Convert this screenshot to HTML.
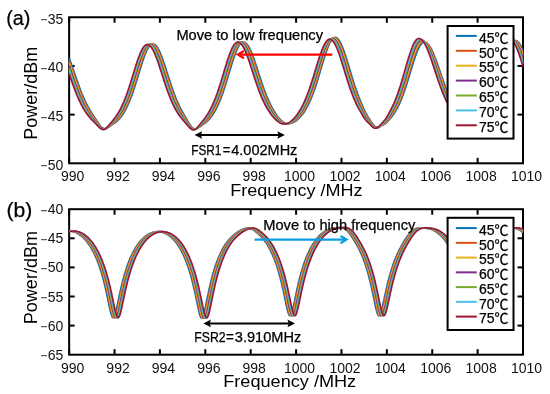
<!DOCTYPE html>
<html><head><meta charset="utf-8"><style>
html,body{margin:0;padding:0;background:#fff;}
svg{display:block;}
text{font-family:"Liberation Sans","Noto Sans CJK SC",sans-serif;fill:#000;stroke:#000;stroke-width:0.25px;}
.tk{font-size:14px;} .tk text{stroke:none;fill:#111;}
.lg{font-size:14px;}
</style></head><body>
<svg width="550" height="394" viewBox="0 0 550 394">
<rect width="550" height="394" fill="#fff"/>
<!-- plot a -->
<g stroke="#000" stroke-width="2" fill="none">
<rect x="69.15" y="17.25" width="453.85" height="146.05"/>
<line x1="69.15" y1="163.30" x2="69.15" y2="157.80"/>
<line x1="69.15" y1="17.25" x2="69.15" y2="22.75"/>
<line x1="114.54" y1="163.30" x2="114.54" y2="157.80"/>
<line x1="114.54" y1="17.25" x2="114.54" y2="22.75"/>
<line x1="159.92" y1="163.30" x2="159.92" y2="157.80"/>
<line x1="159.92" y1="17.25" x2="159.92" y2="22.75"/>
<line x1="205.31" y1="163.30" x2="205.31" y2="157.80"/>
<line x1="205.31" y1="17.25" x2="205.31" y2="22.75"/>
<line x1="250.69" y1="163.30" x2="250.69" y2="157.80"/>
<line x1="250.69" y1="17.25" x2="250.69" y2="22.75"/>
<line x1="296.08" y1="163.30" x2="296.08" y2="157.80"/>
<line x1="296.08" y1="17.25" x2="296.08" y2="22.75"/>
<line x1="341.46" y1="163.30" x2="341.46" y2="157.80"/>
<line x1="341.46" y1="17.25" x2="341.46" y2="22.75"/>
<line x1="386.85" y1="163.30" x2="386.85" y2="157.80"/>
<line x1="386.85" y1="17.25" x2="386.85" y2="22.75"/>
<line x1="432.23" y1="163.30" x2="432.23" y2="157.80"/>
<line x1="432.23" y1="17.25" x2="432.23" y2="22.75"/>
<line x1="477.62" y1="163.30" x2="477.62" y2="157.80"/>
<line x1="477.62" y1="17.25" x2="477.62" y2="22.75"/>
<line x1="523.00" y1="163.30" x2="523.00" y2="157.80"/>
<line x1="523.00" y1="17.25" x2="523.00" y2="22.75"/>
<line x1="69.15" y1="65.93" x2="74.65" y2="65.93"/>
<line x1="523.00" y1="65.93" x2="517.50" y2="65.93"/>
<line x1="69.15" y1="114.62" x2="74.65" y2="114.62"/>
<line x1="523.00" y1="114.62" x2="517.50" y2="114.62"/>
</g>
<g fill="none" stroke-width="1.7" stroke-linejoin="round">
<path d="M69.2 58.1 69.8 59.7 70.4 61.5 71.1 63.2 71.7 65.1 72.4 66.9 73.0 68.8 73.7 70.7 74.3 72.6 75.0 74.5 75.6 76.3 76.3 78.2 76.9 80.1 77.6 82.0 78.2 83.8 78.9 85.6 79.5 87.4 80.2 89.1 80.8 90.8 81.5 92.5 82.1 94.1 82.8 95.6 83.4 97.2 84.1 98.7 84.7 100.1 85.4 101.5 86.0 102.9 86.7 104.2 87.3 105.4 88.0 106.6 88.6 107.8 89.3 109.0 89.9 110.1 90.6 111.1 91.2 112.2 91.9 113.2 92.5 114.2 93.2 115.2 93.8 116.2 94.5 117.2 95.1 118.1 95.8 119.1 96.4 120.1 97.1 121.1 97.7 122.1 98.4 123.1 99.0 124.1 99.7 125.0 100.3 125.8 101.0 126.6 101.6 127.2 102.3 127.7 102.9 128.2 103.6 128.4 104.2 128.6 104.9 128.6 105.5 128.5 106.2 128.3 106.8 128.0 107.5 127.7 108.1 127.3 108.8 126.9 109.4 126.5 110.1 126.1 110.7 125.7 111.4 125.3 112.0 124.9 112.7 124.4 113.3 124.0 114.0 123.6 114.6 123.1 115.2 122.7 115.9 122.2 116.5 121.6 117.2 121.1 117.8 120.5 118.5 119.8 119.1 119.1 119.8 118.4 120.4 117.6 121.1 116.8 121.7 115.9 122.4 115.0 123.0 114.0 123.7 113.0 124.3 111.9 125.0 110.8 125.6 109.6 126.3 108.3 126.9 107.0 127.6 105.6 128.2 104.2 128.9 102.7 129.5 101.2 130.2 99.6 130.8 98.0 131.5 96.2 132.1 94.5 132.8 92.6 133.4 90.8 134.1 88.8 134.7 86.9 135.4 84.8 136.0 82.8 136.7 80.7 137.3 78.6 138.0 76.4 138.6 74.3 139.3 72.1 139.9 70.0 140.6 67.9 141.2 65.8 141.9 63.7 142.5 61.7 143.2 59.8 143.8 57.9 144.5 56.1 145.1 54.4 145.8 52.7 146.4 51.2 147.1 49.9 147.7 48.6 148.4 47.5 149.0 46.5 149.7 45.7 150.3 45.0 151.0 44.5 151.6 44.1 152.3 43.9 152.9 43.8 153.6 43.9 154.2 44.2 154.9 44.5 155.5 45.1 156.2 45.7 156.8 46.5 157.5 47.5 158.1 48.6 158.8 49.7 159.4 51.0 160.0 52.4 160.7 54.0 161.3 55.6 162.0 57.3 162.6 59.0 163.3 60.9 163.9 62.7 164.6 64.7 165.2 66.7 165.9 68.7 166.5 70.7 167.2 72.7 167.8 74.8 168.5 76.8 169.1 78.9 169.8 80.9 170.4 82.9 171.1 84.8 171.7 86.8 172.4 88.6 173.0 90.5 173.7 92.3 174.3 94.1 175.0 95.8 175.6 97.4 176.3 99.0 176.9 100.6 177.6 102.1 178.2 103.5 178.9 104.9 179.5 106.3 180.2 107.6 180.8 108.9 181.5 110.1 182.1 111.3 182.8 112.5 183.4 113.6 184.1 114.7 184.7 115.9 185.4 117.0 186.0 118.1 186.7 119.2 187.3 120.3 188.0 121.4 188.6 122.5 189.3 123.6 189.9 124.6 190.6 125.5 191.2 126.3 191.9 127.1 192.5 127.7 193.2 128.2 193.8 128.5 194.5 128.7 195.1 128.8 195.8 128.7 196.4 128.6 197.1 128.3 197.7 128.0 198.4 127.7 199.0 127.3 199.7 126.8 200.3 126.4 201.0 126.0 201.6 125.5 202.3 125.1 202.9 124.6 203.6 124.2 204.2 123.7 204.9 123.3 205.5 122.8 206.1 122.3 206.8 121.7 207.4 121.1 208.1 120.5 208.7 119.8 209.4 119.1 210.0 118.4 210.7 117.6 211.3 116.7 212.0 115.8 212.6 114.9 213.3 113.9 213.9 112.9 214.6 111.8 215.2 110.6 215.9 109.4 216.5 108.1 217.2 106.8 217.8 105.4 218.5 104.0 219.1 102.5 219.8 101.0 220.4 99.4 221.1 97.7 221.7 96.0 222.4 94.2 223.0 92.4 223.7 90.5 224.3 88.5 225.0 86.5 225.6 84.5 226.3 82.4 226.9 80.3 227.6 78.2 228.2 76.0 228.9 73.9 229.5 71.7 230.2 69.5 230.8 67.4 231.5 65.3 232.1 63.2 232.8 61.1 233.4 59.1 234.1 57.2 234.7 55.4 235.4 53.6 236.0 51.9 236.7 50.4 237.3 48.9 238.0 47.6 238.6 46.4 239.3 45.3 239.9 44.4 240.6 43.7 241.2 43.1 241.9 42.6 242.5 42.3 243.2 42.2 243.8 42.2 244.5 42.3 245.1 42.6 245.8 43.1 246.4 43.6 247.1 44.4 247.7 45.2 248.4 46.2 249.0 47.3 249.7 48.5 250.3 49.8 250.9 51.2 251.6 52.7 252.2 54.4 252.9 56.0 253.5 57.8 254.2 59.6 254.8 61.5 255.5 63.4 256.1 65.4 256.8 67.4 257.4 69.4 258.1 71.4 258.7 73.4 259.4 75.4 260.0 77.4 260.7 79.4 261.3 81.3 262.0 83.3 262.6 85.1 263.3 87.0 263.9 88.8 264.6 90.6 265.2 92.3 265.9 94.0 266.5 95.6 267.2 97.2 267.8 98.7 268.5 100.2 269.1 101.6 269.8 103.0 270.4 104.3 271.1 105.6 271.7 106.9 272.4 108.1 273.0 109.3 273.7 110.4 274.3 111.5 275.0 112.5 275.6 113.6 276.3 114.5 276.9 115.5 277.6 116.3 278.2 117.2 278.9 118.0 279.5 118.7 280.2 119.4 280.8 120.1 281.5 120.7 282.1 121.2 282.8 121.7 283.4 122.1 284.1 122.5 284.7 122.8 285.4 123.1 286.0 123.3 286.7 123.5 287.3 123.5 288.0 123.6 288.6 123.6 289.3 123.5 289.9 123.4 290.6 123.3 291.2 123.2 291.9 123.0 292.5 122.7 293.2 122.4 293.8 122.1 294.5 121.8 295.1 121.4 295.8 121.0 296.4 120.5 297.0 120.0 297.7 119.5 298.3 118.9 299.0 118.3 299.6 117.7 300.3 117.0 300.9 116.3 301.6 115.5 302.2 114.7 302.9 113.9 303.5 113.0 304.2 112.0 304.8 111.0 305.5 110.0 306.1 108.9 306.8 107.7 307.4 106.5 308.1 105.3 308.7 103.9 309.4 102.6 310.0 101.1 310.7 99.6 311.3 98.1 312.0 96.5 312.6 94.8 313.3 93.1 313.9 91.3 314.6 89.4 315.2 87.5 315.9 85.6 316.5 83.6 317.2 81.6 317.8 79.5 318.5 77.3 319.1 75.2 319.8 73.0 320.4 70.8 321.1 68.6 321.7 66.4 322.4 64.2 323.0 62.1 323.7 59.9 324.3 57.8 325.0 55.8 325.6 53.8 326.3 51.9 326.9 50.1 327.6 48.3 328.2 46.7 328.9 45.1 329.5 43.7 330.2 42.4 330.8 41.3 331.5 40.3 332.1 39.4 332.8 38.7 333.4 38.1 334.1 37.7 334.7 37.5 335.4 37.4 336.0 37.6 336.7 37.9 337.3 38.3 338.0 38.9 338.6 39.7 339.3 40.6 339.9 41.6 340.6 42.8 341.2 44.1 341.8 45.6 342.5 47.1 343.1 48.7 343.8 50.5 344.4 52.3 345.1 54.2 345.7 56.2 346.4 58.2 347.0 60.3 347.7 62.4 348.3 64.6 349.0 66.8 349.6 68.9 350.3 71.1 350.9 73.3 351.6 75.4 352.2 77.6 352.9 79.7 353.5 81.7 354.2 83.8 354.8 85.8 355.5 87.7 356.1 89.6 356.8 91.4 357.4 93.2 358.1 94.9 358.7 96.6 359.4 98.3 360.0 99.9 360.7 101.5 361.3 103.0 362.0 104.6 362.6 106.2 363.3 107.7 363.9 109.2 364.6 110.7 365.2 112.0 365.9 113.2 366.5 114.3 367.2 115.4 367.8 116.4 368.5 117.4 369.1 118.4 369.8 119.5 370.4 120.5 371.1 121.6 371.7 122.6 372.4 123.6 373.0 124.4 373.7 125.2 374.3 125.8 375.0 126.4 375.6 126.8 376.3 127.0 376.9 127.2 377.6 127.2 378.2 127.1 378.9 126.9 379.5 126.7 380.2 126.4 380.8 126.0 381.5 125.7 382.1 125.3 382.8 125.0 383.4 124.7 384.1 124.4 384.7 124.0 385.4 123.6 386.0 123.1 386.7 122.5 387.3 121.9 387.9 121.2 388.6 120.4 389.2 119.7 389.9 118.9 390.5 118.2 391.2 117.4 391.8 116.6 392.5 115.8 393.1 114.9 393.8 114.0 394.4 113.0 395.1 112.0 395.7 111.0 396.4 109.9 397.0 108.7 397.7 107.5 398.3 106.2 399.0 104.8 399.6 103.4 400.3 102.0 400.9 100.4 401.6 98.9 402.2 97.2 402.9 95.5 403.5 93.8 404.2 91.9 404.8 90.1 405.5 88.1 406.1 86.2 406.8 84.1 407.4 82.1 408.1 80.0 408.7 77.9 409.4 75.7 410.0 73.5 410.7 71.4 411.3 69.2 412.0 67.0 412.6 64.9 413.3 62.8 413.9 60.8 414.6 58.8 415.2 56.8 415.9 55.0 416.5 53.2 417.2 51.5 417.8 50.0 418.5 48.6 419.1 47.2 419.8 46.1 420.4 45.1 421.1 44.2 421.7 43.4 422.4 42.9 423.0 42.5 423.7 42.2 424.3 42.2 425.0 42.2 425.6 42.4 426.3 42.7 426.9 43.1 427.6 43.6 428.2 44.3 428.9 45.0 429.5 45.9 430.2 46.9 430.8 48.0 431.5 49.2 432.1 50.5 432.7 51.9 433.4 53.3 434.0 54.9 434.7 56.5 435.3 58.2 436.0 59.9 436.6 61.6 437.3 63.4 437.9 65.3 438.6 67.1 439.2 69.0 439.9 70.9 440.5 72.8 441.2 74.7 441.8 76.6 442.5 78.4 443.1 80.3 443.8 82.1 444.4 83.9 445.1 85.6 445.7 87.4 446.4 89.1 447.0 90.7 447.7 92.3 448.3 93.9 449.0 95.4 449.6 96.9 450.3 98.3 450.9 99.7 451.6 101.0 452.2 102.3 452.9 103.6 453.5 104.8 454.2 105.9 454.8 107.1 455.5 108.1 456.1 109.1 456.8 110.1 457.4 111.1 458.1 112.0 458.7 112.8 459.4 113.7 460.0 114.4 460.7 115.2 461.3 115.9 462.0 116.5 462.6 117.2 463.3 117.8 463.9 118.3 464.6 118.8 465.2 119.3 465.9 119.7 466.5 120.2 467.2 120.5 467.8 120.9 468.5 121.2 469.1 121.4 469.8 121.7 470.4 121.9 471.1 122.1 471.7 122.2 472.4 122.3 473.0 122.4 473.7 122.4 474.3 122.4 475.0 122.4 475.6 122.3 476.3 122.1 476.9 122.0 477.6 121.7 478.2 121.4 478.8 121.1 479.5 120.7 480.1 120.3 480.8 119.8 481.4 119.3 482.1 118.7 482.7 118.1 483.4 117.4 484.0 116.6 484.7 115.8 485.3 115.0 486.0 114.0 486.6 113.1 487.3 112.0 487.9 111.0 488.6 109.8 489.2 108.6 489.9 107.3 490.5 106.0 491.2 104.6 491.8 103.1 492.5 101.6 493.1 100.0 493.8 98.3 494.4 96.6 495.1 94.7 495.7 92.9 496.4 90.9 497.0 88.9 497.7 86.9 498.3 84.8 499.0 82.6 499.6 80.4 500.3 78.1 500.9 75.9 501.6 73.6 502.2 71.2 502.9 68.9 503.5 66.6 504.2 64.3 504.8 62.1 505.5 59.9 506.1 57.7 506.8 55.7 507.4 53.7 508.1 51.8 508.7 50.0 509.4 48.4 510.0 46.9 510.7 45.5 511.3 44.3 512.0 43.3 512.6 42.4 513.3 41.7 513.9 41.1 514.6 40.8 515.2 40.6 515.9 40.7 516.5 40.8 517.2 41.2 517.8 41.7 518.5 42.3 519.1 43.1 519.8 44.0 520.4 45.1 521.1 46.3 521.7 47.7 522.4 49.1 523.0 50.7" stroke="#0072BD"/>
<path d="M69.2 60.5 69.8 62.2 70.4 64.0 71.1 65.9 71.7 67.7 72.4 69.6 73.0 71.5 73.7 73.4 74.3 75.3 75.0 77.2 75.6 79.0 76.3 80.9 76.9 82.8 77.6 84.6 78.2 86.4 78.9 88.1 79.5 89.8 80.2 91.5 80.8 93.2 81.5 94.8 82.1 96.3 82.8 97.8 83.4 99.3 84.1 100.7 84.7 102.1 85.4 103.4 86.0 104.7 86.7 106.0 87.3 107.2 88.0 108.3 88.6 109.4 89.3 110.5 89.9 111.5 90.6 112.6 91.2 113.5 91.9 114.5 92.5 115.4 93.2 116.4 93.8 117.3 94.5 118.2 95.1 119.2 95.8 120.1 96.4 121.0 97.1 122.0 97.7 122.9 98.4 123.8 99.0 124.7 99.7 125.6 100.3 126.4 101.0 127.1 101.6 127.7 102.3 128.2 102.9 128.5 103.6 128.8 104.2 128.9 104.9 128.8 105.5 128.7 106.2 128.5 106.8 128.1 107.5 127.8 108.1 127.3 108.8 126.9 109.4 126.4 110.1 126.0 110.7 125.5 111.4 125.0 112.0 124.5 112.7 124.0 113.3 123.6 114.0 123.1 114.6 122.5 115.2 122.0 115.9 121.5 116.5 120.9 117.2 120.2 117.8 119.6 118.5 118.9 119.1 118.1 119.8 117.3 120.4 116.4 121.1 115.5 121.7 114.6 122.4 113.6 123.0 112.5 123.7 111.4 124.3 110.3 125.0 109.1 125.6 107.8 126.3 106.5 126.9 105.1 127.6 103.6 128.2 102.1 128.9 100.6 129.5 98.9 130.2 97.3 130.8 95.5 131.5 93.7 132.1 91.9 132.8 90.0 133.4 88.0 134.1 86.0 134.7 84.0 135.4 81.9 136.0 79.8 136.7 77.7 137.3 75.6 138.0 73.4 138.6 71.3 139.3 69.2 139.9 67.1 140.6 65.0 141.2 62.9 141.9 61.0 142.5 59.0 143.2 57.2 143.8 55.4 144.5 53.8 145.1 52.2 145.8 50.7 146.4 49.4 147.1 48.2 147.7 47.2 148.4 46.2 149.0 45.5 149.7 44.9 150.3 44.4 151.0 44.1 151.6 44.0 152.3 44.0 152.9 44.1 153.6 44.4 154.2 44.9 154.9 45.5 155.5 46.2 156.2 47.1 156.8 48.0 157.5 49.2 158.1 50.4 158.8 51.7 159.4 53.2 160.0 54.7 160.7 56.4 161.3 58.1 162.0 59.9 162.6 61.7 163.3 63.7 163.9 65.6 164.6 67.6 165.2 69.6 165.9 71.6 166.5 73.7 167.2 75.7 167.8 77.8 168.5 79.8 169.1 81.8 169.8 83.8 170.4 85.7 171.1 87.6 171.7 89.5 172.4 91.3 173.0 93.1 173.7 94.8 174.3 96.5 175.0 98.1 175.6 99.7 176.3 101.2 176.9 102.7 177.6 104.1 178.2 105.5 178.9 106.8 179.5 108.1 180.2 109.4 180.8 110.6 181.5 111.7 182.1 112.8 182.8 113.9 183.4 115.0 184.1 116.1 184.7 117.1 185.4 118.2 186.0 119.3 186.7 120.3 187.3 121.4 188.0 122.4 188.6 123.4 189.3 124.4 189.9 125.3 190.6 126.2 191.2 127.0 191.9 127.7 192.5 128.2 193.2 128.6 193.8 128.9 194.5 129.1 195.1 129.1 195.8 129.0 196.4 128.8 197.1 128.5 197.7 128.1 198.4 127.7 199.0 127.2 199.7 126.7 200.3 126.2 201.0 125.7 201.6 125.2 202.3 124.7 202.9 124.2 203.6 123.7 204.2 123.2 204.9 122.6 205.5 122.1 206.1 121.5 206.8 120.9 207.4 120.2 208.1 119.6 208.7 118.8 209.4 118.1 210.0 117.2 210.7 116.4 211.3 115.5 212.0 114.5 212.6 113.5 213.3 112.4 213.9 111.3 214.6 110.1 215.2 108.9 215.9 107.6 216.5 106.2 217.2 104.8 217.8 103.4 218.5 101.9 219.1 100.3 219.8 98.7 220.4 97.0 221.1 95.2 221.7 93.4 222.4 91.6 223.0 89.7 223.7 87.7 224.3 85.7 225.0 83.6 225.6 81.6 226.3 79.4 226.9 77.3 227.6 75.1 228.2 73.0 228.9 70.8 229.5 68.6 230.2 66.5 230.8 64.4 231.5 62.3 232.1 60.3 232.8 58.3 233.4 56.4 234.1 54.6 234.7 52.9 235.4 51.3 236.0 49.7 236.7 48.3 237.3 47.1 238.0 45.9 238.6 44.9 239.3 44.1 239.9 43.4 240.6 42.9 241.2 42.5 241.9 42.2 242.5 42.2 243.2 42.2 243.8 42.5 244.5 42.8 245.1 43.3 245.8 43.9 246.4 44.7 247.1 45.6 247.7 46.6 248.4 47.8 249.0 49.0 249.7 50.4 250.3 51.9 250.9 53.4 251.6 55.1 252.2 56.8 252.9 58.6 253.5 60.5 254.2 62.4 254.8 64.3 255.5 66.3 256.1 68.3 256.8 70.3 257.4 72.3 258.1 74.3 258.7 76.3 259.4 78.3 260.0 80.2 260.7 82.2 261.3 84.1 262.0 86.0 262.6 87.8 263.3 89.6 263.9 91.3 264.6 93.0 265.2 94.7 265.9 96.3 266.5 97.8 267.2 99.3 267.8 100.8 268.5 102.2 269.1 103.5 269.8 104.9 270.4 106.1 271.1 107.4 271.7 108.5 272.4 109.7 273.0 110.8 273.7 111.8 274.3 112.9 275.0 113.8 275.6 114.8 276.3 115.7 276.9 116.5 277.6 117.4 278.2 118.1 278.9 118.9 279.5 119.6 280.2 120.2 280.8 120.8 281.5 121.3 282.1 121.8 282.8 122.3 283.4 122.6 284.1 123.0 284.7 123.2 285.4 123.4 286.0 123.6 286.7 123.7 287.3 123.7 288.0 123.7 288.6 123.6 289.3 123.5 289.9 123.4 290.6 123.2 291.2 123.0 291.9 122.8 292.5 122.5 293.2 122.1 293.8 121.8 294.5 121.4 295.1 120.9 295.8 120.4 296.4 119.9 297.0 119.4 297.7 118.8 298.3 118.2 299.0 117.5 299.6 116.8 300.3 116.0 300.9 115.3 301.6 114.4 302.2 113.5 302.9 112.6 303.5 111.7 304.2 110.6 304.8 109.6 305.5 108.4 306.1 107.3 306.8 106.0 307.4 104.8 308.1 103.4 308.7 102.0 309.4 100.6 310.0 99.0 310.7 97.5 311.3 95.8 312.0 94.1 312.6 92.4 313.3 90.6 313.9 88.7 314.6 86.8 315.2 84.9 315.9 82.8 316.5 80.8 317.2 78.7 317.8 76.6 318.5 74.4 319.1 72.2 319.8 70.1 320.4 67.9 321.1 65.7 321.7 63.5 322.4 61.4 323.0 59.2 323.7 57.2 324.3 55.2 325.0 53.2 325.6 51.3 326.3 49.5 326.9 47.9 327.6 46.3 328.2 44.8 328.9 43.4 329.5 42.2 330.2 41.1 330.8 40.2 331.5 39.4 332.1 38.7 332.8 38.2 333.4 37.9 334.1 37.7 334.7 37.8 335.4 38.0 336.0 38.3 336.7 38.8 337.3 39.5 338.0 40.3 338.6 41.3 339.3 42.4 339.9 43.6 340.6 44.9 341.2 46.4 341.8 48.0 342.5 49.7 343.1 51.4 343.8 53.3 344.4 55.2 345.1 57.2 345.7 59.3 346.4 61.4 347.0 63.5 347.7 65.6 348.3 67.8 349.0 70.0 349.6 72.1 350.3 74.3 350.9 76.4 351.6 78.5 352.2 80.6 352.9 82.7 353.5 84.7 354.2 86.6 354.8 88.5 355.5 90.4 356.1 92.2 356.8 94.0 357.4 95.7 358.1 97.3 358.7 98.9 359.4 100.5 360.0 102.0 360.7 103.5 361.3 105.0 362.0 106.5 362.6 108.0 363.3 109.5 363.9 110.9 364.6 112.2 365.2 113.5 365.9 114.6 366.5 115.7 367.2 116.6 367.8 117.6 368.5 118.5 369.1 119.5 369.8 120.5 370.4 121.5 371.1 122.5 371.7 123.4 372.4 124.3 373.0 125.1 373.7 125.8 374.3 126.4 375.0 126.9 375.6 127.2 376.3 127.4 376.9 127.5 377.6 127.5 378.2 127.3 378.9 127.1 379.5 126.8 380.2 126.4 380.8 126.0 381.5 125.6 382.1 125.2 382.8 124.8 383.4 124.4 384.1 124.0 384.7 123.6 385.4 123.1 386.0 122.6 386.7 121.9 387.3 121.2 387.9 120.4 388.6 119.6 389.2 118.8 389.9 117.9 390.5 117.1 391.2 116.3 391.8 115.4 392.5 114.5 393.1 113.6 393.8 112.6 394.4 111.5 395.1 110.5 395.7 109.3 396.4 108.1 397.0 106.8 397.7 105.5 398.3 104.2 399.0 102.7 399.6 101.2 400.3 99.7 400.9 98.0 401.6 96.4 402.2 94.6 402.9 92.8 403.5 91.0 404.2 89.1 404.8 87.1 405.5 85.1 406.1 83.1 406.8 81.0 407.4 78.8 408.1 76.7 408.7 74.5 409.4 72.3 410.0 70.1 410.7 68.0 411.3 65.8 412.0 63.6 412.6 61.5 413.3 59.5 413.9 57.5 414.6 55.6 415.2 53.8 415.9 52.0 416.5 50.4 417.2 48.9 417.8 47.5 418.5 46.2 419.1 45.1 419.8 44.1 420.4 43.3 421.1 42.6 421.7 42.1 422.4 41.8 423.0 41.6 423.7 41.6 424.3 41.7 425.0 41.9 425.6 42.2 426.3 42.7 426.9 43.3 427.6 44.0 428.2 44.8 428.9 45.8 429.5 46.8 430.2 48.0 430.8 49.2 431.5 50.6 432.1 52.0 432.7 53.5 433.4 55.1 434.0 56.7 434.7 58.4 435.3 60.2 436.0 62.0 436.6 63.8 437.3 65.7 437.9 67.6 438.6 69.5 439.2 71.4 439.9 73.3 440.5 75.2 441.2 77.1 441.8 78.9 442.5 80.8 443.1 82.6 443.8 84.4 444.4 86.2 445.1 87.9 445.7 89.6 446.4 91.2 447.0 92.8 447.7 94.4 448.3 95.9 449.0 97.3 449.6 98.8 450.3 100.1 450.9 101.5 451.6 102.7 452.2 104.0 452.9 105.2 453.5 106.3 454.2 107.4 454.8 108.5 455.5 109.5 456.1 110.5 456.8 111.4 457.4 112.3 458.1 113.1 458.7 113.9 459.4 114.7 460.0 115.4 460.7 116.1 461.3 116.8 462.0 117.4 462.6 118.0 463.3 118.5 463.9 119.0 464.6 119.5 465.2 119.9 465.9 120.3 466.5 120.7 467.2 121.0 467.8 121.3 468.5 121.5 469.1 121.8 469.8 122.0 470.4 122.1 471.1 122.2 471.7 122.3 472.4 122.4 473.0 122.4 473.7 122.4 474.3 122.3 475.0 122.2 475.6 122.1 476.3 121.9 476.9 121.6 477.6 121.3 478.2 120.9 478.8 120.5 479.5 120.1 480.1 119.6 480.8 119.0 481.4 118.4 482.1 117.7 482.7 117.0 483.4 116.3 484.0 115.4 484.7 114.5 485.3 113.6 486.0 112.6 486.6 111.6 487.3 110.4 487.9 109.3 488.6 108.0 489.2 106.7 489.9 105.3 490.5 103.9 491.2 102.4 491.8 100.8 492.5 99.2 493.1 97.5 493.8 95.7 494.4 93.9 495.1 92.0 495.7 90.0 496.4 88.0 497.0 85.9 497.7 83.7 498.3 81.5 499.0 79.3 499.6 77.0 500.3 74.7 500.9 72.4 501.6 70.1 502.2 67.8 502.9 65.5 503.5 63.2 504.2 61.0 504.8 58.8 505.5 56.7 506.1 54.6 506.8 52.7 507.4 50.9 508.1 49.1 508.7 47.6 509.4 46.1 510.0 44.8 510.7 43.7 511.3 42.7 512.0 41.9 512.6 41.2 513.3 40.8 513.9 40.5 514.6 40.5 515.2 40.6 515.9 40.8 516.5 41.2 517.2 41.8 517.8 42.5 518.5 43.3 519.1 44.3 519.8 45.5 520.4 46.7 521.1 48.1 521.7 49.6 522.4 51.2 523.0 52.9" stroke="#D95319"/>
<path d="M69.2 63.0 69.8 64.8 70.4 66.7 71.1 68.5 71.7 70.4 72.4 72.3 73.0 74.2 73.7 76.1 74.3 78.0 75.0 79.9 75.6 81.7 76.3 83.5 76.9 85.4 77.6 87.1 78.2 88.9 78.9 90.6 79.5 92.2 80.2 93.9 80.8 95.4 81.5 97.0 82.1 98.5 82.8 99.9 83.4 101.3 84.1 102.7 84.7 104.0 85.4 105.3 86.0 106.5 86.7 107.7 87.3 108.8 88.0 109.9 88.6 110.9 89.3 112.0 89.9 112.9 90.6 113.9 91.2 114.8 91.9 115.7 92.5 116.6 93.2 117.5 93.8 118.3 94.5 119.2 95.1 120.1 95.8 121.0 96.4 121.9 97.1 122.8 97.7 123.6 98.4 124.5 99.0 125.4 99.7 126.2 100.3 126.9 101.0 127.6 101.6 128.1 102.3 128.6 102.9 128.9 103.6 129.1 104.2 129.1 104.9 129.0 105.5 128.8 106.2 128.6 106.8 128.2 107.5 127.8 108.1 127.3 108.8 126.8 109.4 126.2 110.1 125.7 110.7 125.2 111.4 124.6 112.0 124.1 112.7 123.5 113.3 123.0 114.0 122.4 114.6 121.9 115.2 121.3 115.9 120.6 116.5 120.0 117.2 119.3 117.8 118.6 118.5 117.8 119.1 117.0 119.8 116.1 120.4 115.2 121.1 114.2 121.7 113.2 122.4 112.1 123.0 111.0 123.7 109.8 124.3 108.5 125.0 107.2 125.6 105.9 126.3 104.5 126.9 103.0 127.6 101.5 128.2 99.9 128.9 98.3 129.5 96.6 130.2 94.8 130.8 93.0 131.5 91.1 132.1 89.2 132.8 87.2 133.4 85.2 134.1 83.2 134.7 81.1 135.4 79.0 136.0 76.9 136.7 74.7 137.3 72.6 138.0 70.5 138.6 68.3 139.3 66.2 139.9 64.2 140.6 62.2 141.2 60.2 141.9 58.3 142.5 56.5 143.2 54.8 143.8 53.2 144.5 51.7 145.1 50.3 145.8 49.0 146.4 47.9 147.1 46.9 147.7 46.0 148.4 45.3 149.0 44.8 149.7 44.4 150.3 44.2 151.0 44.1 151.6 44.2 152.3 44.4 152.9 44.7 153.6 45.2 154.2 45.9 154.9 46.7 155.5 47.6 156.2 48.6 156.8 49.8 157.5 51.1 158.1 52.5 158.8 53.9 159.4 55.5 160.0 57.2 160.7 58.9 161.3 60.8 162.0 62.6 162.6 64.6 163.3 66.5 163.9 68.5 164.6 70.6 165.2 72.6 165.9 74.6 166.5 76.7 167.2 78.7 167.8 80.7 168.5 82.7 169.1 84.6 169.8 86.6 170.4 88.5 171.1 90.3 171.7 92.1 172.4 93.9 173.0 95.6 173.7 97.2 174.3 98.8 175.0 100.4 175.6 101.9 176.3 103.4 176.9 104.8 177.6 106.1 178.2 107.4 178.9 108.6 179.5 109.9 180.2 111.0 180.8 112.1 181.5 113.2 182.1 114.3 182.8 115.3 183.4 116.3 184.1 117.3 184.7 118.3 185.4 119.3 186.0 120.3 186.7 121.3 187.3 122.3 188.0 123.3 188.6 124.2 189.3 125.1 189.9 126.0 190.6 126.8 191.2 127.5 191.9 128.2 192.5 128.7 193.2 129.0 193.8 129.3 194.5 129.3 195.1 129.3 195.8 129.1 196.4 128.9 197.1 128.5 197.7 128.1 198.4 127.6 199.0 127.1 199.7 126.5 200.3 125.9 201.0 125.4 201.6 124.8 202.3 124.2 202.9 123.7 203.6 123.1 204.2 122.5 204.9 121.9 205.5 121.3 206.1 120.7 206.8 120.0 207.4 119.3 208.1 118.5 208.7 117.7 209.4 116.9 210.0 116.0 210.7 115.1 211.3 114.1 212.0 113.0 212.6 111.9 213.3 110.8 213.9 109.6 214.6 108.3 215.2 107.0 215.9 105.7 216.5 104.2 217.2 102.8 217.8 101.2 218.5 99.6 219.1 98.0 219.8 96.2 220.4 94.5 221.1 92.6 221.7 90.8 222.4 88.8 223.0 86.9 223.7 84.8 224.3 82.8 225.0 80.7 225.6 78.5 226.3 76.4 226.9 74.2 227.6 72.1 228.2 69.9 228.9 67.7 229.5 65.6 230.2 63.5 230.8 61.4 231.5 59.4 232.1 57.5 232.8 55.6 233.4 53.9 234.1 52.2 234.7 50.6 235.4 49.1 236.0 47.8 236.7 46.6 237.3 45.5 238.0 44.6 238.6 43.8 239.3 43.1 239.9 42.7 240.6 42.4 241.2 42.2 241.9 42.2 242.5 42.3 243.2 42.6 243.8 43.0 244.5 43.6 245.1 44.3 245.8 45.1 246.4 46.1 247.1 47.1 247.7 48.3 248.4 49.6 249.0 51.1 249.7 52.6 250.3 54.2 250.9 55.8 251.6 57.6 252.2 59.4 252.9 61.3 253.5 63.2 254.2 65.2 254.8 67.1 255.5 69.1 256.1 71.2 256.8 73.2 257.4 75.2 258.1 77.2 258.7 79.2 259.4 81.1 260.0 83.0 260.7 84.9 261.3 86.8 262.0 88.6 262.6 90.3 263.3 92.1 263.9 93.7 264.6 95.4 265.2 96.9 265.9 98.5 266.5 99.9 267.2 101.4 267.8 102.8 268.5 104.1 269.1 105.4 269.8 106.6 270.4 107.8 271.1 109.0 271.7 110.1 272.4 111.1 273.0 112.2 273.7 113.2 274.3 114.1 275.0 115.0 275.6 115.9 276.3 116.8 276.9 117.6 277.6 118.3 278.2 119.0 278.9 119.7 279.5 120.3 280.2 120.9 280.8 121.4 281.5 121.9 282.1 122.4 282.8 122.7 283.4 123.0 284.1 123.3 284.7 123.5 285.4 123.7 286.0 123.8 286.7 123.8 287.3 123.8 288.0 123.7 288.6 123.6 289.3 123.5 289.9 123.3 290.6 123.1 291.2 122.8 291.9 122.5 292.5 122.1 293.2 121.7 293.8 121.3 294.5 120.8 295.1 120.3 295.8 119.8 296.4 119.2 297.0 118.6 297.7 118.0 298.3 117.3 299.0 116.5 299.6 115.8 300.3 115.0 300.9 114.1 301.6 113.2 302.2 112.3 302.9 111.3 303.5 110.2 304.2 109.1 304.8 108.0 305.5 106.8 306.1 105.5 306.8 104.2 307.4 102.9 308.1 101.5 308.7 100.0 309.4 98.4 310.0 96.8 310.7 95.2 311.3 93.5 312.0 91.7 312.6 89.9 313.3 88.0 313.9 86.1 314.6 84.1 315.2 82.1 315.9 80.0 316.5 77.9 317.2 75.8 317.8 73.6 318.5 71.5 319.1 69.3 319.8 67.1 320.4 64.9 321.1 62.8 321.7 60.6 322.4 58.6 323.0 56.5 323.7 54.5 324.3 52.6 325.0 50.8 325.6 49.1 326.3 47.4 326.9 45.9 327.6 44.5 328.2 43.2 328.9 42.0 329.5 41.0 330.2 40.1 330.8 39.4 331.5 38.8 332.1 38.4 332.8 38.1 333.4 38.0 334.1 38.1 334.7 38.4 335.4 38.8 336.0 39.4 336.7 40.1 337.3 41.0 338.0 42.0 338.6 43.1 339.3 44.4 339.9 45.8 340.6 47.3 341.2 48.9 341.8 50.6 342.5 52.4 343.1 54.3 343.8 56.2 344.4 58.2 345.1 60.3 345.7 62.4 346.4 64.5 347.0 66.7 347.7 68.8 348.3 71.0 349.0 73.1 349.6 75.3 350.3 77.4 350.9 79.5 351.6 81.6 352.2 83.6 352.9 85.6 353.5 87.5 354.2 89.4 354.8 91.2 355.5 93.0 356.1 94.7 356.8 96.4 357.4 98.0 358.1 99.6 358.7 101.1 359.4 102.6 360.0 104.0 360.7 105.4 361.3 106.9 362.0 108.3 362.6 109.7 363.3 111.1 363.9 112.4 364.6 113.7 365.2 114.9 365.9 115.9 366.5 116.9 367.2 117.8 367.8 118.7 368.5 119.6 369.1 120.5 369.8 121.4 370.4 122.3 371.1 123.3 371.7 124.2 372.4 125.0 373.0 125.7 373.7 126.4 374.3 126.9 375.0 127.3 375.6 127.6 376.3 127.7 376.9 127.8 377.6 127.7 378.2 127.5 378.9 127.2 379.5 126.8 380.2 126.4 380.8 125.9 381.5 125.4 382.1 124.9 382.8 124.5 383.4 124.0 384.1 123.6 384.7 123.1 385.4 122.6 386.0 121.9 386.7 121.2 387.3 120.4 387.9 119.6 388.6 118.7 389.2 117.8 389.9 116.9 390.5 116.0 391.2 115.1 391.8 114.1 392.5 113.1 393.1 112.1 393.8 111.0 394.4 109.9 395.1 108.8 395.7 107.5 396.4 106.2 397.0 104.9 397.7 103.5 398.3 102.0 399.0 100.5 399.6 98.9 400.3 97.2 400.9 95.5 401.6 93.7 402.2 91.9 402.9 90.0 403.5 88.1 404.2 86.1 404.8 84.0 405.5 82.0 406.1 79.8 406.8 77.7 407.4 75.5 408.1 73.3 408.7 71.1 409.4 68.9 410.0 66.7 410.7 64.5 411.3 62.4 412.0 60.3 412.6 58.2 413.3 56.3 413.9 54.4 414.6 52.5 415.2 50.8 415.9 49.2 416.5 47.7 417.2 46.4 417.8 45.2 418.5 44.1 419.1 43.2 419.8 42.4 420.4 41.8 421.1 41.3 421.7 41.1 422.4 40.9 423.0 41.0 423.7 41.1 424.3 41.4 425.0 41.8 425.6 42.3 426.3 43.0 426.9 43.8 427.6 44.7 428.2 45.7 428.9 46.8 429.5 48.0 430.2 49.3 430.8 50.7 431.5 52.1 432.1 53.7 432.7 55.3 433.4 57.0 434.0 58.7 434.7 60.5 435.3 62.4 436.0 64.2 436.6 66.1 437.3 68.0 437.9 69.9 438.6 71.8 439.2 73.8 439.9 75.7 440.5 77.6 441.2 79.4 441.8 81.3 442.5 83.1 443.1 84.9 443.8 86.7 444.4 88.4 445.1 90.1 445.7 91.7 446.4 93.3 447.0 94.8 447.7 96.3 448.3 97.8 449.0 99.2 449.6 100.6 450.3 101.9 450.9 103.2 451.6 104.4 452.2 105.6 452.9 106.7 453.5 107.8 454.2 108.8 454.8 109.8 455.5 110.8 456.1 111.7 456.8 112.6 457.4 113.4 458.1 114.2 458.7 115.0 459.4 115.7 460.0 116.4 460.7 117.0 461.3 117.6 462.0 118.2 462.6 118.7 463.3 119.2 463.9 119.7 464.6 120.1 465.2 120.5 465.9 120.8 466.5 121.1 467.2 121.4 467.8 121.6 468.5 121.9 469.1 122.0 469.8 122.2 470.4 122.3 471.1 122.4 471.7 122.4 472.4 122.4 473.0 122.4 473.7 122.3 474.3 122.2 475.0 122.0 475.6 121.8 476.3 121.5 476.9 121.1 477.6 120.8 478.2 120.3 478.8 119.9 479.5 119.3 480.1 118.8 480.8 118.1 481.4 117.4 482.1 116.7 482.7 115.9 483.4 115.0 484.0 114.1 484.7 113.2 485.3 112.1 486.0 111.0 486.6 109.9 487.3 108.7 487.9 107.4 488.6 106.1 489.2 104.7 489.9 103.2 490.5 101.7 491.2 100.0 491.8 98.4 492.5 96.6 493.1 94.8 493.8 93.0 494.4 91.0 495.1 89.0 495.7 87.0 496.4 84.8 497.0 82.7 497.7 80.5 498.3 78.2 499.0 75.9 499.6 73.6 500.3 71.3 500.9 69.0 501.6 66.6 502.2 64.3 502.9 62.1 503.5 59.9 504.2 57.7 504.8 55.6 505.5 53.6 506.1 51.7 506.8 49.9 507.4 48.3 508.1 46.7 508.7 45.4 509.4 44.1 510.0 43.0 510.7 42.1 511.3 41.4 512.0 40.9 512.6 40.5 513.3 40.3 513.9 40.3 514.6 40.5 515.2 40.8 515.9 41.3 516.5 41.9 517.2 42.7 517.8 43.6 518.5 44.7 519.1 45.9 519.8 47.2 520.4 48.6 521.1 50.2 521.7 51.8 522.4 53.6 523.0 55.4" stroke="#EDB120"/>
<path d="M69.2 65.6 69.8 67.5 70.4 69.3 71.1 71.2 71.7 73.1 72.4 75.0 73.0 76.9 73.7 78.8 74.3 80.7 75.0 82.5 75.6 84.3 76.3 86.1 76.9 87.9 77.6 89.6 78.2 91.3 78.9 92.9 79.5 94.6 80.2 96.1 80.8 97.6 81.5 99.1 82.1 100.5 82.8 101.9 83.4 103.3 84.1 104.5 84.7 105.8 85.4 107.0 86.0 108.1 86.7 109.3 87.3 110.3 88.0 111.4 88.6 112.4 89.3 113.3 89.9 114.2 90.6 115.1 91.2 116.0 91.9 116.8 92.5 117.7 93.2 118.5 93.8 119.3 94.5 120.1 95.1 120.9 95.8 121.8 96.4 122.6 97.1 123.5 97.7 124.3 98.4 125.1 99.0 125.9 99.7 126.7 100.3 127.4 101.0 128.0 101.6 128.5 102.3 128.9 102.9 129.1 103.6 129.3 104.2 129.3 104.9 129.1 105.5 128.9 106.2 128.6 106.8 128.2 107.5 127.7 108.1 127.1 108.8 126.6 109.4 126.0 110.1 125.4 110.7 124.8 111.4 124.2 112.0 123.6 112.7 123.0 113.3 122.4 114.0 121.7 114.6 121.1 115.2 120.4 115.9 119.7 116.5 119.0 117.2 118.3 117.8 117.4 118.5 116.6 119.1 115.7 119.8 114.8 120.4 113.8 121.1 112.7 121.7 111.6 122.4 110.5 123.0 109.3 123.7 108.0 124.3 106.7 125.0 105.3 125.6 103.9 126.3 102.4 126.9 100.8 127.6 99.2 128.2 97.6 128.9 95.8 129.5 94.1 130.2 92.2 130.8 90.4 131.5 88.4 132.1 86.4 132.8 84.4 133.4 82.4 134.1 80.3 134.7 78.2 135.4 76.0 136.0 73.9 136.7 71.8 137.3 69.6 138.0 67.5 138.6 65.4 139.3 63.4 139.9 61.4 140.6 59.5 141.2 57.6 141.9 55.9 142.5 54.2 143.2 52.6 143.8 51.2 144.5 49.8 145.1 48.6 145.8 47.5 146.4 46.6 147.1 45.8 147.7 45.2 148.4 44.7 149.0 44.4 149.7 44.2 150.3 44.2 151.0 44.4 151.6 44.6 152.3 45.1 152.9 45.6 153.6 46.3 154.2 47.2 154.9 48.1 155.5 49.2 156.2 50.4 156.8 51.8 157.5 53.2 158.1 54.7 158.8 56.3 159.4 58.0 160.0 59.8 160.7 61.7 161.3 63.5 162.0 65.5 162.6 67.5 163.3 69.5 163.9 71.5 164.6 73.5 165.2 75.6 165.9 77.6 166.5 79.6 167.2 81.6 167.8 83.6 168.5 85.5 169.1 87.4 169.8 89.3 170.4 91.1 171.1 92.9 171.7 94.6 172.4 96.3 173.0 98.0 173.7 99.5 174.3 101.1 175.0 102.6 175.6 104.0 176.3 105.4 176.9 106.7 177.6 107.9 178.2 109.2 178.9 110.3 179.5 111.5 180.2 112.6 180.8 113.6 181.5 114.6 182.1 115.6 182.8 116.6 183.4 117.5 184.1 118.5 184.7 119.4 185.4 120.3 186.0 121.2 186.7 122.2 187.3 123.1 188.0 124.0 188.6 124.9 189.3 125.8 189.9 126.6 190.6 127.4 191.2 128.0 191.9 128.6 192.5 129.0 193.2 129.3 193.8 129.5 194.5 129.5 195.1 129.4 195.8 129.2 196.4 128.9 197.1 128.5 197.7 128.0 198.4 127.4 199.0 126.8 199.7 126.2 200.3 125.6 201.0 124.9 201.6 124.3 202.3 123.7 202.9 123.1 203.6 122.4 204.2 121.8 204.9 121.1 205.5 120.5 206.1 119.7 206.8 119.0 207.4 118.2 208.1 117.4 208.7 116.5 209.4 115.6 210.0 114.7 210.7 113.6 211.3 112.6 212.0 111.5 212.6 110.3 213.3 109.1 213.9 107.8 214.6 106.5 215.2 105.1 215.9 103.6 216.5 102.1 217.2 100.5 217.8 98.9 218.5 97.2 219.1 95.5 219.8 93.7 220.4 91.9 221.1 90.0 221.7 88.0 222.4 86.0 223.0 84.0 223.7 81.9 224.3 79.8 225.0 77.6 225.6 75.5 226.3 73.3 226.9 71.1 227.6 69.0 228.2 66.8 228.9 64.7 229.5 62.6 230.2 60.6 230.8 58.6 231.5 56.7 232.1 54.9 232.8 53.1 233.4 51.5 234.1 50.0 234.7 48.6 235.4 47.3 236.0 46.1 236.7 45.1 237.3 44.2 238.0 43.5 238.6 42.9 239.3 42.5 239.9 42.3 240.6 42.2 241.2 42.2 241.9 42.4 242.5 42.8 243.2 43.2 243.8 43.9 244.5 44.6 245.1 45.5 245.8 46.5 246.4 47.6 247.1 48.9 247.7 50.3 248.4 51.7 249.0 53.3 249.7 54.9 250.3 56.6 250.9 58.4 251.6 60.2 252.2 62.1 252.9 64.1 253.5 66.0 254.2 68.0 254.8 70.0 255.5 72.0 256.1 74.1 256.8 76.1 257.4 78.1 258.1 80.0 258.7 82.0 259.4 83.9 260.0 85.7 260.7 87.6 261.3 89.4 262.0 91.1 262.6 92.8 263.3 94.5 263.9 96.1 264.6 97.6 265.2 99.1 265.9 100.6 266.5 102.0 267.2 103.3 267.8 104.6 268.5 105.9 269.1 107.1 269.8 108.3 270.4 109.4 271.1 110.5 271.7 111.5 272.4 112.5 273.0 113.5 273.7 114.4 274.3 115.3 275.0 116.1 275.6 117.0 276.3 117.7 276.9 118.5 277.6 119.2 278.2 119.8 278.9 120.4 279.5 121.0 280.2 121.5 280.8 122.0 281.5 122.4 282.1 122.8 282.8 123.1 283.4 123.4 284.1 123.6 284.7 123.7 285.4 123.8 286.0 123.9 286.7 123.9 287.3 123.8 288.0 123.7 288.6 123.6 289.3 123.4 289.9 123.1 290.6 122.8 291.2 122.5 291.9 122.1 292.5 121.7 293.2 121.3 293.8 120.8 294.5 120.2 295.1 119.7 295.8 119.1 296.4 118.4 297.0 117.8 297.7 117.0 298.3 116.3 299.0 115.5 299.6 114.7 300.3 113.8 300.9 112.9 301.6 111.9 302.2 110.9 302.9 109.8 303.5 108.7 304.2 107.5 304.8 106.3 305.5 105.0 306.1 103.7 306.8 102.3 307.4 100.9 308.1 99.4 308.7 97.8 309.4 96.2 310.0 94.6 310.7 92.8 311.3 91.0 312.0 89.2 312.6 87.3 313.3 85.4 313.9 83.4 314.6 81.3 315.2 79.3 315.9 77.2 316.5 75.0 317.2 72.9 317.8 70.7 318.5 68.5 319.1 66.3 319.8 64.2 320.4 62.1 321.1 60.0 321.7 57.9 322.4 55.9 323.0 53.9 323.7 52.1 324.3 50.3 325.0 48.6 325.6 47.0 326.3 45.5 326.9 44.2 327.6 42.9 328.2 41.8 328.9 40.9 329.5 40.1 330.2 39.4 330.8 38.9 331.5 38.6 332.1 38.4 332.8 38.4 333.4 38.5 334.1 38.8 334.7 39.3 335.4 40.0 336.0 40.7 336.7 41.6 337.3 42.7 338.0 43.9 338.6 45.2 339.3 46.6 339.9 48.2 340.6 49.8 341.2 51.6 341.8 53.4 342.5 55.3 343.1 57.2 343.8 59.3 344.4 61.3 345.1 63.4 345.7 65.6 346.4 67.7 347.0 69.9 347.7 72.0 348.3 74.1 349.0 76.3 349.6 78.4 350.3 80.4 350.9 82.5 351.6 84.5 352.2 86.4 352.9 88.4 353.5 90.2 354.2 92.0 354.8 93.8 355.5 95.5 356.1 97.1 356.8 98.7 357.4 100.2 358.1 101.7 358.7 103.2 359.4 104.6 360.0 105.9 360.7 107.3 361.3 108.6 362.0 109.9 362.6 111.3 363.3 112.6 363.9 113.9 364.6 115.1 365.2 116.2 365.9 117.2 366.5 118.1 367.2 118.9 367.8 119.7 368.5 120.5 369.1 121.4 369.8 122.2 370.4 123.1 371.1 124.0 371.7 124.8 372.4 125.6 373.0 126.2 373.7 126.8 374.3 127.3 375.0 127.7 375.6 127.9 376.3 128.0 376.9 127.9 377.6 127.8 378.2 127.5 378.9 127.2 379.5 126.7 380.2 126.2 380.8 125.7 381.5 125.1 382.1 124.6 382.8 124.1 383.4 123.6 384.1 123.0 384.7 122.5 385.4 121.9 386.0 121.2 386.7 120.4 387.3 119.5 387.9 118.6 388.6 117.6 389.2 116.7 389.9 115.7 390.5 114.7 391.2 113.7 391.8 112.7 392.5 111.6 393.1 110.5 393.8 109.4 394.4 108.2 395.1 106.9 395.7 105.6 396.4 104.2 397.0 102.8 397.7 101.3 398.3 99.7 399.0 98.1 399.6 96.4 400.3 94.6 400.9 92.8 401.6 91.0 402.2 89.0 402.9 87.1 403.5 85.0 404.2 82.9 404.8 80.8 405.5 78.7 406.1 76.5 406.8 74.3 407.4 72.1 408.1 69.9 408.7 67.6 409.4 65.4 410.0 63.2 410.7 61.1 411.3 59.0 412.0 57.0 412.6 55.0 413.3 53.1 413.9 51.3 414.6 49.7 415.2 48.1 415.9 46.6 416.5 45.3 417.2 44.1 417.8 43.1 418.5 42.2 419.1 41.5 419.8 41.0 420.4 40.6 421.1 40.4 421.7 40.3 422.4 40.4 423.0 40.6 423.7 41.0 424.3 41.4 425.0 42.0 425.6 42.7 426.3 43.6 426.9 44.5 427.6 45.6 428.2 46.7 428.9 48.0 429.5 49.3 430.2 50.8 430.8 52.3 431.5 53.9 432.1 55.6 432.7 57.3 433.4 59.1 434.0 60.9 434.7 62.7 435.3 64.6 436.0 66.5 436.6 68.5 437.3 70.4 437.9 72.3 438.6 74.3 439.2 76.2 439.9 78.1 440.5 80.0 441.2 81.8 441.8 83.6 442.5 85.4 443.1 87.2 443.8 88.9 444.4 90.6 445.1 92.2 445.7 93.8 446.4 95.3 447.0 96.8 447.7 98.3 448.3 99.7 449.0 101.0 449.6 102.3 450.3 103.6 450.9 104.8 451.6 106.0 452.2 107.1 452.9 108.2 453.5 109.2 454.2 110.2 454.8 111.1 455.5 112.0 456.1 112.9 456.8 113.7 457.4 114.5 458.1 115.3 458.7 116.0 459.4 116.6 460.0 117.3 460.7 117.8 461.3 118.4 462.0 118.9 462.6 119.4 463.3 119.8 463.9 120.2 464.6 120.6 465.2 120.9 465.9 121.2 466.5 121.5 467.2 121.7 467.8 121.9 468.5 122.1 469.1 122.2 469.8 122.3 470.4 122.4 471.1 122.4 471.7 122.4 472.4 122.3 473.0 122.2 473.7 122.1 474.3 121.9 475.0 121.6 475.6 121.3 476.3 121.0 476.9 120.6 477.6 120.1 478.2 119.6 478.8 119.1 479.5 118.5 480.1 117.8 480.8 117.1 481.4 116.3 482.1 115.5 482.7 114.6 483.4 113.7 484.0 112.7 484.7 111.6 485.3 110.5 486.0 109.3 486.6 108.1 487.3 106.8 487.9 105.4 488.6 104.0 489.2 102.5 489.9 100.9 490.5 99.3 491.2 97.6 491.8 95.8 492.5 93.9 493.1 92.0 493.8 90.1 494.4 88.0 495.1 85.9 495.7 83.8 496.4 81.6 497.0 79.4 497.7 77.1 498.3 74.8 499.0 72.5 499.6 70.1 500.3 67.8 500.9 65.5 501.6 63.2 502.2 61.0 502.9 58.8 503.5 56.6 504.2 54.6 504.8 52.6 505.5 50.8 506.1 49.0 506.8 47.4 507.4 46.0 508.1 44.6 508.7 43.5 509.4 42.5 510.0 41.6 510.7 41.0 511.3 40.5 512.0 40.2 512.6 40.1 513.3 40.2 513.9 40.4 514.6 40.8 515.2 41.4 515.9 42.1 516.5 42.9 517.2 43.9 517.8 45.0 518.5 46.3 519.1 47.6 519.8 49.1 520.4 50.7 521.1 52.4 521.7 54.2 522.4 56.1 523.0 58.0" stroke="#7E2F8E"/>
<path d="M69.2 68.3 69.8 70.2 70.4 72.1 71.1 73.9 71.7 75.8 72.4 77.7 73.0 79.6 73.7 81.5 74.3 83.3 75.0 85.1 75.6 86.9 76.3 88.6 76.9 90.4 77.6 92.0 78.2 93.7 78.9 95.2 79.5 96.8 80.2 98.3 80.8 99.7 81.5 101.1 82.1 102.5 82.8 103.8 83.4 105.1 84.1 106.3 84.7 107.5 85.4 108.6 86.0 109.7 86.7 110.8 87.3 111.8 88.0 112.8 88.6 113.7 89.3 114.6 89.9 115.5 90.6 116.3 91.2 117.1 91.9 117.9 92.5 118.7 93.2 119.4 93.8 120.2 94.5 121.0 95.1 121.7 95.8 122.5 96.4 123.3 97.1 124.1 97.7 124.9 98.4 125.6 99.0 126.4 99.7 127.1 100.3 127.7 101.0 128.3 101.6 128.8 102.3 129.1 102.9 129.3 103.6 129.4 104.2 129.4 104.9 129.2 105.5 128.9 106.2 128.5 106.8 128.0 107.5 127.5 108.1 126.9 108.8 126.3 109.4 125.6 110.1 124.9 110.7 124.3 111.4 123.6 112.0 123.0 112.7 122.3 113.3 121.6 114.0 120.9 114.6 120.2 115.2 119.5 115.9 118.7 116.5 118.0 117.2 117.1 117.8 116.2 118.5 115.3 119.1 114.4 119.8 113.3 120.4 112.3 121.1 111.2 121.7 110.0 122.4 108.8 123.0 107.5 123.7 106.1 124.3 104.7 125.0 103.3 125.6 101.8 126.3 100.2 126.9 98.6 127.6 96.9 128.2 95.1 128.9 93.3 129.5 91.5 130.2 89.6 130.8 87.6 131.5 85.6 132.1 83.6 132.8 81.5 133.4 79.4 134.1 77.3 134.7 75.2 135.4 73.0 136.0 70.9 136.7 68.8 137.3 66.7 138.0 64.7 138.6 62.6 139.3 60.7 139.9 58.8 140.6 57.0 141.2 55.3 141.9 53.6 142.5 52.1 143.2 50.7 143.8 49.4 144.5 48.3 145.1 47.2 145.8 46.4 146.4 45.7 147.1 45.1 147.7 44.7 148.4 44.4 149.0 44.4 149.7 44.4 150.3 44.6 151.0 44.9 151.6 45.4 152.3 46.0 152.9 46.8 153.6 47.7 154.2 48.7 154.9 49.8 155.5 51.1 156.2 52.5 156.8 53.9 157.5 55.5 158.1 57.1 158.8 58.9 159.4 60.7 160.0 62.5 160.7 64.5 161.3 66.4 162.0 68.4 162.6 70.4 163.3 72.4 163.9 74.5 164.6 76.5 165.2 78.5 165.9 80.5 166.5 82.5 167.2 84.5 167.8 86.4 168.5 88.3 169.1 90.1 169.8 91.9 170.4 93.7 171.1 95.4 171.7 97.1 172.4 98.7 173.0 100.2 173.7 101.7 174.3 103.2 175.0 104.6 175.6 105.9 176.3 107.2 176.9 108.5 177.6 109.7 178.2 110.8 178.9 111.9 179.5 113.0 180.2 114.0 180.8 115.0 181.5 115.9 182.1 116.9 182.8 117.8 183.4 118.6 184.1 119.5 184.7 120.4 185.4 121.2 186.0 122.1 186.7 123.0 187.3 123.8 188.0 124.7 188.6 125.5 189.3 126.4 189.9 127.1 190.6 127.8 191.2 128.4 191.9 128.9 192.5 129.3 193.2 129.6 193.8 129.7 194.5 129.7 195.1 129.5 195.8 129.2 196.4 128.8 197.1 128.3 197.7 127.8 198.4 127.1 199.0 126.5 199.7 125.8 200.3 125.1 201.0 124.4 201.6 123.8 202.3 123.1 202.9 122.4 203.6 121.7 204.2 121.0 204.9 120.2 205.5 119.5 206.1 118.7 206.8 117.9 207.4 117.1 208.1 116.2 208.7 115.2 209.4 114.2 210.0 113.2 210.7 112.1 211.3 111.0 212.0 109.8 212.6 108.5 213.3 107.2 213.9 105.9 214.6 104.5 215.2 103.0 215.9 101.5 216.5 99.9 217.2 98.2 217.8 96.5 218.5 94.8 219.1 92.9 219.8 91.1 220.4 89.1 221.1 87.2 221.7 85.1 222.4 83.1 223.0 81.0 223.7 78.9 224.3 76.7 225.0 74.6 225.6 72.4 226.3 70.2 226.9 68.1 227.6 65.9 228.2 63.8 228.9 61.8 229.5 59.8 230.2 57.8 230.8 55.9 231.5 54.1 232.1 52.4 232.8 50.8 233.4 49.4 234.1 48.0 234.7 46.8 235.4 45.7 236.0 44.7 236.7 43.9 237.3 43.2 238.0 42.7 238.6 42.4 239.3 42.2 239.9 42.2 240.6 42.3 241.2 42.6 241.9 43.0 242.5 43.5 243.2 44.2 243.8 45.0 244.5 45.9 245.1 47.0 245.8 48.2 246.4 49.5 247.1 50.9 247.7 52.4 248.4 54.0 249.0 55.7 249.7 57.4 250.3 59.2 250.9 61.1 251.6 63.0 252.2 64.9 252.9 66.9 253.5 68.9 254.2 70.9 254.8 72.9 255.5 74.9 256.1 76.9 256.8 78.9 257.4 80.9 258.1 82.8 258.7 84.7 259.4 86.6 260.0 88.4 260.7 90.1 261.3 91.9 262.0 93.5 262.6 95.2 263.3 96.7 263.9 98.3 264.6 99.8 265.2 101.2 265.9 102.6 266.5 103.9 267.2 105.2 267.8 106.4 268.5 107.6 269.1 108.7 269.8 109.8 270.4 110.9 271.1 111.9 271.7 112.9 272.4 113.8 273.0 114.7 273.7 115.5 274.3 116.4 275.0 117.2 275.6 117.9 276.3 118.6 276.9 119.3 277.6 119.9 278.2 120.5 278.9 121.1 279.5 121.6 280.2 122.1 280.8 122.5 281.5 122.9 282.1 123.2 282.8 123.4 283.4 123.6 284.1 123.8 284.7 123.9 285.4 123.9 286.0 123.9 286.7 123.9 287.3 123.8 288.0 123.6 288.6 123.4 289.3 123.2 289.9 122.9 290.6 122.5 291.2 122.1 291.9 121.7 292.5 121.2 293.2 120.7 293.8 120.1 294.5 119.6 295.1 118.9 295.8 118.3 296.4 117.6 297.0 116.8 297.7 116.0 298.3 115.2 299.0 114.4 299.6 113.5 300.3 112.5 300.9 111.5 301.6 110.5 302.2 109.4 302.9 108.3 303.5 107.1 304.2 105.8 304.8 104.5 305.5 103.2 306.1 101.8 306.8 100.3 307.4 98.8 308.1 97.2 308.7 95.6 309.4 93.9 310.0 92.2 310.7 90.3 311.3 88.5 312.0 86.6 312.6 84.6 313.3 82.6 313.9 80.6 314.6 78.5 315.2 76.4 315.9 74.2 316.5 72.1 317.2 69.9 317.8 67.8 318.5 65.6 319.1 63.5 319.8 61.3 320.4 59.3 321.1 57.2 321.7 55.3 322.4 53.4 323.0 51.5 323.7 49.8 324.3 48.1 325.0 46.6 325.6 45.2 326.3 43.9 326.9 42.7 327.6 41.7 328.2 40.8 328.9 40.1 329.5 39.5 330.2 39.0 330.8 38.8 331.5 38.6 332.1 38.7 332.8 38.9 333.4 39.3 334.1 39.9 334.7 40.5 335.4 41.4 336.0 42.3 336.7 43.4 337.3 44.7 338.0 46.0 338.6 47.5 339.3 49.1 339.9 50.7 340.6 52.5 341.2 54.4 341.8 56.3 342.5 58.3 343.1 60.3 343.8 62.4 344.4 64.5 345.1 66.6 345.7 68.7 346.4 70.9 347.0 73.0 347.7 75.1 348.3 77.2 349.0 79.3 349.6 81.4 350.3 83.4 350.9 85.4 351.6 87.3 352.2 89.2 352.9 91.0 353.5 92.8 354.2 94.5 354.8 96.2 355.5 97.8 356.1 99.4 356.8 100.9 357.4 102.3 358.1 103.7 358.7 105.1 359.4 106.4 360.0 107.7 360.7 109.0 361.3 110.2 362.0 111.5 362.6 112.7 363.3 114.0 363.9 115.2 364.6 116.3 365.2 117.4 365.9 118.3 366.5 119.1 367.2 119.9 367.8 120.6 368.5 121.4 369.1 122.2 369.8 123.0 370.4 123.8 371.1 124.6 371.7 125.3 372.4 126.1 373.0 126.7 373.7 127.2 374.3 127.6 375.0 127.9 375.6 128.1 376.3 128.1 376.9 128.0 377.6 127.8 378.2 127.5 378.9 127.0 379.5 126.5 380.2 126.0 380.8 125.4 381.5 124.8 382.1 124.2 382.8 123.6 383.4 123.0 384.1 122.4 384.7 121.8 385.4 121.1 386.0 120.3 386.7 119.5 387.3 118.5 387.9 117.5 388.6 116.5 389.2 115.5 389.9 114.4 390.5 113.3 391.2 112.3 391.8 111.2 392.5 110.0 393.1 108.8 393.8 107.6 394.4 106.3 395.1 104.9 395.7 103.5 396.4 102.0 397.0 100.5 397.7 98.9 398.3 97.2 399.0 95.5 399.6 93.7 400.3 91.9 400.9 90.0 401.6 88.0 402.2 86.0 402.9 83.9 403.5 81.8 404.2 79.7 404.8 77.5 405.5 75.3 406.1 73.1 406.8 70.8 407.4 68.6 408.1 66.4 408.7 64.2 409.4 62.0 410.0 59.8 410.7 57.7 411.3 55.7 412.0 53.8 412.6 51.9 413.3 50.1 413.9 48.5 414.6 47.0 415.2 45.5 415.9 44.3 416.5 43.1 417.2 42.2 417.8 41.3 418.5 40.7 419.1 40.2 419.8 39.9 420.4 39.7 421.1 39.7 421.7 39.9 422.4 40.1 423.0 40.5 423.7 41.1 424.3 41.7 425.0 42.5 425.6 43.4 426.3 44.4 426.9 45.5 427.6 46.7 428.2 48.0 428.9 49.4 429.5 50.9 430.2 52.5 430.8 54.1 431.5 55.8 432.1 57.6 432.7 59.4 433.4 61.3 434.0 63.2 434.7 65.1 435.3 67.0 436.0 68.9 436.6 70.9 437.3 72.8 437.9 74.8 438.6 76.7 439.2 78.6 439.9 80.5 440.5 82.3 441.2 84.2 441.8 86.0 442.5 87.7 443.1 89.4 443.8 91.1 444.4 92.7 445.1 94.3 445.7 95.8 446.4 97.3 447.0 98.7 447.7 100.1 448.3 101.5 449.0 102.8 449.6 104.0 450.3 105.2 450.9 106.4 451.6 107.5 452.2 108.5 452.9 109.6 453.5 110.5 454.2 111.5 454.8 112.4 455.5 113.2 456.1 114.0 456.8 114.8 457.4 115.5 458.1 116.2 458.7 116.9 459.4 117.5 460.0 118.1 460.7 118.6 461.3 119.1 462.0 119.6 462.6 120.0 463.3 120.4 463.9 120.7 464.6 121.1 465.2 121.3 465.9 121.6 466.5 121.8 467.2 122.0 467.8 122.2 468.5 122.3 469.1 122.3 469.8 122.4 470.4 122.4 471.1 122.4 471.7 122.3 472.4 122.2 473.0 122.0 473.7 121.8 474.3 121.5 475.0 121.2 475.6 120.8 476.3 120.4 476.9 119.9 477.6 119.4 478.2 118.8 478.8 118.2 479.5 117.5 480.1 116.7 480.8 116.0 481.4 115.1 482.1 114.2 482.7 113.2 483.4 112.2 484.0 111.1 484.7 110.0 485.3 108.8 486.0 107.5 486.6 106.1 487.3 104.7 487.9 103.3 488.6 101.7 489.2 100.1 489.9 98.5 490.5 96.7 491.2 94.9 491.8 93.0 492.5 91.1 493.1 89.1 493.8 87.0 494.4 84.9 495.1 82.7 495.7 80.5 496.4 78.3 497.0 76.0 497.7 73.7 498.3 71.3 499.0 69.0 499.6 66.7 500.3 64.4 500.9 62.1 501.6 59.9 502.2 57.7 502.9 55.6 503.5 53.6 504.2 51.6 504.8 49.8 505.5 48.2 506.1 46.6 506.8 45.2 507.4 43.9 508.1 42.8 508.7 41.9 509.4 41.2 510.0 40.6 510.7 40.2 511.3 40.0 512.0 40.0 512.6 40.1 513.3 40.4 513.9 40.9 514.6 41.5 515.2 42.3 515.9 43.2 516.5 44.2 517.2 45.4 517.8 46.7 518.5 48.1 519.1 49.7 519.8 51.3 520.4 53.1 521.1 54.9 521.7 56.8 522.4 58.8 523.0 60.8" stroke="#77AC30"/>
<path d="M69.2 71.0 69.8 72.9 70.4 74.8 71.1 76.7 71.7 78.6 72.4 80.4 73.0 82.3 73.7 84.1 74.3 85.9 75.0 87.7 75.6 89.4 76.3 91.1 76.9 92.7 77.6 94.3 78.2 95.9 78.9 97.4 79.5 98.9 80.2 100.4 80.8 101.7 81.5 103.1 82.1 104.4 82.8 105.6 83.4 106.8 84.1 108.0 84.7 109.1 85.4 110.2 86.0 111.2 86.7 112.2 87.3 113.2 88.0 114.1 88.6 114.9 89.3 115.8 89.9 116.6 90.6 117.4 91.2 118.1 91.9 118.9 92.5 119.6 93.2 120.3 93.8 121.0 94.5 121.7 95.1 122.4 95.8 123.2 96.4 123.9 97.1 124.6 97.7 125.4 98.4 126.1 99.0 126.8 99.7 127.5 100.3 128.1 101.0 128.6 101.6 129.0 102.3 129.3 102.9 129.4 103.6 129.5 104.2 129.4 104.9 129.2 105.5 128.8 106.2 128.4 106.8 127.8 107.5 127.2 108.1 126.6 108.8 125.9 109.4 125.2 110.1 124.4 110.7 123.7 111.4 123.0 112.0 122.3 112.7 121.5 113.3 120.8 114.0 120.0 114.6 119.3 115.2 118.5 115.9 117.7 116.5 116.8 117.2 115.9 117.8 114.9 118.5 114.0 119.1 112.9 119.8 111.8 120.4 110.7 121.1 109.5 121.7 108.2 122.4 106.9 123.0 105.6 123.7 104.1 124.3 102.7 125.0 101.1 125.6 99.5 126.3 97.9 126.9 96.2 127.6 94.4 128.2 92.6 128.9 90.7 129.5 88.8 130.2 86.8 130.8 84.8 131.5 82.8 132.1 80.7 132.8 78.6 133.4 76.5 134.1 74.3 134.7 72.2 135.4 70.1 136.0 68.0 136.7 65.9 137.3 63.9 138.0 61.9 138.6 60.0 139.3 58.1 139.9 56.3 140.6 54.6 141.2 53.1 141.9 51.6 142.5 50.2 143.2 49.0 143.8 47.9 144.5 47.0 145.1 46.2 145.8 45.5 146.4 45.0 147.1 44.7 147.7 44.5 148.4 44.5 149.0 44.6 149.7 44.8 150.3 45.2 151.0 45.8 151.6 46.5 152.3 47.3 152.9 48.2 153.6 49.3 154.2 50.5 154.9 51.8 155.5 53.2 156.2 54.7 156.8 56.3 157.5 58.0 158.1 59.7 158.8 61.6 159.4 63.4 160.0 65.4 160.7 67.3 161.3 69.3 162.0 71.3 162.6 73.4 163.3 75.4 163.9 77.4 164.6 79.4 165.2 81.4 165.9 83.4 166.5 85.3 167.2 87.3 167.8 89.1 168.5 91.0 169.1 92.7 169.8 94.5 170.4 96.2 171.1 97.8 171.7 99.4 172.4 100.9 173.0 102.4 173.7 103.8 174.3 105.2 175.0 106.5 175.6 107.8 176.3 109.0 176.9 110.2 177.6 111.3 178.2 112.4 178.9 113.4 179.5 114.4 180.2 115.4 180.8 116.3 181.5 117.2 182.1 118.0 182.8 118.9 183.4 119.7 184.1 120.5 184.7 121.3 185.4 122.1 186.0 122.9 186.7 123.7 187.3 124.5 188.0 125.3 188.6 126.1 189.3 126.8 189.9 127.5 190.6 128.2 191.2 128.7 191.9 129.2 192.5 129.5 193.2 129.7 193.8 129.8 194.5 129.7 195.1 129.5 195.8 129.1 196.4 128.6 197.1 128.1 197.7 127.5 198.4 126.8 199.0 126.1 199.7 125.3 200.3 124.6 201.0 123.8 201.6 123.1 202.3 122.3 202.9 121.6 203.6 120.8 204.2 120.0 204.9 119.3 205.5 118.4 206.1 117.6 206.8 116.7 207.4 115.8 208.1 114.8 208.7 113.8 209.4 112.8 210.0 111.6 210.7 110.5 211.3 109.3 212.0 108.0 212.6 106.7 213.3 105.3 213.9 103.9 214.6 102.4 215.2 100.8 215.9 99.2 216.5 97.5 217.2 95.8 217.8 94.0 218.5 92.2 219.1 90.3 219.8 88.3 220.4 86.3 221.1 84.3 221.7 82.2 222.4 80.1 223.0 78.0 223.7 75.8 224.3 73.7 225.0 71.5 225.6 69.3 226.3 67.2 226.9 65.0 227.6 63.0 228.2 60.9 228.9 58.9 229.5 57.0 230.2 55.2 230.8 53.4 231.5 51.8 232.1 50.2 232.8 48.8 233.4 47.5 234.1 46.3 234.7 45.2 235.4 44.3 236.0 43.6 236.7 43.0 237.3 42.6 238.0 42.3 238.6 42.2 239.3 42.2 239.9 42.4 240.6 42.7 241.2 43.2 241.9 43.8 242.5 44.5 243.2 45.4 243.8 46.4 244.5 47.5 245.1 48.7 245.8 50.1 246.4 51.5 247.1 53.1 247.7 54.7 248.4 56.4 249.0 58.2 249.7 60.0 250.3 61.9 250.9 63.8 251.6 65.8 252.2 67.8 252.9 69.8 253.5 71.8 254.2 73.8 254.8 75.8 255.5 77.8 256.1 79.8 256.8 81.7 257.4 83.7 258.1 85.5 258.7 87.4 259.4 89.2 260.0 90.9 260.7 92.6 261.3 94.3 262.0 95.9 262.6 97.4 263.3 98.9 263.9 100.4 264.6 101.8 265.2 103.1 265.9 104.4 266.5 105.7 267.2 106.9 267.8 108.0 268.5 109.2 269.1 110.2 269.8 111.3 270.4 112.2 271.1 113.2 271.7 114.1 272.4 115.0 273.0 115.8 273.7 116.6 274.3 117.4 275.0 118.1 275.6 118.8 276.3 119.4 276.9 120.0 277.6 120.6 278.2 121.2 278.9 121.7 279.5 122.1 280.2 122.5 280.8 122.9 281.5 123.2 282.1 123.5 282.8 123.7 283.4 123.8 284.1 123.9 284.7 124.0 285.4 124.0 286.0 123.9 286.7 123.8 287.3 123.7 288.0 123.4 288.6 123.2 289.3 122.9 289.9 122.5 290.6 122.1 291.2 121.7 291.9 121.2 292.5 120.6 293.2 120.0 293.8 119.4 294.5 118.8 295.1 118.1 295.8 117.4 296.4 116.6 297.0 115.8 297.7 114.9 298.3 114.1 299.0 113.1 299.6 112.2 300.3 111.1 300.9 110.1 301.6 109.0 302.2 107.8 302.9 106.6 303.5 105.3 304.2 104.0 304.8 102.7 305.5 101.2 306.1 99.7 306.8 98.2 307.4 96.6 308.1 95.0 308.7 93.2 309.4 91.5 310.0 89.7 310.7 87.8 311.3 85.9 312.0 83.9 312.6 81.9 313.3 79.8 313.9 77.7 314.6 75.6 315.2 73.5 315.9 71.3 316.5 69.2 317.2 67.0 317.8 64.9 318.5 62.7 319.1 60.7 319.8 58.6 320.4 56.6 321.1 54.7 321.7 52.8 322.4 51.0 323.0 49.3 323.7 47.7 324.3 46.3 325.0 44.9 325.6 43.7 326.3 42.5 326.9 41.6 327.6 40.8 328.2 40.1 328.9 39.6 329.5 39.2 330.2 39.0 330.8 39.0 331.5 39.1 332.1 39.4 332.8 39.8 333.4 40.4 334.1 41.1 334.7 42.0 335.4 43.0 336.0 44.2 336.7 45.5 337.3 46.8 338.0 48.4 338.6 50.0 339.3 51.7 339.9 53.5 340.6 55.3 341.2 57.3 341.8 59.3 342.5 61.3 343.1 63.4 343.8 65.5 344.4 67.6 345.1 69.7 345.7 71.9 346.4 74.0 347.0 76.1 347.7 78.2 348.3 80.3 349.0 82.3 349.6 84.3 350.3 86.3 350.9 88.2 351.6 90.0 352.2 91.8 352.9 93.6 353.5 95.3 354.2 96.9 354.8 98.5 355.5 100.0 356.1 101.5 356.8 102.9 357.4 104.3 358.1 105.6 358.7 106.9 359.4 108.1 360.0 109.3 360.7 110.5 361.3 111.7 362.0 112.9 362.6 114.1 363.3 115.3 363.9 116.4 364.6 117.5 365.2 118.4 365.9 119.3 366.5 120.1 367.2 120.8 367.8 121.5 368.5 122.2 369.1 122.9 369.8 123.6 370.4 124.4 371.1 125.1 371.7 125.8 372.4 126.5 373.0 127.0 373.7 127.5 374.3 127.9 375.0 128.1 375.6 128.2 376.3 128.2 376.9 128.0 377.6 127.7 378.2 127.3 378.9 126.8 379.5 126.3 380.2 125.6 380.8 125.0 381.5 124.3 382.1 123.6 382.8 123.0 383.4 122.3 384.1 121.7 384.7 121.0 385.4 120.2 386.0 119.4 386.7 118.4 387.3 117.4 387.9 116.4 388.6 115.2 389.2 114.1 389.9 113.0 390.5 111.8 391.2 110.7 391.8 109.5 392.5 108.3 393.1 107.0 393.8 105.7 394.4 104.3 395.1 102.8 395.7 101.3 396.4 99.7 397.0 98.1 397.7 96.4 398.3 94.6 399.0 92.8 399.6 90.9 400.3 89.0 400.9 87.0 401.6 84.9 402.2 82.8 402.9 80.7 403.5 78.5 404.2 76.3 404.8 74.1 405.5 71.8 406.1 69.6 406.8 67.3 407.4 65.1 408.1 62.9 408.7 60.7 409.4 58.5 410.0 56.5 410.7 54.4 411.3 52.5 412.0 50.7 412.6 48.9 413.3 47.3 413.9 45.8 414.6 44.5 415.2 43.2 415.9 42.2 416.5 41.2 417.2 40.5 417.8 39.9 418.5 39.4 419.1 39.2 419.8 39.1 420.4 39.2 421.1 39.4 421.7 39.7 422.4 40.2 423.0 40.7 423.7 41.5 424.3 42.3 425.0 43.2 425.6 44.3 426.3 45.5 426.9 46.7 427.6 48.1 428.2 49.5 428.9 51.1 429.5 52.7 430.2 54.4 430.8 56.1 431.5 57.9 432.1 59.8 432.7 61.7 433.4 63.6 434.0 65.5 434.7 67.5 435.3 69.4 436.0 71.4 436.6 73.3 437.3 75.3 437.9 77.2 438.6 79.1 439.2 81.0 439.9 82.9 440.5 84.7 441.2 86.5 441.8 88.2 442.5 89.9 443.1 91.6 443.8 93.2 444.4 94.8 445.1 96.3 445.7 97.8 446.4 99.2 447.0 100.6 447.7 101.9 448.3 103.2 449.0 104.4 449.6 105.6 450.3 106.7 450.9 107.8 451.6 108.9 452.2 109.9 452.9 110.9 453.5 111.8 454.2 112.7 454.8 113.5 455.5 114.3 456.1 115.1 456.8 115.8 457.4 116.5 458.1 117.1 458.7 117.7 459.4 118.3 460.0 118.8 460.7 119.3 461.3 119.7 462.0 120.1 462.6 120.5 463.3 120.9 463.9 121.2 464.6 121.5 465.2 121.7 465.9 121.9 466.5 122.1 467.2 122.2 467.8 122.3 468.5 122.4 469.1 122.4 469.8 122.4 470.4 122.4 471.1 122.3 471.7 122.1 472.4 121.9 473.0 121.7 473.7 121.4 474.3 121.0 475.0 120.6 475.6 120.2 476.3 119.7 476.9 119.1 477.6 118.5 478.2 117.9 478.8 117.2 479.5 116.4 480.1 115.6 480.8 114.7 481.4 113.8 482.1 112.8 482.7 111.7 483.4 110.6 484.0 109.4 484.7 108.2 485.3 106.9 486.0 105.5 486.6 104.1 487.3 102.6 487.9 101.0 488.6 99.3 489.2 97.6 489.9 95.9 490.5 94.0 491.2 92.1 491.8 90.1 492.5 88.1 493.1 86.0 493.8 83.9 494.4 81.7 495.1 79.4 495.7 77.2 496.4 74.8 497.0 72.5 497.7 70.2 498.3 67.8 499.0 65.5 499.6 63.2 500.3 61.0 500.9 58.8 501.6 56.6 502.2 54.5 502.9 52.6 503.5 50.7 504.2 48.9 504.8 47.3 505.5 45.8 506.1 44.5 506.8 43.3 507.4 42.2 508.1 41.4 508.7 40.7 509.4 40.2 510.0 39.9 510.7 39.8 511.3 39.9 512.0 40.1 512.6 40.4 513.3 41.0 513.9 41.6 514.6 42.5 515.2 43.4 515.9 44.6 516.5 45.8 517.2 47.2 517.8 48.6 518.5 50.2 519.1 51.9 519.8 53.7 520.4 55.6 521.1 57.5 521.7 59.5 522.4 61.6 523.0 63.7" stroke="#4DBEEE"/>
<path d="M69.2 73.7 69.8 75.6 70.4 77.5 71.1 79.4 71.7 81.2 72.4 83.1 73.0 84.9 73.7 86.7 74.3 88.4 75.0 90.1 75.6 91.8 76.3 93.4 76.9 95.0 77.6 96.6 78.2 98.1 78.9 99.5 79.5 101.0 80.2 102.3 80.8 103.6 81.5 104.9 82.1 106.2 82.8 107.3 83.4 108.5 84.1 109.6 84.7 110.6 85.4 111.7 86.0 112.6 86.7 113.6 87.3 114.4 88.0 115.3 88.6 116.1 89.3 116.9 89.9 117.6 90.6 118.4 91.2 119.1 91.9 119.8 92.5 120.4 93.2 121.1 93.8 121.7 94.5 122.4 95.1 123.1 95.8 123.7 96.4 124.4 97.1 125.1 97.7 125.8 98.4 126.5 99.0 127.1 99.7 127.8 100.3 128.3 101.0 128.8 101.6 129.1 102.3 129.4 102.9 129.5 103.6 129.5 104.2 129.3 104.9 129.1 105.5 128.7 106.2 128.1 106.8 127.5 107.5 126.9 108.1 126.2 108.8 125.4 109.4 124.6 110.1 123.8 110.7 123.1 111.4 122.3 112.0 121.5 112.7 120.7 113.3 119.9 114.0 119.1 114.6 118.2 115.2 117.4 115.9 116.5 116.5 115.5 117.2 114.6 117.8 113.5 118.5 112.5 119.1 111.4 119.8 110.2 120.4 109.0 121.1 107.7 121.7 106.4 122.4 105.0 123.0 103.6 123.7 102.0 124.3 100.5 125.0 98.9 125.6 97.2 126.3 95.5 126.9 93.7 127.6 91.8 128.2 89.9 128.9 88.0 129.5 86.0 130.2 84.0 130.8 81.9 131.5 79.9 132.1 77.7 132.8 75.6 133.4 73.5 134.1 71.4 134.7 69.3 135.4 67.2 136.0 65.1 136.7 63.1 137.3 61.1 138.0 59.3 138.6 57.4 139.3 55.7 139.9 54.1 140.6 52.5 141.2 51.1 141.9 49.8 142.5 48.7 143.2 47.6 143.8 46.7 144.5 46.0 145.1 45.4 145.8 45.0 146.4 44.7 147.1 44.6 147.7 44.6 148.4 44.8 149.0 45.1 149.7 45.6 150.3 46.2 151.0 46.9 151.6 47.8 152.3 48.8 152.9 49.9 153.6 51.1 154.2 52.5 154.9 53.9 155.5 55.5 156.2 57.1 156.8 58.8 157.5 60.6 158.1 62.4 158.8 64.3 159.4 66.3 160.0 68.3 160.7 70.3 161.3 72.3 162.0 74.3 162.6 76.3 163.3 78.3 163.9 80.4 164.6 82.3 165.2 84.3 165.9 86.2 166.5 88.1 167.2 90.0 167.8 91.8 168.5 93.5 169.1 95.2 169.8 96.9 170.4 98.5 171.1 100.1 171.7 101.6 172.4 103.0 173.0 104.4 173.7 105.8 174.3 107.1 175.0 108.3 175.6 109.5 176.3 110.7 176.9 111.8 177.6 112.8 178.2 113.8 178.9 114.8 179.5 115.7 180.2 116.6 180.8 117.5 181.5 118.3 182.1 119.1 182.8 119.8 183.4 120.6 184.1 121.3 184.7 122.1 185.4 122.8 186.0 123.6 186.7 124.3 187.3 125.1 188.0 125.8 188.6 126.6 189.3 127.2 189.9 127.9 190.6 128.5 191.2 129.0 191.9 129.4 192.5 129.6 193.2 129.8 193.8 129.8 194.5 129.6 195.1 129.3 195.8 128.9 196.4 128.4 197.1 127.8 197.7 127.1 198.4 126.3 199.0 125.6 199.7 124.8 200.3 124.0 201.0 123.1 201.6 122.3 202.3 121.5 202.9 120.7 203.6 119.9 204.2 119.0 204.9 118.2 205.5 117.3 206.1 116.4 206.8 115.4 207.4 114.4 208.1 113.4 208.7 112.3 209.4 111.2 210.0 110.0 210.7 108.7 211.3 107.5 212.0 106.1 212.6 104.7 213.3 103.2 213.9 101.7 214.6 100.1 215.2 98.5 215.9 96.8 216.5 95.0 217.2 93.2 217.8 91.4 218.5 89.4 219.1 87.5 219.8 85.5 220.4 83.4 221.1 81.3 221.7 79.2 222.4 77.1 223.0 74.9 223.7 72.7 224.3 70.6 225.0 68.4 225.6 66.3 226.3 64.2 226.9 62.1 227.6 60.1 228.2 58.1 228.9 56.2 229.5 54.4 230.2 52.7 230.8 51.1 231.5 49.6 232.1 48.2 232.8 46.9 233.4 45.8 234.1 44.8 234.7 44.0 235.4 43.3 236.0 42.8 236.7 42.4 237.3 42.2 238.0 42.2 238.6 42.3 239.3 42.5 239.9 42.9 240.6 43.4 241.2 44.1 241.9 44.9 242.5 45.8 243.2 46.9 243.8 48.0 244.5 49.3 245.1 50.7 245.8 52.2 246.4 53.8 247.1 55.5 247.7 57.2 248.4 59.0 249.0 60.9 249.7 62.8 250.3 64.7 250.9 66.7 251.6 68.7 252.2 70.7 252.9 72.7 253.5 74.7 254.2 76.7 254.8 78.7 255.5 80.7 256.1 82.6 256.8 84.5 257.4 86.3 258.1 88.2 258.7 89.9 259.4 91.7 260.0 93.4 260.7 95.0 261.3 96.6 262.0 98.1 262.6 99.6 263.3 101.0 263.9 102.4 264.6 103.7 265.2 105.0 265.9 106.2 266.5 107.4 267.2 108.5 267.8 109.6 268.5 110.6 269.1 111.6 269.8 112.6 270.4 113.5 271.1 114.4 271.7 115.2 272.4 116.0 273.0 116.8 273.7 117.6 274.3 118.3 275.0 118.9 275.6 119.5 276.3 120.1 276.9 120.7 277.6 121.2 278.2 121.7 278.9 122.1 279.5 122.5 280.2 122.9 280.8 123.2 281.5 123.5 282.1 123.7 282.8 123.8 283.4 123.9 284.1 124.0 284.7 124.0 285.4 123.9 286.0 123.8 286.7 123.7 287.3 123.5 288.0 123.2 288.6 122.9 289.3 122.5 289.9 122.1 290.6 121.6 291.2 121.1 291.9 120.5 292.5 119.9 293.2 119.3 293.8 118.6 294.5 117.9 295.1 117.2 295.8 116.4 296.4 115.5 297.0 114.7 297.7 113.8 298.3 112.8 299.0 111.8 299.6 110.8 300.3 109.7 300.9 108.6 301.6 107.4 302.2 106.1 302.9 104.8 303.5 103.5 304.2 102.1 304.8 100.7 305.5 99.2 306.1 97.6 306.8 96.0 307.4 94.3 308.1 92.6 308.7 90.8 309.4 89.0 310.0 87.1 310.7 85.1 311.3 83.2 312.0 81.1 312.6 79.1 313.3 77.0 313.9 74.9 314.6 72.7 315.2 70.6 315.9 68.4 316.5 66.3 317.2 64.1 317.8 62.0 318.5 60.0 319.1 58.0 319.8 56.0 320.4 54.1 321.1 52.3 321.7 50.5 322.4 48.9 323.0 47.3 323.7 45.9 324.3 44.6 325.0 43.4 325.6 42.4 326.3 41.5 326.9 40.7 327.6 40.1 328.2 39.7 328.9 39.4 329.5 39.3 330.2 39.3 330.8 39.5 331.5 39.8 332.1 40.3 332.8 41.0 333.4 41.8 334.1 42.7 334.7 43.7 335.4 44.9 336.0 46.3 336.7 47.7 337.3 49.2 338.0 50.9 338.6 52.6 339.3 54.4 339.9 56.3 340.6 58.3 341.2 60.3 341.8 62.3 342.5 64.4 343.1 66.5 343.8 68.6 344.4 70.8 345.1 72.9 345.7 75.0 346.4 77.1 347.0 79.2 347.7 81.2 348.3 83.2 349.0 85.2 349.6 87.1 350.3 89.0 350.9 90.8 351.6 92.6 352.2 94.3 352.9 96.0 353.5 97.6 354.2 99.2 354.8 100.7 355.5 102.1 356.1 103.5 356.8 104.9 357.4 106.2 358.1 107.4 358.7 108.6 359.4 109.8 360.0 110.9 360.7 112.0 361.3 113.1 362.0 114.2 362.6 115.4 363.3 116.5 363.9 117.5 364.6 118.5 365.2 119.4 365.9 120.2 366.5 121.0 367.2 121.6 367.8 122.2 368.5 122.9 369.1 123.5 369.8 124.2 370.4 124.9 371.1 125.6 371.7 126.2 372.4 126.8 373.0 127.3 373.7 127.7 374.3 128.0 375.0 128.2 375.6 128.2 376.3 128.2 376.9 127.9 377.6 127.6 378.2 127.1 378.9 126.5 379.5 125.9 380.2 125.2 380.8 124.5 381.5 123.7 382.1 123.0 382.8 122.3 383.4 121.6 384.1 120.8 384.7 120.1 385.4 119.2 386.0 118.3 386.7 117.3 387.3 116.2 387.9 115.1 388.6 113.9 389.2 112.7 389.9 111.4 390.5 110.2 391.2 109.0 391.8 107.7 392.5 106.4 393.1 105.0 393.8 103.6 394.4 102.1 395.1 100.5 395.7 98.9 396.4 97.3 397.0 95.5 397.7 93.7 398.3 91.9 399.0 89.9 399.6 88.0 400.3 85.9 400.9 83.9 401.6 81.7 402.2 79.6 402.9 77.3 403.5 75.1 404.2 72.9 404.8 70.6 405.5 68.3 406.1 66.0 406.8 63.8 407.4 61.6 408.1 59.4 408.7 57.2 409.4 55.2 410.0 53.2 410.7 51.3 411.3 49.5 412.0 47.8 412.6 46.2 413.3 44.7 413.9 43.4 414.6 42.2 415.2 41.2 415.9 40.3 416.5 39.6 417.2 39.1 417.8 38.7 418.5 38.5 419.1 38.5 419.8 38.6 420.4 38.9 421.1 39.3 421.7 39.8 422.4 40.4 423.0 41.2 423.7 42.1 424.3 43.1 425.0 44.2 425.6 45.5 426.3 46.8 426.9 48.2 427.6 49.7 428.2 51.3 428.9 52.9 429.5 54.7 430.2 56.4 430.8 58.3 431.5 60.2 432.1 62.1 432.7 64.0 433.4 66.0 434.0 67.9 434.7 69.9 435.3 71.9 436.0 73.9 436.6 75.8 437.3 77.8 437.9 79.7 438.6 81.6 439.2 83.4 439.9 85.2 440.5 87.0 441.2 88.7 441.8 90.4 442.5 92.1 443.1 93.7 443.8 95.3 444.4 96.8 445.1 98.2 445.7 99.6 446.4 101.0 447.0 102.3 447.7 103.6 448.3 104.8 449.0 106.0 449.6 107.1 450.3 108.2 450.9 109.3 451.6 110.3 452.2 111.2 452.9 112.1 453.5 113.0 454.2 113.8 454.8 114.6 455.5 115.3 456.1 116.0 456.8 116.7 457.4 117.3 458.1 117.9 458.7 118.5 459.4 119.0 460.0 119.5 460.7 119.9 461.3 120.3 462.0 120.7 462.6 121.0 463.3 121.3 463.9 121.6 464.6 121.8 465.2 122.0 465.9 122.1 466.5 122.2 467.2 122.3 467.8 122.4 468.5 122.4 469.1 122.4 469.8 122.3 470.4 122.2 471.1 122.0 471.7 121.8 472.4 121.5 473.0 121.2 473.7 120.9 474.3 120.4 475.0 120.0 475.6 119.4 476.3 118.9 476.9 118.2 477.6 117.6 478.2 116.8 478.8 116.0 479.5 115.2 480.1 114.3 480.8 113.3 481.4 112.3 482.1 111.2 482.7 110.0 483.4 108.8 484.0 107.6 484.7 106.2 485.3 104.8 486.0 103.4 486.6 101.8 487.3 100.2 487.9 98.5 488.6 96.8 489.2 95.0 489.9 93.1 490.5 91.2 491.2 89.2 491.8 87.1 492.5 85.0 493.1 82.8 493.8 80.6 494.4 78.3 495.1 76.0 495.7 73.7 496.4 71.4 497.0 69.0 497.7 66.7 498.3 64.4 499.0 62.1 499.6 59.8 500.3 57.7 500.9 55.5 501.6 53.5 502.2 51.6 502.9 49.7 503.5 48.0 504.2 46.5 504.8 45.0 505.5 43.8 506.1 42.6 506.8 41.7 507.4 40.9 508.1 40.3 508.7 39.9 509.4 39.7 510.0 39.7 510.7 39.8 511.3 40.1 512.0 40.5 512.6 41.1 513.3 41.8 513.9 42.7 514.6 43.8 515.2 44.9 515.9 46.2 516.5 47.6 517.2 49.2 517.8 50.8 518.5 52.6 519.1 54.4 519.8 56.3 520.4 58.3 521.1 60.3 521.7 62.4 522.4 64.5 523.0 66.6" stroke="#A2142F"/>
</g>
<g class="tk">
<text x="72.65" y="180.90" text-anchor="middle">990</text>
<text x="118.04" y="180.90" text-anchor="middle">992</text>
<text x="163.42" y="180.90" text-anchor="middle">994</text>
<text x="208.81" y="180.90" text-anchor="middle">996</text>
<text x="254.19" y="180.90" text-anchor="middle">998</text>
<text x="299.58" y="180.90" text-anchor="middle">1000</text>
<text x="344.96" y="180.90" text-anchor="middle">1002</text>
<text x="390.35" y="180.90" text-anchor="middle">1004</text>
<text x="435.73" y="180.90" text-anchor="middle">1006</text>
<text x="481.12" y="180.90" text-anchor="middle">1008</text>
<text x="526.50" y="180.90" text-anchor="middle">1010</text>
<text x="63.3" y="23.75" text-anchor="end"><tspan style="font-size:12.2px" dy="0.5">−</tspan><tspan dy="-0.5" dx="0.3">35</tspan></text>
<text x="63.3" y="72.43" text-anchor="end"><tspan style="font-size:12.2px" dy="0.5">−</tspan><tspan dy="-0.5" dx="0.3">40</tspan></text>
<text x="63.3" y="121.12" text-anchor="end"><tspan style="font-size:12.2px" dy="0.5">−</tspan><tspan dy="-0.5" dx="0.3">45</tspan></text>
<text x="63.3" y="169.80" text-anchor="end"><tspan style="font-size:12.2px" dy="0.5">−</tspan><tspan dy="-0.5" dx="0.3">50</tspan></text>
</g>
<rect x="447.6" y="26.00" width="65.9" height="112.60" fill="#fff" stroke="#000" stroke-width="2"/>
<line x1="455.8" y1="35.90" x2="476.8" y2="35.90" stroke="#0072BD" stroke-width="2"/>
<text x="479" y="42.60" class="lg">45℃</text>
<line x1="455.8" y1="50.80" x2="476.8" y2="50.80" stroke="#D95319" stroke-width="2"/>
<text x="479" y="57.50" class="lg">50℃</text>
<line x1="455.8" y1="65.70" x2="476.8" y2="65.70" stroke="#EDB120" stroke-width="2"/>
<text x="479" y="72.40" class="lg">55℃</text>
<line x1="455.8" y1="80.60" x2="476.8" y2="80.60" stroke="#7E2F8E" stroke-width="2"/>
<text x="479" y="87.30" class="lg">60℃</text>
<line x1="455.8" y1="95.50" x2="476.8" y2="95.50" stroke="#77AC30" stroke-width="2"/>
<text x="479" y="102.20" class="lg">65℃</text>
<line x1="455.8" y1="110.40" x2="476.8" y2="110.40" stroke="#4DBEEE" stroke-width="2"/>
<text x="479" y="117.10" class="lg">70℃</text>
<line x1="455.8" y1="125.30" x2="476.8" y2="125.30" stroke="#A2142F" stroke-width="2"/>
<text x="479" y="132.00" class="lg">75℃</text>
<!-- plot b -->
<g stroke="#000" stroke-width="2" fill="none">
<rect x="69.15" y="209.2" width="453.85" height="145.5"/>
<line x1="69.15" y1="354.70" x2="69.15" y2="349.20"/>
<line x1="69.15" y1="209.20" x2="69.15" y2="214.70"/>
<line x1="114.54" y1="354.70" x2="114.54" y2="349.20"/>
<line x1="114.54" y1="209.20" x2="114.54" y2="214.70"/>
<line x1="159.92" y1="354.70" x2="159.92" y2="349.20"/>
<line x1="159.92" y1="209.20" x2="159.92" y2="214.70"/>
<line x1="205.31" y1="354.70" x2="205.31" y2="349.20"/>
<line x1="205.31" y1="209.20" x2="205.31" y2="214.70"/>
<line x1="250.69" y1="354.70" x2="250.69" y2="349.20"/>
<line x1="250.69" y1="209.20" x2="250.69" y2="214.70"/>
<line x1="296.08" y1="354.70" x2="296.08" y2="349.20"/>
<line x1="296.08" y1="209.20" x2="296.08" y2="214.70"/>
<line x1="341.46" y1="354.70" x2="341.46" y2="349.20"/>
<line x1="341.46" y1="209.20" x2="341.46" y2="214.70"/>
<line x1="386.85" y1="354.70" x2="386.85" y2="349.20"/>
<line x1="386.85" y1="209.20" x2="386.85" y2="214.70"/>
<line x1="432.23" y1="354.70" x2="432.23" y2="349.20"/>
<line x1="432.23" y1="209.20" x2="432.23" y2="214.70"/>
<line x1="477.62" y1="354.70" x2="477.62" y2="349.20"/>
<line x1="477.62" y1="209.20" x2="477.62" y2="214.70"/>
<line x1="523.00" y1="354.70" x2="523.00" y2="349.20"/>
<line x1="523.00" y1="209.20" x2="523.00" y2="214.70"/>
<line x1="69.15" y1="238.30" x2="74.65" y2="238.30"/>
<line x1="523.00" y1="238.30" x2="517.50" y2="238.30"/>
<line x1="69.15" y1="267.40" x2="74.65" y2="267.40"/>
<line x1="523.00" y1="267.40" x2="517.50" y2="267.40"/>
<line x1="69.15" y1="296.50" x2="74.65" y2="296.50"/>
<line x1="523.00" y1="296.50" x2="517.50" y2="296.50"/>
<line x1="69.15" y1="325.60" x2="74.65" y2="325.60"/>
<line x1="523.00" y1="325.60" x2="517.50" y2="325.60"/>
</g>
<g fill="none" stroke-width="1.7" stroke-linejoin="round">
<path d="M69.2 231.0 69.8 231.1 70.4 231.1 71.1 231.2 71.7 231.3 72.4 231.4 73.0 231.6 73.7 231.8 74.3 232.0 75.0 232.2 75.6 232.5 76.3 232.8 76.9 233.1 77.6 233.5 78.2 233.9 78.9 234.3 79.5 234.7 80.2 235.2 80.8 235.7 81.5 236.2 82.1 236.7 82.8 237.3 83.4 237.9 84.1 238.6 84.7 239.3 85.4 240.0 86.0 240.8 86.7 241.5 87.3 242.4 88.0 243.2 88.6 244.2 89.3 245.1 89.9 246.1 90.6 247.1 91.2 248.2 91.9 249.3 92.5 250.5 93.2 251.7 93.8 253.0 94.5 254.4 95.1 255.8 95.8 257.2 96.4 258.7 97.1 260.3 97.7 262.0 98.4 263.7 99.0 265.5 99.7 267.4 100.3 269.4 101.0 271.4 101.6 273.6 102.3 275.9 102.9 278.2 103.6 280.7 104.2 283.2 104.9 285.9 105.5 288.7 106.2 291.6 106.8 294.6 107.5 297.7 108.1 300.8 108.8 303.9 109.4 307.0 110.1 309.9 110.7 312.5 111.4 314.8 112.0 316.5 112.7 317.5 113.3 317.7 114.0 317.2 114.6 315.9 115.2 313.9 115.9 311.5 116.5 308.7 117.2 305.8 117.8 302.7 118.5 299.5 119.1 296.4 119.8 293.4 120.4 290.4 121.1 287.6 121.7 284.9 122.4 282.2 123.0 279.7 123.7 277.3 124.3 275.0 125.0 272.8 125.6 270.7 126.3 268.6 126.9 266.7 127.6 264.9 128.2 263.1 128.9 261.4 129.5 259.8 130.2 258.2 130.8 256.8 131.5 255.3 132.1 254.0 132.8 252.7 133.4 251.4 134.1 250.2 134.7 249.1 135.4 248.0 136.0 246.9 136.7 245.9 137.3 245.0 138.0 244.1 138.6 243.2 139.3 242.3 139.9 241.5 140.6 240.8 141.2 240.0 141.9 239.4 142.5 238.7 143.2 238.1 143.8 237.5 144.5 236.9 145.1 236.4 145.8 235.9 146.4 235.4 147.1 235.0 147.7 234.6 148.4 234.2 149.0 233.8 149.7 233.5 150.3 233.2 151.0 233.0 151.6 232.7 152.3 232.5 152.9 232.3 153.6 232.2 154.2 232.0 154.9 231.9 155.5 231.8 156.2 231.8 156.8 231.7 157.5 231.7 158.1 231.7 158.8 231.7 159.4 231.8 160.0 231.9 160.7 232.0 161.3 232.1 162.0 232.2 162.6 232.4 163.3 232.6 163.9 232.9 164.6 233.1 165.2 233.4 165.9 233.7 166.5 234.1 167.2 234.4 167.8 234.8 168.5 235.3 169.1 235.7 169.8 236.2 170.4 236.7 171.1 237.3 171.7 237.9 172.4 238.5 173.0 239.1 173.7 239.8 174.3 240.6 175.0 241.3 175.6 242.1 176.3 243.0 176.9 243.8 177.6 244.7 178.2 245.7 178.9 246.7 179.5 247.8 180.2 248.9 180.8 250.0 181.5 251.2 182.1 252.5 182.8 253.8 183.4 255.1 184.1 256.6 184.7 258.1 185.4 259.6 186.0 261.3 186.7 263.0 187.3 264.7 188.0 266.6 188.6 268.6 189.3 270.6 189.9 272.7 190.6 275.0 191.2 277.3 191.9 279.7 192.5 282.3 193.2 285.0 193.8 287.8 194.5 290.6 195.1 293.6 195.8 296.7 196.4 299.9 197.1 303.0 197.7 306.1 198.4 309.2 199.0 311.9 199.7 314.4 200.3 316.3 201.0 317.5 201.6 318.0 202.3 317.7 202.9 316.6 203.6 314.8 204.2 312.4 204.9 309.7 205.5 306.7 206.1 303.5 206.8 300.3 207.4 297.1 208.1 294.0 208.7 291.0 209.4 288.0 210.0 285.2 210.7 282.4 211.3 279.8 212.0 277.3 212.6 274.9 213.3 272.6 213.9 270.4 214.6 268.4 215.2 266.3 215.9 264.4 216.5 262.6 217.2 260.8 217.8 259.2 218.5 257.5 219.1 256.0 219.8 254.5 220.4 253.1 221.1 251.8 221.7 250.5 222.4 249.2 223.0 248.1 223.7 246.9 224.3 245.9 225.0 244.8 225.6 243.9 226.3 243.0 226.9 242.1 227.6 241.3 228.2 240.5 228.9 239.7 229.5 239.0 230.2 238.3 230.8 237.7 231.5 237.0 232.1 236.4 232.8 235.8 233.4 235.2 234.1 234.7 234.7 234.1 235.4 233.6 236.0 233.1 236.7 232.6 237.3 232.2 238.0 231.7 238.6 231.3 239.3 230.9 239.9 230.6 240.6 230.2 241.2 229.9 241.9 229.6 242.5 229.3 243.2 229.1 243.8 228.8 244.5 228.6 245.1 228.4 245.8 228.3 246.4 228.1 247.1 228.1 247.7 228.0 248.4 228.0 249.0 228.1 249.7 228.2 250.3 228.4 250.9 228.7 251.6 228.9 252.2 229.3 252.9 229.7 253.5 230.1 254.2 230.5 254.8 231.0 255.5 231.5 256.1 232.0 256.8 232.6 257.4 233.1 258.1 233.7 258.7 234.3 259.4 234.9 260.0 235.6 260.7 236.2 261.3 236.9 262.0 237.6 262.6 238.4 263.3 239.1 263.9 240.0 264.6 240.8 265.2 241.7 265.9 242.6 266.5 243.6 267.2 244.6 267.8 245.7 268.5 246.8 269.1 248.0 269.8 249.2 270.4 250.4 271.1 251.8 271.7 253.1 272.4 254.6 273.0 256.1 273.7 257.6 274.3 259.3 275.0 261.0 275.6 262.8 276.3 264.6 276.9 266.6 277.6 268.6 278.2 270.8 278.9 273.0 279.5 275.3 280.2 277.8 280.8 280.3 281.5 283.0 282.1 285.8 282.8 288.6 283.4 291.6 284.1 294.7 284.7 297.8 285.4 301.0 286.0 304.1 286.7 307.1 287.3 309.8 288.0 312.2 288.6 314.1 289.3 315.3 289.9 315.7 290.6 315.4 291.2 314.2 291.9 312.5 292.5 310.1 293.2 307.4 293.8 304.5 294.5 301.4 295.1 298.3 295.8 295.2 296.4 292.1 297.0 289.1 297.7 286.2 298.3 283.4 299.0 280.7 299.6 278.1 300.3 275.7 300.9 273.3 301.6 271.0 302.2 268.9 302.9 266.8 303.5 264.8 304.2 262.9 304.8 261.1 305.5 259.4 306.1 257.7 306.8 256.1 307.4 254.6 308.1 253.2 308.7 251.8 309.4 250.4 310.0 249.1 310.7 247.9 311.3 246.7 312.0 245.6 312.6 244.5 313.3 243.4 313.9 242.4 314.6 241.5 315.2 240.6 315.9 239.7 316.5 238.9 317.2 238.1 317.8 237.3 318.5 236.6 319.1 235.9 319.8 235.2 320.4 234.6 321.1 234.0 321.7 233.4 322.4 232.9 323.0 232.4 323.7 231.9 324.3 231.5 325.0 231.1 325.6 230.7 326.3 230.3 326.9 230.0 327.6 229.7 328.2 229.4 328.9 229.2 329.5 229.0 330.2 228.8 330.8 228.6 331.5 228.4 332.1 228.3 332.8 228.2 333.4 228.1 334.1 228.0 334.7 227.9 335.4 227.9 336.0 227.8 336.7 227.8 337.3 227.8 338.0 227.7 338.6 227.7 339.3 227.7 339.9 227.7 340.6 227.8 341.2 227.8 341.8 227.9 342.5 228.0 343.1 228.2 343.8 228.5 344.4 228.8 345.1 229.2 345.7 229.6 346.4 230.1 347.0 230.7 347.7 231.4 348.3 232.1 349.0 232.9 349.6 233.8 350.3 234.7 350.9 235.6 351.6 236.5 352.2 237.5 352.9 238.5 353.5 239.6 354.2 240.6 354.8 241.7 355.5 242.8 356.1 243.9 356.8 245.0 357.4 246.2 358.1 247.4 358.7 248.7 359.4 250.0 360.0 251.3 360.7 252.8 361.3 254.2 362.0 255.7 362.6 257.3 363.3 259.0 363.9 260.7 364.6 262.5 365.2 264.4 365.9 266.4 366.5 268.4 367.2 270.6 367.8 272.8 368.5 275.2 369.1 277.7 369.8 280.2 370.4 282.9 371.1 285.7 371.7 288.6 372.4 291.6 373.0 294.7 373.7 297.8 374.3 300.9 375.0 304.0 375.6 307.0 376.3 309.8 376.9 312.2 377.6 314.0 378.2 315.2 378.9 315.7 379.5 315.4 380.2 314.4 380.8 312.7 381.5 310.5 382.1 308.0 382.8 305.1 383.4 302.2 384.1 299.2 384.7 296.1 385.4 293.1 386.0 290.2 386.7 287.4 387.3 284.6 387.9 282.0 388.6 279.5 389.2 277.0 389.9 274.7 390.5 272.4 391.2 270.3 391.8 268.2 392.5 266.3 393.1 264.4 393.8 262.6 394.4 260.8 395.1 259.2 395.7 257.5 396.4 256.0 397.0 254.5 397.7 253.1 398.3 251.7 399.0 250.4 399.6 249.1 400.3 247.9 400.9 246.7 401.6 245.5 402.2 244.3 402.9 243.2 403.5 242.1 404.2 241.1 404.8 240.0 405.5 239.0 406.1 238.0 406.8 237.1 407.4 236.1 408.1 235.2 408.7 234.4 409.4 233.6 410.0 232.8 410.7 232.1 411.3 231.4 412.0 230.8 412.6 230.3 413.3 229.8 413.9 229.4 414.6 229.1 415.2 228.8 415.9 228.5 416.5 228.4 417.2 228.2 417.8 228.1 418.5 228.0 419.1 228.0 419.8 227.9 420.4 227.9 421.1 227.9 421.7 227.9 422.4 228.0 423.0 228.0 423.7 228.0 424.3 228.1 425.0 228.1 425.6 228.2 426.3 228.3 426.9 228.4 427.6 228.5 428.2 228.6 428.9 228.7 429.5 228.9 430.2 229.1 430.8 229.3 431.5 229.5 432.1 229.8 432.7 230.0 433.4 230.3 434.0 230.7 434.7 231.0 435.3 231.4 436.0 231.8 436.6 232.2 437.3 232.7 437.9 233.2 438.6 233.7 439.2 234.3 439.9 234.8 440.5 235.4 441.2 236.1 441.8 236.7 442.5 237.4 443.1 238.2 443.8 239.0 444.4 239.8 445.1 240.6 445.7 241.5 446.4 242.4 447.0 243.4 447.7 244.4 448.3 245.4 449.0 246.5 449.6 247.6 450.3 248.8 450.9 250.0 451.6 251.3 452.2 252.7 452.9 254.1 453.5 255.5 454.2 257.0 454.8 258.6 455.5 260.3 456.1 262.0 456.8 263.8 457.4 265.6 458.1 267.6 458.7 269.6 459.4 271.8 460.0 274.0 460.7 276.3 461.3 278.7 462.0 281.2 462.6 283.9 463.3 286.6 463.9 289.4 464.6 292.3 465.2 295.3 465.9 298.4 466.5 301.4 467.2 304.5 467.8 307.4 468.5 310.1 469.1 312.4 469.8 314.3 470.4 315.6 471.1 316.2 471.7 316.1 472.4 314.9 473.0 313.0 473.7 310.4 474.3 307.4 475.0 304.0 475.6 300.6 476.3 297.1 476.9 293.7 477.6 290.3 478.2 287.1 478.8 283.9 479.5 281.0 480.1 278.1 480.8 275.4 481.4 272.8 482.1 270.3 482.7 268.0 483.4 265.7 484.0 263.6 484.7 261.5 485.3 259.6 486.0 257.7 486.6 256.0 487.3 254.3 487.9 252.7 488.6 251.1 489.2 249.7 489.9 248.3 490.5 246.9 491.2 245.7 491.8 244.5 492.5 243.3 493.1 242.2 493.8 241.1 494.4 240.1 495.1 239.2 495.7 238.3 496.4 237.4 497.0 236.6 497.7 235.8 498.3 235.0 499.0 234.3 499.6 233.7 500.3 233.1 500.9 232.5 501.6 231.9 502.2 231.4 502.9 231.0 503.5 230.5 504.2 230.1 504.8 229.7 505.5 229.4 506.1 229.1 506.8 228.8 507.4 228.6 508.1 228.4 508.7 228.2 509.4 228.1 510.0 228.0 510.7 227.9 511.3 227.8 512.0 227.8 512.6 227.8 513.3 227.9 513.9 228.0 514.6 228.1 515.2 228.2 515.9 228.4 516.5 228.6 517.2 228.9 517.8 229.1 518.5 229.4 519.1 229.8 519.8 230.2 520.4 230.6 521.1 231.0 521.7 231.5 522.4 232.0 523.0 232.6" stroke="#0072BD"/>
<path d="M69.2 231.0 69.8 231.0 70.4 231.1 71.1 231.1 71.7 231.2 72.4 231.3 73.0 231.4 73.7 231.6 74.3 231.7 75.0 231.9 75.6 232.2 76.3 232.4 76.9 232.7 77.6 233.0 78.2 233.4 78.9 233.7 79.5 234.1 80.2 234.6 80.8 235.0 81.5 235.5 82.1 236.0 82.8 236.6 83.4 237.2 84.1 237.8 84.7 238.4 85.4 239.1 86.0 239.8 86.7 240.5 87.3 241.3 88.0 242.1 88.6 243.0 89.3 243.9 89.9 244.8 90.6 245.8 91.2 246.8 91.9 247.9 92.5 249.0 93.2 250.2 93.8 251.4 94.5 252.7 95.1 254.0 95.8 255.4 96.4 256.8 97.1 258.3 97.7 259.9 98.4 261.5 99.0 263.2 99.7 265.0 100.3 266.9 101.0 268.8 101.6 270.8 102.3 273.0 102.9 275.2 103.6 277.5 104.2 280.0 104.9 282.5 105.5 285.2 106.2 287.9 106.8 290.8 107.5 293.8 108.1 296.8 108.8 299.9 109.4 303.0 110.1 306.1 110.7 309.1 111.4 311.8 112.0 314.2 112.7 316.1 113.3 317.3 114.0 317.7 114.6 317.4 115.2 316.3 115.9 314.5 116.5 312.2 117.2 309.5 117.8 306.6 118.5 303.5 119.1 300.4 119.8 297.3 120.4 294.2 121.1 291.3 121.7 288.4 122.4 285.6 123.0 282.9 123.7 280.4 124.3 278.0 125.0 275.6 125.6 273.4 126.3 271.2 126.9 269.2 127.6 267.2 128.2 265.4 128.9 263.6 129.5 261.9 130.2 260.2 130.8 258.7 131.5 257.2 132.1 255.7 132.8 254.4 133.4 253.0 134.1 251.8 134.7 250.6 135.4 249.4 136.0 248.3 136.7 247.2 137.3 246.2 138.0 245.2 138.6 244.3 139.3 243.4 139.9 242.6 140.6 241.8 141.2 241.0 141.9 240.2 142.5 239.5 143.2 238.9 143.8 238.2 144.5 237.6 145.1 237.1 145.8 236.5 146.4 236.0 147.1 235.6 147.7 235.1 148.4 234.7 149.0 234.3 149.7 233.9 150.3 233.6 151.0 233.3 151.6 233.0 152.3 232.8 152.9 232.6 153.6 232.4 154.2 232.2 154.9 232.1 155.5 231.9 156.2 231.8 156.8 231.8 157.5 231.7 158.1 231.7 158.8 231.7 159.4 231.7 160.0 231.8 160.7 231.8 161.3 231.9 162.0 232.0 162.6 232.2 163.3 232.4 163.9 232.6 164.6 232.8 165.2 233.0 165.9 233.3 166.5 233.6 167.2 234.0 167.8 234.3 168.5 234.7 169.1 235.1 169.8 235.6 170.4 236.1 171.1 236.6 171.7 237.1 172.4 237.7 173.0 238.3 173.7 239.0 174.3 239.6 175.0 240.3 175.6 241.1 176.3 241.9 176.9 242.7 177.6 243.6 178.2 244.5 178.9 245.4 179.5 246.4 180.2 247.5 180.8 248.6 181.5 249.7 182.1 250.9 182.8 252.1 183.4 253.4 184.1 254.8 184.7 256.2 185.4 257.6 186.0 259.2 186.7 260.8 187.3 262.5 188.0 264.2 188.6 266.1 189.3 268.0 189.9 270.0 190.6 272.1 191.2 274.3 191.9 276.6 192.5 279.0 193.2 281.6 193.8 284.2 194.5 287.0 195.1 289.8 195.8 292.8 196.4 295.8 197.1 299.0 197.7 302.1 198.4 305.3 199.0 308.3 199.7 311.2 200.3 313.7 201.0 315.8 201.6 317.3 202.3 318.0 202.9 317.9 203.6 317.0 204.2 315.3 204.9 313.1 205.5 310.5 206.1 307.5 206.8 304.4 207.4 301.2 208.1 298.0 208.7 294.9 209.4 291.8 210.0 288.8 210.7 286.0 211.3 283.2 212.0 280.6 212.6 278.0 213.3 275.6 213.9 273.3 214.6 271.1 215.2 268.9 215.9 266.9 216.5 265.0 217.2 263.1 217.8 261.3 218.5 259.6 219.1 258.0 219.8 256.4 220.4 254.9 221.1 253.5 221.7 252.1 222.4 250.8 223.0 249.6 223.7 248.4 224.3 247.2 225.0 246.2 225.6 245.1 226.3 244.1 226.9 243.2 227.6 242.3 228.2 241.5 228.9 240.7 229.5 239.9 230.2 239.2 230.8 238.5 231.5 237.9 232.1 237.2 232.8 236.6 233.4 236.0 234.1 235.4 234.7 234.8 235.4 234.3 236.0 233.8 236.7 233.2 237.3 232.8 238.0 232.3 238.6 231.8 239.3 231.4 239.9 231.0 240.6 230.7 241.2 230.3 241.9 230.0 242.5 229.7 243.2 229.4 243.8 229.1 244.5 228.9 245.1 228.7 245.8 228.5 246.4 228.3 247.1 228.2 247.7 228.1 248.4 228.0 249.0 228.0 249.7 228.1 250.3 228.2 250.9 228.4 251.6 228.6 252.2 228.9 252.9 229.2 253.5 229.5 254.2 230.0 254.8 230.4 255.5 230.9 256.1 231.4 256.8 231.9 257.4 232.4 258.1 233.0 258.7 233.5 259.4 234.1 260.0 234.7 260.7 235.4 261.3 236.0 262.0 236.7 262.6 237.4 263.3 238.2 263.9 238.9 264.6 239.7 265.2 240.6 265.9 241.5 266.5 242.4 267.2 243.3 267.8 244.3 268.5 245.4 269.1 246.5 269.8 247.6 270.4 248.8 271.1 250.1 271.7 251.4 272.4 252.7 273.0 254.2 273.7 255.6 274.3 257.2 275.0 258.8 275.6 260.5 276.3 262.3 276.9 264.1 277.6 266.0 278.2 268.0 278.9 270.1 279.5 272.4 280.2 274.7 280.8 277.1 281.5 279.6 282.1 282.2 282.8 285.0 283.4 287.8 284.1 290.8 284.7 293.8 285.4 296.9 286.0 300.1 286.7 303.2 287.3 306.2 288.0 309.1 288.6 311.6 289.3 313.6 289.9 315.0 290.6 315.7 291.2 315.5 291.9 314.6 292.5 313.0 293.2 310.8 293.8 308.2 294.5 305.3 295.1 302.3 295.8 299.2 296.4 296.0 297.0 292.9 297.7 289.9 298.3 287.0 299.0 284.2 299.6 281.4 300.3 278.8 300.9 276.3 301.6 274.0 302.2 271.7 302.9 269.5 303.5 267.4 304.2 265.4 304.8 263.5 305.5 261.6 306.1 259.9 306.8 258.2 307.4 256.6 308.1 255.0 308.7 253.6 309.4 252.1 310.0 250.8 310.7 249.5 311.3 248.2 312.0 247.0 312.6 245.9 313.3 244.8 313.9 243.7 314.6 242.7 315.2 241.7 315.9 240.8 316.5 239.9 317.2 239.1 317.8 238.3 318.5 237.5 319.1 236.8 319.8 236.1 320.4 235.4 321.1 234.8 321.7 234.2 322.4 233.6 323.0 233.0 323.7 232.5 324.3 232.1 325.0 231.6 325.6 231.2 326.3 230.8 326.9 230.4 327.6 230.1 328.2 229.8 328.9 229.5 329.5 229.3 330.2 229.0 330.8 228.8 331.5 228.6 332.1 228.5 332.8 228.3 333.4 228.2 334.1 228.1 334.7 228.0 335.4 227.9 336.0 227.9 336.7 227.8 337.3 227.8 338.0 227.8 338.6 227.7 339.3 227.7 339.9 227.7 340.6 227.7 341.2 227.7 341.8 227.8 342.5 227.9 343.1 228.0 343.8 228.2 344.4 228.4 345.1 228.7 345.7 229.0 346.4 229.5 347.0 230.0 347.7 230.6 348.3 231.2 349.0 231.9 349.6 232.7 350.3 233.5 350.9 234.4 351.6 235.3 352.2 236.3 352.9 237.2 353.5 238.2 354.2 239.3 354.8 240.3 355.5 241.4 356.1 242.5 356.8 243.6 357.4 244.7 358.1 245.9 358.7 247.1 359.4 248.3 360.0 249.6 360.7 251.0 361.3 252.4 362.0 253.8 362.6 255.3 363.3 256.9 363.9 258.5 364.6 260.2 365.2 262.0 365.9 263.9 366.5 265.8 367.2 267.8 367.8 270.0 368.5 272.2 369.1 274.5 369.8 276.9 370.4 279.5 371.1 282.1 371.7 284.9 372.4 287.8 373.0 290.7 373.7 293.8 374.3 296.9 375.0 300.1 375.6 303.2 376.3 306.2 376.9 309.0 377.6 311.5 378.2 313.6 378.9 315.0 379.5 315.7 380.2 315.6 380.8 314.7 381.5 313.2 382.1 311.2 382.8 308.7 383.4 306.0 384.1 303.0 384.7 300.0 385.4 297.0 386.0 294.0 386.7 291.0 387.3 288.2 387.9 285.4 388.6 282.7 389.2 280.2 389.9 277.7 390.5 275.3 391.2 273.1 391.8 270.9 392.5 268.8 393.1 266.8 393.8 264.9 394.4 263.1 395.1 261.3 395.7 259.6 396.4 258.0 397.0 256.4 397.7 254.9 398.3 253.5 399.0 252.1 399.6 250.8 400.3 249.5 400.9 248.2 401.6 247.0 402.2 245.8 402.9 244.7 403.5 243.5 404.2 242.4 404.8 241.4 405.5 240.3 406.1 239.3 406.8 238.3 407.4 237.3 408.1 236.4 408.7 235.5 409.4 234.6 410.0 233.8 410.7 233.0 411.3 232.3 412.0 231.6 412.6 231.0 413.3 230.4 413.9 230.0 414.6 229.5 415.2 229.2 415.9 228.9 416.5 228.6 417.2 228.4 417.8 228.2 418.5 228.1 419.1 228.0 419.8 228.0 420.4 227.9 421.1 227.9 421.7 227.9 422.4 227.9 423.0 227.9 423.7 228.0 424.3 228.0 425.0 228.1 425.6 228.1 426.3 228.2 426.9 228.2 427.6 228.3 428.2 228.4 428.9 228.6 429.5 228.7 430.2 228.9 430.8 229.0 431.5 229.2 432.1 229.5 432.7 229.7 433.4 230.0 434.0 230.3 434.7 230.6 435.3 230.9 436.0 231.3 436.6 231.7 437.3 232.1 437.9 232.6 438.6 233.0 439.2 233.6 439.9 234.1 440.5 234.7 441.2 235.3 441.8 235.9 442.5 236.6 443.1 237.2 443.8 238.0 444.4 238.7 445.1 239.5 445.7 240.4 446.4 241.2 447.0 242.1 447.7 243.1 448.3 244.1 449.0 245.1 449.6 246.2 450.3 247.3 450.9 248.5 451.6 249.7 452.2 251.0 452.9 252.3 453.5 253.7 454.2 255.1 454.8 256.6 455.5 258.2 456.1 259.8 456.8 261.5 457.4 263.3 458.1 265.1 458.7 267.0 459.4 269.0 460.0 271.1 460.7 273.3 461.3 275.6 462.0 278.0 462.6 280.5 463.3 283.1 463.9 285.8 464.6 288.6 465.2 291.5 465.9 294.5 466.5 297.5 467.2 300.6 467.8 303.6 468.5 306.6 469.1 309.3 469.8 311.8 470.4 313.9 471.1 315.3 471.7 316.2 472.4 316.2 473.0 315.3 473.7 313.6 474.3 311.2 475.0 308.2 475.6 305.0 476.3 301.6 476.9 298.1 477.6 294.6 478.2 291.2 478.8 288.0 479.5 284.8 480.1 281.8 480.8 278.9 481.4 276.1 482.1 273.5 482.7 271.0 483.4 268.6 484.0 266.3 484.7 264.2 485.3 262.1 486.0 260.1 486.6 258.3 487.3 256.5 487.9 254.8 488.6 253.1 489.2 251.6 489.9 250.1 490.5 248.7 491.2 247.3 491.8 246.0 492.5 244.8 493.1 243.6 493.8 242.5 494.4 241.4 495.1 240.4 495.7 239.4 496.4 238.5 497.0 237.6 497.7 236.8 498.3 236.0 499.0 235.2 499.6 234.5 500.3 233.9 500.9 233.2 501.6 232.6 502.2 232.1 502.9 231.6 503.5 231.1 504.2 230.6 504.8 230.2 505.5 229.8 506.1 229.5 506.8 229.2 507.4 228.9 508.1 228.7 508.7 228.4 509.4 228.3 510.0 228.1 510.7 228.0 511.3 227.9 512.0 227.9 512.6 227.8 513.3 227.8 513.9 227.9 514.6 228.0 515.2 228.1 515.9 228.2 516.5 228.4 517.2 228.6 517.8 228.8 518.5 229.1 519.1 229.4 519.8 229.7 520.4 230.1 521.1 230.5 521.7 230.9 522.4 231.4 523.0 231.9" stroke="#D95319"/>
<path d="M69.2 231.1 69.8 231.0 70.4 231.0 71.1 231.0 71.7 231.1 72.4 231.2 73.0 231.2 73.7 231.4 74.3 231.5 75.0 231.7 75.6 231.9 76.3 232.1 76.9 232.4 77.6 232.6 78.2 232.9 78.9 233.3 79.5 233.6 80.2 234.0 80.8 234.5 81.5 234.9 82.1 235.4 82.8 235.9 83.4 236.4 84.1 237.0 84.7 237.6 85.4 238.2 86.0 238.9 86.7 239.6 87.3 240.3 88.0 241.1 88.6 241.9 89.3 242.8 89.9 243.6 90.6 244.6 91.2 245.5 91.9 246.5 92.5 247.6 93.2 248.7 93.8 249.8 94.5 251.0 95.1 252.3 95.8 253.6 96.4 255.0 97.1 256.4 97.7 257.9 98.4 259.4 99.0 261.0 99.7 262.7 100.3 264.5 101.0 266.3 101.6 268.3 102.3 270.3 102.9 272.4 103.6 274.6 104.2 276.9 104.9 279.3 105.5 281.8 106.2 284.4 106.8 287.1 107.5 290.0 108.1 292.9 108.8 295.9 109.4 299.0 110.1 302.1 110.7 305.3 111.4 308.3 112.0 311.1 112.7 313.6 113.3 315.6 114.0 317.0 114.6 317.7 115.2 317.6 115.9 316.7 116.5 315.1 117.2 312.9 117.8 310.3 118.5 307.5 119.1 304.4 119.8 301.3 120.4 298.2 121.1 295.1 121.7 292.1 122.4 289.2 123.0 286.4 123.7 283.7 124.3 281.1 125.0 278.6 125.6 276.3 126.3 274.0 126.9 271.8 127.6 269.8 128.2 267.8 128.9 265.9 129.5 264.1 130.2 262.4 130.8 260.7 131.5 259.1 132.1 257.6 132.8 256.1 133.4 254.7 134.1 253.4 134.7 252.1 135.4 250.9 136.0 249.7 136.7 248.6 137.3 247.5 138.0 246.5 138.6 245.5 139.3 244.6 139.9 243.7 140.6 242.8 141.2 242.0 141.9 241.2 142.5 240.5 143.2 239.7 143.8 239.1 144.5 238.4 145.1 237.8 145.8 237.2 146.4 236.7 147.1 236.2 147.7 235.7 148.4 235.2 149.0 234.8 149.7 234.4 150.3 234.0 151.0 233.7 151.6 233.4 152.3 233.1 152.9 232.8 153.6 232.6 154.2 232.4 154.9 232.2 155.5 232.1 156.2 232.0 156.8 231.9 157.5 231.8 158.1 231.7 158.8 231.7 159.4 231.7 160.0 231.7 160.7 231.8 161.3 231.8 162.0 231.9 162.6 232.0 163.3 232.2 163.9 232.3 164.6 232.5 165.2 232.7 165.9 233.0 166.5 233.2 167.2 233.5 167.8 233.9 168.5 234.2 169.1 234.6 169.8 235.0 170.4 235.5 171.1 235.9 171.7 236.4 172.4 237.0 173.0 237.5 173.7 238.1 174.3 238.8 175.0 239.4 175.6 240.1 176.3 240.9 176.9 241.7 177.6 242.5 178.2 243.3 178.9 244.2 179.5 245.2 180.2 246.1 180.8 247.2 181.5 248.2 182.1 249.4 182.8 250.5 183.4 251.8 184.1 253.0 184.7 254.4 185.4 255.8 186.0 257.2 186.7 258.7 187.3 260.3 188.0 262.0 188.6 263.7 189.3 265.5 189.9 267.4 190.6 269.4 191.2 271.5 191.9 273.7 192.5 276.0 193.2 278.4 193.8 280.8 194.5 283.5 195.1 286.2 195.8 289.0 196.4 291.9 197.1 295.0 197.7 298.1 198.4 301.2 199.0 304.4 199.7 307.5 200.3 310.4 201.0 313.1 201.6 315.3 202.3 316.9 202.9 317.8 203.6 318.0 204.2 317.3 204.9 315.9 205.5 313.8 206.1 311.2 206.8 308.4 207.4 305.3 208.1 302.1 208.7 298.9 209.4 295.8 210.0 292.7 210.7 289.7 211.3 286.8 212.0 284.0 212.6 281.3 213.3 278.7 213.9 276.3 214.6 273.9 215.2 271.7 215.9 269.5 216.5 267.5 217.2 265.5 217.8 263.6 218.5 261.8 219.1 260.1 219.8 258.4 220.4 256.9 221.1 255.3 221.7 253.9 222.4 252.5 223.0 251.2 223.7 249.9 224.3 248.7 225.0 247.6 225.6 246.5 226.3 245.4 226.9 244.4 227.6 243.5 228.2 242.6 228.9 241.7 229.5 240.9 230.2 240.1 230.8 239.4 231.5 238.7 232.1 238.0 232.8 237.4 233.4 236.8 234.1 236.2 234.7 235.6 235.4 235.0 236.0 234.4 236.7 233.9 237.3 233.4 238.0 232.9 238.6 232.4 239.3 232.0 239.9 231.5 240.6 231.1 241.2 230.8 241.9 230.4 242.5 230.1 243.2 229.8 243.8 229.5 244.5 229.2 245.1 229.0 245.8 228.7 246.4 228.5 247.1 228.4 247.7 228.2 248.4 228.1 249.0 228.0 249.7 228.0 250.3 228.1 250.9 228.2 251.6 228.3 252.2 228.5 252.9 228.8 253.5 229.1 254.2 229.4 254.8 229.8 255.5 230.3 256.1 230.7 256.8 231.2 257.4 231.7 258.1 232.3 258.7 232.8 259.4 233.4 260.0 234.0 260.7 234.6 261.3 235.2 262.0 235.8 262.6 236.5 263.3 237.2 263.9 237.9 264.6 238.7 265.2 239.5 265.9 240.3 266.5 241.2 267.2 242.1 267.8 243.1 268.5 244.1 269.1 245.1 269.8 246.2 270.4 247.3 271.1 248.5 271.7 249.7 272.4 251.0 273.0 252.3 273.7 253.7 274.3 255.2 275.0 256.7 275.6 258.3 276.3 260.0 276.9 261.7 277.6 263.6 278.2 265.5 278.9 267.5 279.5 269.5 280.2 271.7 280.8 274.0 281.5 276.4 282.1 278.9 282.8 281.5 283.4 284.2 284.1 287.0 284.7 289.9 285.4 293.0 286.0 296.1 286.7 299.2 287.3 302.3 288.0 305.4 288.6 308.3 289.3 310.9 289.9 313.1 290.6 314.7 291.2 315.6 291.9 315.6 292.5 315.0 293.2 313.5 293.8 311.5 294.5 309.0 295.1 306.2 295.8 303.2 296.4 300.0 297.0 296.9 297.7 293.8 298.3 290.8 299.0 287.8 299.6 284.9 300.3 282.2 300.9 279.6 301.6 277.0 302.2 274.6 302.9 272.3 303.5 270.1 304.2 268.0 304.8 265.9 305.5 264.0 306.1 262.1 306.8 260.4 307.4 258.7 308.1 257.0 308.7 255.5 309.4 254.0 310.0 252.5 310.7 251.2 311.3 249.8 312.0 248.6 312.6 247.4 313.3 246.2 313.9 245.1 314.6 244.0 315.2 243.0 315.9 242.0 316.5 241.1 317.2 240.2 317.8 239.3 318.5 238.5 319.1 237.7 319.8 237.0 320.4 236.3 321.1 235.6 321.7 234.9 322.4 234.3 323.0 233.7 323.7 233.2 324.3 232.7 325.0 232.2 325.6 231.7 326.3 231.3 326.9 230.9 327.6 230.5 328.2 230.2 328.9 229.9 329.5 229.6 330.2 229.3 330.8 229.1 331.5 228.9 332.1 228.7 332.8 228.5 333.4 228.4 334.1 228.2 334.7 228.1 335.4 228.0 336.0 228.0 336.7 227.9 337.3 227.9 338.0 227.8 338.6 227.8 339.3 227.8 339.9 227.7 340.6 227.7 341.2 227.7 341.8 227.7 342.5 227.8 343.1 227.9 343.8 228.0 344.4 228.1 345.1 228.3 345.7 228.6 346.4 228.9 347.0 229.4 347.7 229.8 348.3 230.4 349.0 231.0 349.6 231.7 350.3 232.5 350.9 233.3 351.6 234.2 352.2 235.1 352.9 236.0 353.5 237.0 354.2 238.0 354.8 239.0 355.5 240.0 356.1 241.1 356.8 242.1 357.4 243.3 358.1 244.4 358.7 245.5 359.4 246.7 360.0 248.0 360.7 249.3 361.3 250.6 362.0 252.0 362.6 253.4 363.3 254.9 363.9 256.4 364.6 258.0 365.2 259.7 365.9 261.5 366.5 263.3 367.2 265.3 367.8 267.3 368.5 269.4 369.1 271.6 369.8 273.9 370.4 276.3 371.1 278.8 371.7 281.4 372.4 284.1 373.0 286.9 373.7 289.9 374.3 292.9 375.0 296.0 375.6 299.2 376.3 302.3 376.9 305.4 377.6 308.3 378.2 310.9 378.9 313.1 379.5 314.7 380.2 315.5 380.8 315.7 381.5 315.0 382.1 313.7 382.8 311.8 383.4 309.4 384.1 306.8 384.7 303.9 385.4 300.9 386.0 297.8 386.7 294.8 387.3 291.9 387.9 289.0 388.6 286.2 389.2 283.5 389.9 280.9 390.5 278.4 391.2 276.0 391.8 273.7 392.5 271.5 393.1 269.4 393.8 267.4 394.4 265.4 395.1 263.6 395.7 261.8 396.4 260.1 397.0 258.4 397.7 256.9 398.3 255.4 399.0 253.9 399.6 252.5 400.3 251.1 400.9 249.8 401.6 248.6 402.2 247.3 402.9 246.1 403.5 245.0 404.2 243.8 404.8 242.7 405.5 241.7 406.1 240.6 406.8 239.6 407.4 238.6 408.1 237.6 408.7 236.6 409.4 235.7 410.0 234.9 410.7 234.0 411.3 233.2 412.0 232.5 412.6 231.8 413.3 231.2 413.9 230.6 414.6 230.1 415.2 229.6 415.9 229.3 416.5 228.9 417.2 228.7 417.8 228.5 418.5 228.3 419.1 228.2 419.8 228.1 420.4 228.0 421.1 227.9 421.7 227.9 422.4 227.9 423.0 227.9 423.7 227.9 424.3 228.0 425.0 228.0 425.6 228.0 426.3 228.1 426.9 228.2 427.6 228.2 428.2 228.3 428.9 228.4 429.5 228.5 430.2 228.7 430.8 228.8 431.5 229.0 432.1 229.2 432.7 229.4 433.4 229.6 434.0 229.9 434.7 230.2 435.3 230.5 436.0 230.8 436.6 231.2 437.3 231.6 437.9 232.0 438.6 232.4 439.2 232.9 439.9 233.4 440.5 233.9 441.2 234.5 441.8 235.1 442.5 235.7 443.1 236.4 443.8 237.0 444.4 237.8 445.1 238.5 445.7 239.3 446.4 240.1 447.0 241.0 447.7 241.9 448.3 242.8 449.0 243.8 449.6 244.8 450.3 245.9 450.9 247.0 451.6 248.1 452.2 249.3 452.9 250.6 453.5 251.9 454.2 253.3 454.8 254.7 455.5 256.2 456.1 257.7 456.8 259.3 457.4 261.0 458.1 262.7 458.7 264.6 459.4 266.5 460.0 268.5 460.7 270.5 461.3 272.7 462.0 275.0 462.6 277.3 463.3 279.8 463.9 282.4 464.6 285.0 465.2 287.8 465.9 290.7 466.5 293.6 467.2 296.7 467.8 299.7 468.5 302.8 469.1 305.8 469.8 308.6 470.4 311.1 471.1 313.3 471.7 315.0 472.4 316.0 473.0 316.3 473.7 315.7 474.3 314.2 475.0 311.9 475.6 309.1 476.3 305.9 476.9 302.5 477.6 299.1 478.2 295.6 478.8 292.2 479.5 288.9 480.1 285.7 480.8 282.6 481.4 279.7 482.1 276.9 482.7 274.2 483.4 271.7 484.0 269.3 484.7 267.0 485.3 264.8 486.0 262.7 486.6 260.7 487.3 258.8 487.9 257.0 488.6 255.2 489.2 253.6 489.9 252.0 490.5 250.5 491.2 249.1 491.8 247.7 492.5 246.4 493.1 245.1 493.8 243.9 494.4 242.8 495.1 241.7 495.7 240.7 496.4 239.7 497.0 238.8 497.7 237.9 498.3 237.0 499.0 236.2 499.6 235.5 500.3 234.7 500.9 234.1 501.6 233.4 502.2 232.8 502.9 232.2 503.5 231.7 504.2 231.2 504.8 230.8 505.5 230.3 506.1 230.0 506.8 229.6 507.4 229.3 508.1 229.0 508.7 228.7 509.4 228.5 510.0 228.3 510.7 228.2 511.3 228.0 512.0 227.9 512.6 227.9 513.3 227.8 513.9 227.8 514.6 227.9 515.2 227.9 515.9 228.0 516.5 228.2 517.2 228.3 517.8 228.5 518.5 228.7 519.1 229.0 519.8 229.3 520.4 229.6 521.1 229.9 521.7 230.3 522.4 230.8 523.0 231.2" stroke="#EDB120"/>
<path d="M69.2 231.2 69.8 231.1 70.4 231.0 71.1 231.0 71.7 231.0 72.4 231.1 73.0 231.1 73.7 231.2 74.3 231.3 75.0 231.5 75.6 231.6 76.3 231.8 76.9 232.0 77.6 232.3 78.2 232.6 78.9 232.9 79.5 233.2 80.2 233.5 80.8 233.9 81.5 234.3 82.1 234.8 82.8 235.2 83.4 235.7 84.1 236.3 84.7 236.8 85.4 237.4 86.0 238.0 86.7 238.7 87.3 239.4 88.0 240.1 88.6 240.9 89.3 241.7 89.9 242.5 90.6 243.4 91.2 244.3 91.9 245.3 92.5 246.3 93.2 247.3 93.8 248.4 94.5 249.5 95.1 250.7 95.8 251.9 96.4 253.2 97.1 254.6 97.7 256.0 98.4 257.4 99.0 259.0 99.7 260.6 100.3 262.2 101.0 264.0 101.6 265.8 102.3 267.7 102.9 269.7 103.6 271.8 104.2 273.9 104.9 276.2 105.5 278.6 106.2 281.1 106.8 283.7 107.5 286.4 108.1 289.2 108.8 292.1 109.4 295.1 110.1 298.2 110.7 301.3 111.4 304.4 112.0 307.4 112.7 310.3 113.3 312.9 114.0 315.1 114.6 316.7 115.2 317.6 115.9 317.7 116.5 317.0 117.2 315.6 117.8 313.6 118.5 311.1 119.1 308.3 119.8 305.3 120.4 302.2 121.1 299.0 121.7 296.0 122.4 292.9 123.0 290.0 123.7 287.2 124.3 284.4 125.0 281.8 125.6 279.3 126.3 276.9 126.9 274.6 127.6 272.4 128.2 270.3 128.9 268.3 129.5 266.4 130.2 264.6 130.8 262.8 131.5 261.2 132.1 259.5 132.8 258.0 133.4 256.5 134.1 255.1 134.7 253.8 135.4 252.5 136.0 251.2 136.7 250.1 137.3 248.9 138.0 247.8 138.6 246.8 139.3 245.8 139.9 244.8 140.6 243.9 141.2 243.0 141.9 242.2 142.5 241.4 143.2 240.7 143.8 239.9 144.5 239.3 145.1 238.6 145.8 238.0 146.4 237.4 147.1 236.8 147.7 236.3 148.4 235.8 149.0 235.4 149.7 234.9 150.3 234.5 151.0 234.1 151.6 233.8 152.3 233.5 152.9 233.2 153.6 232.9 154.2 232.7 154.9 232.5 155.5 232.3 156.2 232.1 156.8 232.0 157.5 231.9 158.1 231.8 158.8 231.8 159.4 231.7 160.0 231.7 160.7 231.7 161.3 231.7 162.0 231.8 162.6 231.9 163.3 232.0 163.9 232.1 164.6 232.3 165.2 232.4 165.9 232.7 166.5 232.9 167.2 233.2 167.8 233.4 168.5 233.8 169.1 234.1 169.8 234.5 170.4 234.9 171.1 235.3 171.7 235.8 172.4 236.3 173.0 236.8 173.7 237.4 174.3 238.0 175.0 238.6 175.6 239.2 176.3 239.9 176.9 240.7 177.6 241.4 178.2 242.2 178.9 243.1 179.5 244.0 180.2 244.9 180.8 245.9 181.5 246.9 182.1 247.9 182.8 249.0 183.4 250.2 184.1 251.4 184.7 252.7 185.4 254.0 186.0 255.4 186.7 256.8 187.3 258.3 188.0 259.9 188.6 261.5 189.3 263.2 189.9 265.0 190.6 266.9 191.2 268.9 191.9 270.9 192.5 273.1 193.2 275.3 193.8 277.7 194.5 280.1 195.1 282.7 195.8 285.4 196.4 288.2 197.1 291.1 197.7 294.1 198.4 297.2 199.0 300.3 199.7 303.5 200.3 306.6 201.0 309.6 201.6 312.3 202.3 314.7 202.9 316.5 203.6 317.7 204.2 318.0 204.9 317.6 205.5 316.3 206.1 314.4 206.8 312.0 207.4 309.2 208.1 306.2 208.7 303.0 209.4 299.8 210.0 296.6 210.7 293.5 211.3 290.5 212.0 287.6 212.6 284.7 213.3 282.0 213.9 279.4 214.6 276.9 215.2 274.6 215.9 272.3 216.5 270.1 217.2 268.0 217.8 266.0 218.5 264.1 219.1 262.3 219.8 260.6 220.4 258.9 221.1 257.3 221.7 255.8 222.4 254.3 223.0 252.9 223.7 251.6 224.3 250.3 225.0 249.0 225.6 247.9 226.3 246.8 226.9 245.7 227.6 244.7 228.2 243.7 228.9 242.8 229.5 242.0 230.2 241.1 230.8 240.4 231.5 239.6 232.1 238.9 232.8 238.2 233.4 237.6 234.1 236.9 234.7 236.3 235.4 235.7 236.0 235.2 236.7 234.6 237.3 234.0 238.0 233.5 238.6 233.0 239.3 232.5 239.9 232.1 240.6 231.7 241.2 231.3 241.9 230.9 242.5 230.5 243.2 230.2 243.8 229.9 244.5 229.6 245.1 229.3 245.8 229.0 246.4 228.8 247.1 228.6 247.7 228.4 248.4 228.2 249.0 228.1 249.7 228.1 250.3 228.0 250.9 228.1 251.6 228.1 252.2 228.3 252.9 228.5 253.5 228.7 254.2 229.0 254.8 229.3 255.5 229.7 256.1 230.1 256.8 230.6 257.4 231.1 258.1 231.6 258.7 232.1 259.4 232.7 260.0 233.2 260.7 233.8 261.3 234.4 262.0 235.0 262.6 235.7 263.3 236.3 263.9 237.0 264.6 237.7 265.2 238.5 265.9 239.3 266.5 240.1 267.2 241.0 267.8 241.9 268.5 242.8 269.1 243.8 269.8 244.8 270.4 245.9 271.1 247.0 271.7 248.1 272.4 249.4 273.0 250.6 273.7 252.0 274.3 253.3 275.0 254.8 275.6 256.3 276.3 257.9 276.9 259.5 277.6 261.2 278.2 263.0 278.9 264.9 279.5 266.9 280.2 269.0 280.8 271.1 281.5 273.3 282.1 275.7 282.8 278.2 283.4 280.7 284.1 283.4 284.7 286.2 285.4 289.1 286.0 292.1 286.7 295.2 287.3 298.3 288.0 301.5 288.6 304.5 289.3 307.5 289.9 310.2 290.6 312.5 291.2 314.3 291.9 315.4 292.5 315.7 293.2 315.2 293.8 314.0 294.5 312.1 295.1 309.7 295.8 307.0 296.4 304.0 297.0 300.9 297.7 297.8 298.3 294.7 299.0 291.6 299.6 288.6 300.3 285.7 300.9 283.0 301.6 280.3 302.2 277.7 302.9 275.3 303.5 272.9 304.2 270.7 304.8 268.6 305.5 266.5 306.1 264.5 306.8 262.7 307.4 260.9 308.1 259.1 308.7 257.5 309.4 255.9 310.0 254.4 310.7 252.9 311.3 251.5 312.0 250.2 312.6 248.9 313.3 247.7 313.9 246.5 314.6 245.4 315.2 244.3 315.9 243.3 316.5 242.3 317.2 241.3 317.8 240.4 318.5 239.6 319.1 238.7 319.8 237.9 320.4 237.2 321.1 236.5 321.7 235.8 322.4 235.1 323.0 234.5 323.7 233.9 324.3 233.3 325.0 232.8 325.6 232.3 326.3 231.9 326.9 231.4 327.6 231.0 328.2 230.6 328.9 230.3 329.5 230.0 330.2 229.7 330.8 229.4 331.5 229.2 332.1 228.9 332.8 228.7 333.4 228.6 334.1 228.4 334.7 228.3 335.4 228.2 336.0 228.1 336.7 228.0 337.3 227.9 338.0 227.9 338.6 227.8 339.3 227.8 339.9 227.8 340.6 227.7 341.2 227.7 341.8 227.7 342.5 227.7 343.1 227.8 343.8 227.8 344.4 227.9 345.1 228.1 345.7 228.3 346.4 228.5 347.0 228.8 347.7 229.2 348.3 229.7 349.0 230.2 349.6 230.8 350.3 231.5 350.9 232.3 351.6 233.1 352.2 233.9 352.9 234.8 353.5 235.7 354.2 236.7 354.8 237.7 355.5 238.7 356.1 239.7 356.8 240.8 357.4 241.8 358.1 242.9 358.7 244.1 359.4 245.2 360.0 246.4 360.7 247.6 361.3 248.9 362.0 250.2 362.6 251.6 363.3 253.0 363.9 254.5 364.6 256.0 365.2 257.6 365.9 259.3 366.5 261.0 367.2 262.8 367.8 264.7 368.5 266.7 369.1 268.8 369.8 270.9 370.4 273.2 371.1 275.6 371.7 278.0 372.4 280.6 373.0 283.3 373.7 286.1 374.3 289.0 375.0 292.1 375.6 295.1 376.3 298.3 376.9 301.4 377.6 304.5 378.2 307.5 378.9 310.2 379.5 312.5 380.2 314.3 380.8 315.4 381.5 315.7 382.1 315.3 382.8 314.1 383.4 312.4 384.1 310.1 384.7 307.5 385.4 304.7 386.0 301.7 386.7 298.7 387.3 295.7 387.9 292.7 388.6 289.8 389.2 287.0 389.9 284.2 390.5 281.6 391.2 279.1 391.8 276.6 392.5 274.3 393.1 272.1 393.8 270.0 394.4 267.9 395.1 266.0 395.7 264.1 396.4 262.3 397.0 260.6 397.7 258.9 398.3 257.3 399.0 255.8 399.6 254.3 400.3 252.9 400.9 251.5 401.6 250.2 402.2 248.9 402.9 247.7 403.5 246.5 404.2 245.3 404.8 244.2 405.5 243.0 406.1 242.0 406.8 240.9 407.4 239.9 408.1 238.9 408.7 237.9 409.4 236.9 410.0 236.0 410.7 235.1 411.3 234.2 412.0 233.4 412.6 232.7 413.3 232.0 413.9 231.3 414.6 230.8 415.2 230.2 415.9 229.8 416.5 229.4 417.2 229.0 417.8 228.7 418.5 228.5 419.1 228.3 419.8 228.2 420.4 228.1 421.1 228.0 421.7 228.0 422.4 227.9 423.0 227.9 423.7 227.9 424.3 227.9 425.0 228.0 425.6 228.0 426.3 228.0 426.9 228.1 427.6 228.1 428.2 228.2 428.9 228.3 429.5 228.4 430.2 228.5 430.8 228.6 431.5 228.8 432.1 228.9 432.7 229.1 433.4 229.3 434.0 229.6 434.7 229.8 435.3 230.1 436.0 230.4 436.6 230.7 437.3 231.1 437.9 231.5 438.6 231.9 439.2 232.3 439.9 232.8 440.5 233.3 441.2 233.8 441.8 234.3 442.5 234.9 443.1 235.5 443.8 236.2 444.4 236.9 445.1 237.6 445.7 238.3 446.4 239.1 447.0 239.9 447.7 240.7 448.3 241.6 449.0 242.6 449.6 243.5 450.3 244.5 450.9 245.6 451.6 246.7 452.2 247.8 452.9 249.0 453.5 250.2 454.2 251.5 454.8 252.9 455.5 254.3 456.1 255.7 456.8 257.3 457.4 258.9 458.1 260.5 458.7 262.2 459.4 264.1 460.0 265.9 460.7 267.9 461.3 270.0 462.0 272.1 462.6 274.3 463.3 276.7 463.9 279.1 464.6 281.6 465.2 284.3 465.9 287.0 466.5 289.9 467.2 292.8 467.8 295.8 468.5 298.9 469.1 301.9 469.8 304.9 470.4 307.8 471.1 310.5 471.7 312.8 472.4 314.6 473.0 315.8 473.7 316.3 474.3 315.9 475.0 314.7 475.6 312.6 476.3 309.9 476.9 306.8 477.6 303.5 478.2 300.0 478.8 296.6 479.5 293.1 480.1 289.8 480.8 286.6 481.4 283.5 482.1 280.5 482.7 277.7 483.4 275.0 484.0 272.4 484.7 269.9 485.3 267.6 486.0 265.4 486.6 263.3 487.3 261.2 487.9 259.3 488.6 257.5 489.2 255.7 489.9 254.0 490.5 252.4 491.2 250.9 491.8 249.5 492.5 248.1 493.1 246.7 493.8 245.5 494.4 244.3 495.1 243.1 495.7 242.0 496.4 241.0 497.0 240.0 497.7 239.0 498.3 238.1 499.0 237.3 499.6 236.4 500.3 235.7 500.9 234.9 501.6 234.2 502.2 233.6 502.9 233.0 503.5 232.4 504.2 231.9 504.8 231.4 505.5 230.9 506.1 230.5 506.8 230.1 507.4 229.7 508.1 229.4 508.7 229.1 509.4 228.8 510.0 228.6 510.7 228.4 511.3 228.2 512.0 228.1 512.6 228.0 513.3 227.9 513.9 227.8 514.6 227.8 515.2 227.8 515.9 227.9 516.5 228.0 517.2 228.1 517.8 228.3 518.5 228.4 519.1 228.7 519.8 228.9 520.4 229.2 521.1 229.5 521.7 229.8 522.4 230.2 523.0 230.6" stroke="#7E2F8E"/>
<path d="M69.2 231.3 69.8 231.2 70.4 231.1 71.1 231.1 71.7 231.0 72.4 231.0 73.0 231.1 73.7 231.1 74.3 231.2 75.0 231.3 75.6 231.4 76.3 231.6 76.9 231.8 77.6 232.0 78.2 232.2 78.9 232.5 79.5 232.8 80.2 233.1 80.8 233.4 81.5 233.8 82.1 234.2 82.8 234.6 83.4 235.1 84.1 235.6 84.7 236.1 85.4 236.7 86.0 237.2 86.7 237.9 87.3 238.5 88.0 239.2 88.6 239.9 89.3 240.7 89.9 241.4 90.6 242.3 91.2 243.1 91.9 244.0 92.5 245.0 93.2 246.0 93.8 247.0 94.5 248.1 95.1 249.2 95.8 250.4 96.4 251.6 97.1 252.9 97.7 254.2 98.4 255.6 99.0 257.0 99.7 258.5 100.3 260.1 101.0 261.8 101.6 263.5 102.3 265.3 102.9 267.2 103.6 269.1 104.2 271.2 104.9 273.3 105.5 275.6 106.2 277.9 106.8 280.4 107.5 282.9 108.1 285.6 108.8 288.4 109.4 291.2 110.1 294.2 110.7 297.3 111.4 300.4 112.0 303.5 112.7 306.6 113.3 309.5 114.0 312.2 114.6 314.5 115.2 316.3 115.9 317.4 116.5 317.7 117.2 317.3 117.8 316.1 118.5 314.2 119.1 311.8 119.8 309.1 120.4 306.1 121.1 303.1 121.7 299.9 122.4 296.8 123.0 293.8 123.7 290.8 124.3 287.9 125.0 285.2 125.6 282.5 126.3 280.0 126.9 277.6 127.6 275.3 128.2 273.0 128.9 270.9 129.5 268.9 130.2 267.0 130.8 265.1 131.5 263.3 132.1 261.6 132.8 260.0 133.4 258.4 134.1 256.9 134.7 255.5 135.4 254.2 136.0 252.8 136.7 251.6 137.3 250.4 138.0 249.2 138.6 248.1 139.3 247.1 139.9 246.1 140.6 245.1 141.2 244.2 141.9 243.3 142.5 242.4 143.2 241.6 143.8 240.9 144.5 240.1 145.1 239.4 145.8 238.8 146.4 238.1 147.1 237.6 147.7 237.0 148.4 236.5 149.0 236.0 149.7 235.5 150.3 235.0 151.0 234.6 151.6 234.2 152.3 233.9 152.9 233.6 153.6 233.3 154.2 233.0 154.9 232.7 155.5 232.5 156.2 232.3 156.8 232.2 157.5 232.0 158.1 231.9 158.8 231.8 159.4 231.8 160.0 231.7 160.7 231.7 161.3 231.7 162.0 231.7 162.6 231.8 163.3 231.9 163.9 231.9 164.6 232.1 165.2 232.2 165.9 232.4 166.5 232.6 167.2 232.8 167.8 233.1 168.5 233.4 169.1 233.7 169.8 234.0 170.4 234.4 171.1 234.8 171.7 235.2 172.4 235.7 173.0 236.1 173.7 236.7 174.3 237.2 175.0 237.8 175.6 238.4 176.3 239.1 176.9 239.7 177.6 240.5 178.2 241.2 178.9 242.0 179.5 242.8 180.2 243.7 180.8 244.6 181.5 245.6 182.1 246.6 182.8 247.6 183.4 248.7 184.1 249.9 184.7 251.1 185.4 252.3 186.0 253.6 186.7 255.0 187.3 256.4 188.0 257.9 188.6 259.4 189.3 261.0 189.9 262.7 190.6 264.5 191.2 266.4 191.9 268.3 192.5 270.3 193.2 272.5 193.8 274.7 194.5 277.0 195.1 279.4 195.8 282.0 196.4 284.6 197.1 287.4 197.7 290.3 198.4 293.3 199.0 296.3 199.7 299.5 200.3 302.6 201.0 305.8 201.6 308.8 202.3 311.6 202.9 314.1 203.6 316.1 204.2 317.4 204.9 318.0 205.5 317.8 206.1 316.8 206.8 315.0 207.4 312.7 208.1 310.0 208.7 307.0 209.4 303.9 210.0 300.7 210.7 297.5 211.3 294.4 212.0 291.3 212.6 288.4 213.3 285.5 213.9 282.8 214.6 280.2 215.2 277.6 215.9 275.2 216.5 272.9 217.2 270.7 217.8 268.6 218.5 266.6 219.1 264.7 219.8 262.8 220.4 261.1 221.1 259.4 221.7 257.7 222.4 256.2 223.0 254.7 223.7 253.3 224.3 251.9 225.0 250.6 225.6 249.4 226.3 248.2 226.9 247.1 227.6 246.0 228.2 245.0 228.9 244.0 229.5 243.1 230.2 242.2 230.8 241.4 231.5 240.6 232.1 239.8 232.8 239.1 233.4 238.4 234.1 237.8 234.7 237.1 235.4 236.5 236.0 235.9 236.7 235.3 237.3 234.7 238.0 234.2 238.6 233.7 239.3 233.2 239.9 232.7 240.6 232.2 241.2 231.8 241.9 231.4 242.5 231.0 243.2 230.6 243.8 230.3 244.5 230.0 245.1 229.7 245.8 229.4 246.4 229.1 247.1 228.9 247.7 228.6 248.4 228.5 249.0 228.3 249.7 228.2 250.3 228.1 250.9 228.0 251.6 228.0 252.2 228.1 252.9 228.2 253.5 228.4 254.2 228.6 254.8 228.9 255.5 229.2 256.1 229.6 256.8 230.0 257.4 230.5 258.1 230.9 258.7 231.4 259.4 232.0 260.0 232.5 260.7 233.1 261.3 233.6 262.0 234.2 262.6 234.8 263.3 235.5 263.9 236.1 264.6 236.8 265.2 237.5 265.9 238.3 266.5 239.0 267.2 239.9 267.8 240.7 268.5 241.6 269.1 242.5 269.8 243.5 270.4 244.5 271.1 245.6 271.7 246.7 272.4 247.8 273.0 249.0 273.7 250.3 274.3 251.6 275.0 253.0 275.6 254.4 276.3 255.9 276.9 257.4 277.6 259.1 278.2 260.8 278.9 262.5 279.5 264.4 280.2 266.3 280.8 268.4 281.5 270.5 282.1 272.7 282.8 275.0 283.4 277.5 284.1 280.0 284.7 282.6 285.4 285.4 286.0 288.3 286.7 291.2 287.3 294.3 288.0 297.4 288.6 300.6 289.3 303.7 289.9 306.7 290.6 309.5 291.2 311.9 291.9 313.9 292.5 315.2 293.2 315.7 293.8 315.4 294.5 314.4 295.1 312.7 295.8 310.5 296.4 307.8 297.0 304.9 297.7 301.8 298.3 298.7 299.0 295.5 299.6 292.5 300.3 289.5 300.9 286.5 301.6 283.7 302.2 281.0 302.9 278.4 303.5 276.0 304.2 273.6 304.8 271.3 305.5 269.1 306.1 267.1 306.8 265.1 307.4 263.2 308.1 261.4 308.7 259.6 309.4 257.9 310.0 256.3 310.7 254.8 311.3 253.3 312.0 251.9 312.6 250.6 313.3 249.3 313.9 248.0 314.6 246.8 315.2 245.7 315.9 244.6 316.5 243.6 317.2 242.6 317.8 241.6 318.5 240.7 319.1 239.8 319.8 239.0 320.4 238.2 321.1 237.4 321.7 236.7 322.4 236.0 323.0 235.3 323.7 234.7 324.3 234.1 325.0 233.5 325.6 233.0 326.3 232.5 326.9 232.0 327.6 231.5 328.2 231.1 328.9 230.7 329.5 230.4 330.2 230.1 330.8 229.7 331.5 229.5 332.1 229.2 332.8 229.0 333.4 228.8 334.1 228.6 334.7 228.4 335.4 228.3 336.0 228.2 336.7 228.1 337.3 228.0 338.0 227.9 338.6 227.9 339.3 227.8 339.9 227.8 340.6 227.8 341.2 227.7 341.8 227.7 342.5 227.7 343.1 227.7 343.8 227.8 344.4 227.8 345.1 227.9 345.7 228.0 346.4 228.2 347.0 228.4 347.7 228.7 348.3 229.1 349.0 229.6 349.6 230.1 350.3 230.7 350.9 231.3 351.6 232.0 352.2 232.8 352.9 233.7 353.5 234.5 354.2 235.5 354.8 236.4 355.5 237.4 356.1 238.4 356.8 239.4 357.4 240.5 358.1 241.5 358.7 242.6 359.4 243.7 360.0 244.9 360.7 246.1 361.3 247.3 362.0 248.5 362.6 249.8 363.3 251.2 363.9 252.6 364.6 254.0 365.2 255.5 365.9 257.1 366.5 258.8 367.2 260.5 367.8 262.3 368.5 264.2 369.1 266.1 369.8 268.2 370.4 270.3 371.1 272.6 371.7 274.9 372.4 277.3 373.0 279.9 373.7 282.6 374.3 285.3 375.0 288.2 375.6 291.2 376.3 294.3 376.9 297.4 377.6 300.5 378.2 303.7 378.9 306.7 379.5 309.5 380.2 311.9 380.8 313.8 381.5 315.1 382.1 315.7 382.8 315.5 383.4 314.5 384.1 312.9 384.7 310.8 385.4 308.3 386.0 305.5 386.7 302.6 387.3 299.6 387.9 296.5 388.6 293.5 389.2 290.6 389.9 287.7 390.5 285.0 391.2 282.3 391.8 279.8 392.5 277.3 393.1 275.0 393.8 272.7 394.4 270.6 395.1 268.5 395.7 266.5 396.4 264.6 397.0 262.8 397.7 261.0 398.3 259.4 399.0 257.7 399.6 256.2 400.3 254.7 400.9 253.3 401.6 251.9 402.2 250.6 402.9 249.3 403.5 248.0 404.2 246.8 404.8 245.6 405.5 244.5 406.1 243.4 406.8 242.3 407.4 241.2 408.1 240.2 408.7 239.1 409.4 238.1 410.0 237.2 410.7 236.2 411.3 235.3 412.0 234.5 412.6 233.7 413.3 232.9 413.9 232.2 414.6 231.5 415.2 230.9 415.9 230.4 416.5 229.9 417.2 229.5 417.8 229.1 418.5 228.8 419.1 228.6 419.8 228.4 420.4 228.2 421.1 228.1 421.7 228.0 422.4 228.0 423.0 227.9 423.7 227.9 424.3 227.9 425.0 227.9 425.6 227.9 426.3 228.0 426.9 228.0 427.6 228.1 428.2 228.1 428.9 228.2 429.5 228.3 430.2 228.4 430.8 228.5 431.5 228.6 432.1 228.7 432.7 228.9 433.4 229.1 434.0 229.3 434.7 229.5 435.3 229.7 436.0 230.0 436.6 230.3 437.3 230.6 437.9 231.0 438.6 231.4 439.2 231.8 439.9 232.2 440.5 232.6 441.2 233.1 441.8 233.6 442.5 234.2 443.1 234.8 443.8 235.4 444.4 236.0 445.1 236.7 445.7 237.4 446.4 238.1 447.0 238.9 447.7 239.7 448.3 240.5 449.0 241.4 449.6 242.3 450.3 243.2 450.9 244.2 451.6 245.3 452.2 246.4 452.9 247.5 453.5 248.7 454.2 249.9 454.8 251.2 455.5 252.5 456.1 253.9 456.8 255.3 457.4 256.8 458.1 258.4 458.7 260.0 459.4 261.8 460.0 263.5 460.7 265.4 461.3 267.3 462.0 269.4 462.6 271.5 463.3 273.7 463.9 276.0 464.6 278.4 465.2 280.9 465.9 283.5 466.5 286.2 467.2 289.1 467.8 292.0 468.5 295.0 469.1 298.0 469.8 301.1 470.4 304.1 471.1 307.0 471.7 309.7 472.4 312.2 473.0 314.1 473.7 315.5 474.3 316.2 475.0 316.1 475.6 315.1 476.3 313.3 476.9 310.7 477.6 307.8 478.2 304.5 478.8 301.0 479.5 297.5 480.1 294.1 480.8 290.7 481.4 287.5 482.1 284.3 482.7 281.3 483.4 278.4 484.0 275.7 484.7 273.1 485.3 270.6 486.0 268.2 486.6 266.0 487.3 263.8 487.9 261.8 488.6 259.8 489.2 258.0 489.9 256.2 490.5 254.5 491.2 252.9 491.8 251.3 492.5 249.9 493.1 248.5 493.8 247.1 494.4 245.8 495.1 244.6 495.7 243.4 496.4 242.3 497.0 241.3 497.7 240.2 498.3 239.3 499.0 238.4 499.6 237.5 500.3 236.7 500.9 235.9 501.6 235.1 502.2 234.4 502.9 233.8 503.5 233.1 504.2 232.6 504.8 232.0 505.5 231.5 506.1 231.0 506.8 230.6 507.4 230.2 508.1 229.8 508.7 229.5 509.4 229.1 510.0 228.9 510.7 228.6 511.3 228.4 512.0 228.2 512.6 228.1 513.3 228.0 513.9 227.9 514.6 227.8 515.2 227.8 515.9 227.8 516.5 227.9 517.2 228.0 517.8 228.1 518.5 228.2 519.1 228.4 519.8 228.6 520.4 228.8 521.1 229.1 521.7 229.4 522.4 229.7 523.0 230.1" stroke="#77AC30"/>
<path d="M69.2 231.5 69.8 231.3 70.4 231.2 71.1 231.1 71.7 231.1 72.4 231.0 73.0 231.0 73.7 231.0 74.3 231.1 75.0 231.2 75.6 231.3 76.3 231.4 76.9 231.5 77.6 231.7 78.2 231.9 78.9 232.1 79.5 232.4 80.2 232.7 80.8 233.0 81.5 233.3 82.1 233.7 82.8 234.1 83.4 234.5 84.1 235.0 84.7 235.5 85.4 236.0 86.0 236.5 86.7 237.1 87.3 237.7 88.0 238.3 88.6 239.0 89.3 239.7 89.9 240.4 90.6 241.2 91.2 242.0 91.9 242.9 92.5 243.8 93.2 244.7 93.8 245.7 94.5 246.7 95.1 247.8 95.8 248.9 96.4 250.0 97.1 251.2 97.7 252.5 98.4 253.8 99.0 255.2 99.7 256.6 100.3 258.1 101.0 259.7 101.6 261.3 102.3 263.0 102.9 264.8 103.6 266.6 104.2 268.6 104.9 270.6 105.5 272.7 106.2 274.9 106.8 277.2 107.5 279.7 108.1 282.2 108.8 284.8 109.4 287.6 110.1 290.4 110.7 293.4 111.4 296.4 112.0 299.5 112.7 302.6 113.3 305.7 114.0 308.7 114.6 311.5 115.2 313.9 115.9 315.9 116.5 317.2 117.2 317.7 117.8 317.5 118.5 316.5 119.1 314.8 119.8 312.5 120.4 309.9 121.1 307.0 121.7 303.9 122.4 300.8 123.0 297.7 123.7 294.6 124.3 291.6 125.0 288.7 125.6 286.0 126.3 283.3 126.9 280.7 127.6 278.3 128.2 275.9 128.9 273.7 129.5 271.5 130.2 269.5 130.8 267.5 131.5 265.6 132.1 263.8 132.8 262.1 133.4 260.4 134.1 258.9 134.7 257.4 135.4 255.9 136.0 254.5 136.7 253.2 137.3 251.9 138.0 250.7 138.6 249.6 139.3 248.4 139.9 247.4 140.6 246.3 141.2 245.4 141.9 244.4 142.5 243.5 143.2 242.7 143.8 241.9 144.5 241.1 145.1 240.3 145.8 239.6 146.4 239.0 147.1 238.3 147.7 237.7 148.4 237.1 149.0 236.6 149.7 236.1 150.3 235.6 151.0 235.2 151.6 234.7 152.3 234.4 152.9 234.0 153.6 233.7 154.2 233.3 154.9 233.1 155.5 232.8 156.2 232.6 156.8 232.4 157.5 232.2 158.1 232.1 158.8 231.9 159.4 231.9 160.0 231.8 160.7 231.7 161.3 231.7 162.0 231.7 162.6 231.7 163.3 231.8 163.9 231.8 164.6 231.9 165.2 232.0 165.9 232.2 166.5 232.3 167.2 232.5 167.8 232.8 168.5 233.0 169.1 233.3 169.8 233.6 170.4 233.9 171.1 234.3 171.7 234.7 172.4 235.1 173.0 235.5 173.7 236.0 174.3 236.5 175.0 237.1 175.6 237.6 176.3 238.2 176.9 238.9 177.6 239.5 178.2 240.3 178.9 241.0 179.5 241.8 180.2 242.6 180.8 243.5 181.5 244.4 182.1 245.3 182.8 246.3 183.4 247.3 184.1 248.4 184.7 249.5 185.4 250.7 186.0 251.9 186.7 253.2 187.3 254.6 188.0 256.0 188.6 257.5 189.3 259.0 189.9 260.6 190.6 262.3 191.2 264.0 191.9 265.8 192.5 267.8 193.2 269.8 193.8 271.8 194.5 274.0 195.1 276.3 195.8 278.7 196.4 281.2 197.1 283.9 197.7 286.6 198.4 289.5 199.0 292.4 199.7 295.4 200.3 298.6 201.0 301.7 201.6 304.9 202.3 307.9 202.9 310.8 203.6 313.4 204.2 315.6 204.9 317.1 205.5 317.9 206.1 317.9 206.8 317.1 207.4 315.6 208.1 313.4 208.7 310.8 209.4 307.9 210.0 304.8 210.7 301.6 211.3 298.4 212.0 295.3 212.6 292.2 213.3 289.2 213.9 286.3 214.6 283.5 215.2 280.9 215.9 278.3 216.5 275.9 217.2 273.6 217.8 271.3 218.5 269.2 219.1 267.2 219.8 265.2 220.4 263.3 221.1 261.5 221.7 259.8 222.4 258.2 223.0 256.6 223.7 255.1 224.3 253.7 225.0 252.3 225.6 251.0 226.3 249.7 226.9 248.5 227.6 247.4 228.2 246.3 228.9 245.3 229.5 244.3 230.2 243.3 230.8 242.4 231.5 241.6 232.1 240.8 232.8 240.0 233.4 239.3 234.1 238.6 234.7 237.9 235.4 237.3 236.0 236.7 236.7 236.1 237.3 235.5 238.0 234.9 238.6 234.4 239.3 233.8 239.9 233.3 240.6 232.8 241.2 232.3 241.9 231.9 242.5 231.5 243.2 231.1 243.8 230.7 244.5 230.4 245.1 230.0 245.8 229.7 246.4 229.4 247.1 229.2 247.7 228.9 248.4 228.7 249.0 228.5 249.7 228.3 250.3 228.2 250.9 228.1 251.6 228.0 252.2 228.0 252.9 228.1 253.5 228.2 254.2 228.3 254.8 228.6 255.5 228.8 256.1 229.1 256.8 229.5 257.4 229.9 258.1 230.3 258.7 230.8 259.4 231.3 260.0 231.8 260.7 232.4 261.3 232.9 262.0 233.5 262.6 234.1 263.3 234.7 263.9 235.3 264.6 235.9 265.2 236.6 265.9 237.3 266.5 238.1 267.2 238.8 267.8 239.6 268.5 240.5 269.1 241.3 269.8 242.3 270.4 243.2 271.1 244.2 271.7 245.3 272.4 246.3 273.0 247.5 273.7 248.7 274.3 249.9 275.0 251.2 275.6 252.6 276.3 254.0 276.9 255.4 277.6 257.0 278.2 258.6 278.9 260.3 279.5 262.0 280.2 263.9 280.8 265.8 281.5 267.8 282.1 269.9 282.8 272.1 283.4 274.4 284.1 276.8 284.7 279.3 285.4 281.9 286.0 284.6 286.7 287.5 287.3 290.4 288.0 293.4 288.6 296.5 289.3 299.7 289.9 302.8 290.6 305.9 291.2 308.7 291.9 311.3 292.5 313.4 293.2 314.9 293.8 315.6 294.5 315.6 295.1 314.8 295.8 313.3 296.4 311.1 297.0 308.6 297.7 305.7 298.3 302.7 299.0 299.6 299.6 296.4 300.3 293.3 300.9 290.3 301.6 287.4 302.2 284.5 302.9 281.8 303.5 279.2 304.2 276.7 304.8 274.3 305.5 272.0 306.1 269.8 306.8 267.6 307.4 265.6 308.1 263.7 308.7 261.9 309.4 260.1 310.0 258.4 310.7 256.8 311.3 255.2 312.0 253.7 312.6 252.3 313.3 250.9 313.9 249.6 314.6 248.4 315.2 247.2 315.9 246.0 316.5 244.9 317.2 243.9 317.8 242.8 318.5 241.9 319.1 240.9 319.8 240.0 320.4 239.2 321.1 238.4 321.7 237.6 322.4 236.9 323.0 236.1 323.7 235.5 324.3 234.8 325.0 234.2 325.6 233.7 326.3 233.1 326.9 232.6 327.6 232.1 328.2 231.7 328.9 231.2 329.5 230.8 330.2 230.5 330.8 230.1 331.5 229.8 332.1 229.5 332.8 229.3 333.4 229.1 334.1 228.8 334.7 228.7 335.4 228.5 336.0 228.3 336.7 228.2 337.3 228.1 338.0 228.0 338.6 228.0 339.3 227.9 339.9 227.8 340.6 227.8 341.2 227.8 341.8 227.7 342.5 227.7 343.1 227.7 343.8 227.7 344.4 227.7 345.1 227.8 345.7 227.9 346.4 228.0 347.0 228.1 347.7 228.4 348.3 228.6 349.0 229.0 349.6 229.4 350.3 229.9 350.9 230.5 351.6 231.1 352.2 231.8 352.9 232.6 353.5 233.4 354.2 234.3 354.8 235.2 355.5 236.1 356.1 237.1 356.8 238.1 357.4 239.1 358.1 240.2 358.7 241.2 359.4 242.3 360.0 243.4 360.7 244.6 361.3 245.7 362.0 246.9 362.6 248.2 363.3 249.5 363.9 250.8 364.6 252.2 365.2 253.6 365.9 255.1 366.5 256.7 367.2 258.3 367.8 260.0 368.5 261.8 369.1 263.6 369.8 265.6 370.4 267.6 371.1 269.7 371.7 271.9 372.4 274.2 373.0 276.6 373.7 279.2 374.3 281.8 375.0 284.5 375.6 287.4 376.3 290.3 376.9 293.4 377.6 296.5 378.2 299.7 378.9 302.8 379.5 305.8 380.2 308.7 380.8 311.2 381.5 313.3 382.1 314.8 382.8 315.6 383.4 315.6 384.1 314.9 384.7 313.4 385.4 311.4 386.0 309.0 386.7 306.3 387.3 303.4 387.9 300.4 388.6 297.4 389.2 294.4 389.9 291.4 390.5 288.5 391.2 285.7 391.8 283.1 392.5 280.5 393.1 278.0 393.8 275.6 394.4 273.3 395.1 271.2 395.7 269.1 396.4 267.1 397.0 265.1 397.7 263.3 398.3 261.5 399.0 259.8 399.6 258.2 400.3 256.6 400.9 255.1 401.6 253.7 402.2 252.3 402.9 250.9 403.5 249.6 404.2 248.4 404.8 247.1 405.5 246.0 406.1 244.8 406.8 243.7 407.4 242.6 408.1 241.5 408.7 240.4 409.4 239.4 410.0 238.4 410.7 237.4 411.3 236.5 412.0 235.6 412.6 234.7 413.3 233.9 413.9 233.1 414.6 232.4 415.2 231.7 415.9 231.1 416.5 230.5 417.2 230.0 417.8 229.6 418.5 229.2 419.1 228.9 419.8 228.6 420.4 228.4 421.1 228.3 421.7 228.1 422.4 228.0 423.0 228.0 423.7 227.9 424.3 227.9 425.0 227.9 425.6 227.9 426.3 227.9 426.9 228.0 427.6 228.0 428.2 228.0 428.9 228.1 429.5 228.2 430.2 228.2 430.8 228.3 431.5 228.4 432.1 228.5 432.7 228.7 433.4 228.8 434.0 229.0 434.7 229.2 435.3 229.4 436.0 229.7 436.6 229.9 437.3 230.2 437.9 230.5 438.6 230.9 439.2 231.2 439.9 231.6 440.5 232.1 441.2 232.5 441.8 233.0 442.5 233.5 443.1 234.0 443.8 234.6 444.4 235.2 445.1 235.8 445.7 236.5 446.4 237.2 447.0 237.9 447.7 238.6 448.3 239.4 449.0 240.3 449.6 241.1 450.3 242.0 450.9 243.0 451.6 244.0 452.2 245.0 452.9 246.0 453.5 247.2 454.2 248.3 454.8 249.5 455.5 250.8 456.1 252.1 456.8 253.5 457.4 254.9 458.1 256.4 458.7 258.0 459.4 259.6 460.0 261.3 460.7 263.0 461.3 264.9 462.0 266.8 462.6 268.8 463.3 270.9 463.9 273.1 464.6 275.3 465.2 277.7 465.9 280.2 466.5 282.8 467.2 285.5 467.8 288.3 468.5 291.1 469.1 294.1 469.8 297.1 470.4 300.2 471.1 303.2 471.7 306.2 472.4 309.0 473.0 311.5 473.7 313.6 474.3 315.2 475.0 316.1 475.6 316.3 476.3 315.5 476.9 313.9 477.6 311.5 478.2 308.6 478.8 305.4 479.5 302.0 480.1 298.5 480.8 295.1 481.4 291.7 482.1 288.4 482.7 285.2 483.4 282.2 484.0 279.2 484.7 276.5 485.3 273.8 486.0 271.3 486.6 268.9 487.3 266.6 487.9 264.4 488.6 262.4 489.2 260.4 489.9 258.5 490.5 256.7 491.2 255.0 491.8 253.3 492.5 251.8 493.1 250.3 493.8 248.8 494.4 247.5 495.1 246.2 495.7 244.9 496.4 243.8 497.0 242.6 497.7 241.6 498.3 240.5 499.0 239.5 499.6 238.6 500.3 237.7 500.9 236.9 501.6 236.1 502.2 235.3 502.9 234.6 503.5 234.0 504.2 233.3 504.8 232.7 505.5 232.2 506.1 231.6 506.8 231.1 507.4 230.7 508.1 230.3 508.7 229.9 509.4 229.5 510.0 229.2 510.7 228.9 511.3 228.7 512.0 228.5 512.6 228.3 513.3 228.1 513.9 228.0 514.6 227.9 515.2 227.9 515.9 227.8 516.5 227.8 517.2 227.9 517.8 227.9 518.5 228.0 519.1 228.2 519.8 228.3 520.4 228.5 521.1 228.8 521.7 229.0 522.4 229.3 523.0 229.6" stroke="#4DBEEE"/>
<path d="M69.2 231.7 69.8 231.5 70.4 231.4 71.1 231.2 71.7 231.2 72.4 231.1 73.0 231.0 73.7 231.0 74.3 231.0 75.0 231.1 75.6 231.1 76.3 231.2 76.9 231.4 77.6 231.5 78.2 231.7 78.9 231.9 79.5 232.1 80.2 232.3 80.8 232.6 81.5 232.9 82.1 233.2 82.8 233.6 83.4 234.0 84.1 234.4 84.7 234.8 85.4 235.3 86.0 235.8 86.7 236.3 87.3 236.9 88.0 237.5 88.6 238.1 89.3 238.8 89.9 239.5 90.6 240.2 91.2 241.0 91.9 241.8 92.5 242.6 93.2 243.5 93.8 244.4 94.5 245.4 95.1 246.4 95.8 247.5 96.4 248.6 97.1 249.7 97.7 250.9 98.4 252.1 99.0 253.4 99.7 254.8 100.3 256.2 101.0 257.7 101.6 259.2 102.3 260.8 102.9 262.5 103.6 264.3 104.2 266.1 104.9 268.0 105.5 270.0 106.2 272.1 106.8 274.3 107.5 276.6 108.1 279.0 108.8 281.5 109.4 284.1 110.1 286.8 110.7 289.6 111.4 292.5 112.0 295.5 112.7 298.6 113.3 301.8 114.0 304.9 114.6 307.9 115.2 310.7 115.9 313.3 116.5 315.4 117.2 316.9 117.8 317.6 118.5 317.6 119.1 316.8 119.8 315.3 120.4 313.2 121.1 310.7 121.7 307.8 122.4 304.8 123.0 301.7 123.7 298.6 124.3 295.5 125.0 292.5 125.6 289.5 126.3 286.7 126.9 284.0 127.6 281.4 128.2 278.9 128.9 276.6 129.5 274.3 130.2 272.1 130.8 270.0 131.5 268.0 132.1 266.1 132.8 264.3 133.4 262.6 134.1 260.9 134.7 259.3 135.4 257.8 136.0 256.3 136.7 254.9 137.3 253.6 138.0 252.3 138.6 251.1 139.3 249.9 139.9 248.7 140.6 247.7 141.2 246.6 141.9 245.6 142.5 244.7 143.2 243.8 143.8 242.9 144.5 242.1 145.1 241.3 145.8 240.5 146.4 239.8 147.1 239.1 147.7 238.5 148.4 237.9 149.0 237.3 149.7 236.8 150.3 236.2 151.0 235.7 151.6 235.3 152.3 234.9 152.9 234.5 153.6 234.1 154.2 233.7 154.9 233.4 155.5 233.1 156.2 232.9 156.8 232.6 157.5 232.4 158.1 232.3 158.8 232.1 159.4 232.0 160.0 231.9 160.7 231.8 161.3 231.7 162.0 231.7 162.6 231.7 163.3 231.7 163.9 231.8 164.6 231.8 165.2 231.9 165.9 232.0 166.5 232.1 167.2 232.3 167.8 232.5 168.5 232.7 169.1 232.9 169.8 233.2 170.4 233.5 171.1 233.8 171.7 234.2 172.4 234.6 173.0 235.0 173.7 235.4 174.3 235.9 175.0 236.4 175.6 236.9 176.3 237.5 176.9 238.1 177.6 238.7 178.2 239.4 178.9 240.1 179.5 240.8 180.2 241.6 180.8 242.4 181.5 243.2 182.1 244.1 182.8 245.0 183.4 246.0 184.1 247.0 184.7 248.1 185.4 249.2 186.0 250.4 186.7 251.6 187.3 252.9 188.0 254.2 188.6 255.6 189.3 257.0 189.9 258.5 190.6 260.1 191.2 261.8 191.9 263.5 192.5 265.3 193.2 267.2 193.8 269.2 194.5 271.2 195.1 273.4 195.8 275.7 196.4 278.0 197.1 280.5 197.7 283.1 198.4 285.8 199.0 288.6 199.7 291.6 200.3 294.6 201.0 297.7 201.6 300.8 202.3 304.0 202.9 307.1 203.6 310.1 204.2 312.7 204.9 315.0 205.5 316.7 206.1 317.8 206.8 318.0 207.4 317.4 208.1 316.1 208.7 314.1 209.4 311.6 210.0 308.7 210.7 305.7 211.3 302.5 212.0 299.3 212.6 296.2 213.3 293.1 213.9 290.0 214.6 287.1 215.2 284.3 215.9 281.6 216.5 279.0 217.2 276.6 217.8 274.2 218.5 271.9 219.1 269.8 219.8 267.7 220.4 265.7 221.1 263.8 221.7 262.0 222.4 260.3 223.0 258.6 223.7 257.1 224.3 255.5 225.0 254.1 225.6 252.7 226.3 251.3 226.9 250.1 227.6 248.9 228.2 247.7 228.9 246.6 229.5 245.5 230.2 244.5 230.8 243.6 231.5 242.7 232.1 241.8 232.8 241.0 233.4 240.2 234.1 239.5 234.7 238.8 235.4 238.1 236.0 237.5 236.7 236.8 237.3 236.2 238.0 235.6 238.6 235.1 239.3 234.5 239.9 234.0 240.6 233.4 241.2 232.9 241.9 232.5 242.5 232.0 243.2 231.6 243.8 231.2 244.5 230.8 245.1 230.5 245.8 230.1 246.4 229.8 247.1 229.5 247.7 229.3 248.4 229.0 249.0 228.8 249.7 228.6 250.3 228.4 250.9 228.2 251.6 228.1 252.2 228.0 252.9 228.0 253.5 228.1 254.2 228.1 254.8 228.3 255.5 228.5 256.1 228.7 256.8 229.0 257.4 229.4 258.1 229.8 258.7 230.2 259.4 230.7 260.0 231.2 260.7 231.7 261.3 232.2 262.0 232.7 262.6 233.3 263.3 233.9 263.9 234.5 264.6 235.1 265.2 235.8 265.9 236.4 266.5 237.1 267.2 237.9 267.8 238.6 268.5 239.4 269.1 240.2 269.8 241.1 270.4 242.0 271.1 242.9 271.7 243.9 272.4 245.0 273.0 246.0 273.7 247.2 274.3 248.3 275.0 249.6 275.6 250.8 276.3 252.2 276.9 253.6 277.6 255.0 278.2 256.5 278.9 258.1 279.5 259.8 280.2 261.5 280.8 263.3 281.5 265.2 282.1 267.2 282.8 269.3 283.4 271.4 284.1 273.7 284.7 276.1 285.4 278.6 286.0 281.1 286.7 283.8 287.3 286.6 288.0 289.6 288.6 292.6 289.3 295.7 289.9 298.8 290.6 301.9 291.2 305.0 291.9 307.9 292.5 310.6 293.2 312.8 293.8 314.5 294.5 315.5 295.1 315.7 295.8 315.1 296.4 313.8 297.0 311.8 297.7 309.3 298.3 306.6 299.0 303.6 299.6 300.4 300.3 297.3 300.9 294.2 301.6 291.1 302.2 288.2 302.9 285.3 303.5 282.5 304.2 279.9 304.8 277.4 305.5 274.9 306.1 272.6 306.8 270.4 307.4 268.2 308.1 266.2 308.7 264.2 309.4 262.4 310.0 260.6 310.7 258.9 311.3 257.2 312.0 255.7 312.6 254.2 313.3 252.7 313.9 251.3 314.6 250.0 315.2 248.7 315.9 247.5 316.5 246.3 317.2 245.2 317.8 244.1 318.5 243.1 319.1 242.1 319.8 241.2 320.4 240.3 321.1 239.4 321.7 238.6 322.4 237.8 323.0 237.1 323.7 236.3 324.3 235.7 325.0 235.0 325.6 234.4 326.3 233.8 326.9 233.3 327.6 232.7 328.2 232.3 328.9 231.8 329.5 231.4 330.2 231.0 330.8 230.6 331.5 230.2 332.1 229.9 332.8 229.6 333.4 229.4 334.1 229.1 334.7 228.9 335.4 228.7 336.0 228.5 336.7 228.4 337.3 228.3 338.0 228.1 338.6 228.1 339.3 228.0 339.9 227.9 340.6 227.9 341.2 227.8 341.8 227.8 342.5 227.8 343.1 227.7 343.8 227.7 344.4 227.7 345.1 227.7 345.7 227.8 346.4 227.8 347.0 227.9 347.7 228.1 348.3 228.3 349.0 228.6 349.6 228.9 350.3 229.3 350.9 229.8 351.6 230.3 352.2 230.9 352.9 231.6 353.5 232.4 354.2 233.2 354.8 234.0 355.5 234.9 356.1 235.9 356.8 236.8 357.4 237.8 358.1 238.8 358.7 239.9 359.4 240.9 360.0 242.0 360.7 243.1 361.3 244.2 362.0 245.4 362.6 246.6 363.3 247.8 363.9 249.1 364.6 250.4 365.2 251.8 365.9 253.2 366.5 254.7 367.2 256.2 367.8 257.8 368.5 259.5 369.1 261.3 369.8 263.1 370.4 265.0 371.1 267.0 371.7 269.1 372.4 271.3 373.0 273.6 373.7 275.9 374.3 278.4 375.0 281.0 375.6 283.8 376.3 286.6 376.9 289.5 377.6 292.5 378.2 295.6 378.9 298.8 379.5 301.9 380.2 305.0 380.8 307.9 381.5 310.6 382.1 312.8 382.8 314.5 383.4 315.5 384.1 315.7 384.7 315.1 385.4 313.9 386.0 312.1 386.7 309.7 387.3 307.1 387.9 304.2 388.6 301.3 389.2 298.2 389.9 295.2 390.5 292.2 391.2 289.3 391.8 286.5 392.5 283.8 393.1 281.2 393.8 278.7 394.4 276.3 395.1 274.0 395.7 271.8 396.4 269.6 397.0 267.6 397.7 265.7 398.3 263.8 399.0 262.0 399.6 260.3 400.3 258.6 400.9 257.1 401.6 255.5 402.2 254.1 402.9 252.7 403.5 251.3 404.2 250.0 404.8 248.7 405.5 247.5 406.1 246.3 406.8 245.1 407.4 244.0 408.1 242.9 408.7 241.8 409.4 240.7 410.0 239.7 410.7 238.7 411.3 237.7 412.0 236.8 412.6 235.8 413.3 235.0 413.9 234.1 414.6 233.3 415.2 232.6 415.9 231.9 416.5 231.2 417.2 230.7 417.8 230.2 418.5 229.7 419.1 229.3 419.8 229.0 420.4 228.7 421.1 228.5 421.7 228.3 422.4 228.2 423.0 228.1 423.7 228.0 424.3 228.0 425.0 227.9 425.6 227.9 426.3 227.9 426.9 227.9 427.6 228.0 428.2 228.0 428.9 228.0 429.5 228.1 430.2 228.1 430.8 228.2 431.5 228.3 432.1 228.4 432.7 228.5 433.4 228.6 434.0 228.8 434.7 229.0 435.3 229.1 436.0 229.4 436.6 229.6 437.3 229.9 437.9 230.1 438.6 230.4 439.2 230.8 439.9 231.1 440.5 231.5 441.2 231.9 441.8 232.4 442.5 232.8 443.1 233.3 443.8 233.9 444.4 234.4 445.1 235.0 445.7 235.6 446.4 236.3 447.0 237.0 447.7 237.7 448.3 238.4 449.0 239.2 449.6 240.0 450.3 240.9 450.9 241.8 451.6 242.7 452.2 243.7 452.9 244.7 453.5 245.7 454.2 246.8 454.8 248.0 455.5 249.2 456.1 250.4 456.8 251.7 457.4 253.1 458.1 254.5 458.7 256.0 459.4 257.5 460.0 259.1 460.7 260.8 461.3 262.5 462.0 264.3 462.6 266.2 463.3 268.2 463.9 270.3 464.6 272.4 465.2 274.7 465.9 277.0 466.5 279.5 467.2 282.0 467.8 284.7 468.5 287.5 469.1 290.3 469.8 293.3 470.4 296.3 471.1 299.3 471.7 302.4 472.4 305.4 473.0 308.2 473.7 310.8 474.3 313.1 475.0 314.8 475.6 315.9 476.3 316.3 476.9 315.8 477.6 314.4 478.2 312.2 478.8 309.5 479.5 306.3 480.1 303.0 480.8 299.5 481.4 296.0 482.1 292.6 482.7 289.3 483.4 286.1 484.0 283.0 484.7 280.0 485.3 277.2 486.0 274.6 486.6 272.0 487.3 269.6 487.9 267.2 488.6 265.0 489.2 262.9 489.9 260.9 490.5 259.0 491.2 257.2 491.8 255.4 492.5 253.8 493.1 252.2 493.8 250.7 494.4 249.2 495.1 247.9 495.7 246.5 496.4 245.3 497.0 244.1 497.7 242.9 498.3 241.8 499.0 240.8 499.6 239.8 500.3 238.9 500.9 238.0 501.6 237.1 502.2 236.3 502.9 235.6 503.5 234.8 504.2 234.1 504.8 233.5 505.5 232.9 506.1 232.3 506.8 231.8 507.4 231.3 508.1 230.8 508.7 230.4 509.4 230.0 510.0 229.6 510.7 229.3 511.3 229.0 512.0 228.8 512.6 228.5 513.3 228.3 513.9 228.2 514.6 228.0 515.2 227.9 515.9 227.9 516.5 227.8 517.2 227.8 517.8 227.9 518.5 227.9 519.1 228.0 519.8 228.1 520.4 228.3 521.1 228.5 521.7 228.7 522.4 228.9 523.0 229.2" stroke="#A2142F"/>
</g>
<g class="tk">
<text x="72.65" y="373.00" text-anchor="middle">990</text>
<text x="118.04" y="373.00" text-anchor="middle">992</text>
<text x="163.42" y="373.00" text-anchor="middle">994</text>
<text x="208.81" y="373.00" text-anchor="middle">996</text>
<text x="254.19" y="373.00" text-anchor="middle">998</text>
<text x="299.58" y="373.00" text-anchor="middle">1000</text>
<text x="344.96" y="373.00" text-anchor="middle">1002</text>
<text x="390.35" y="373.00" text-anchor="middle">1004</text>
<text x="435.73" y="373.00" text-anchor="middle">1006</text>
<text x="481.12" y="373.00" text-anchor="middle">1008</text>
<text x="526.50" y="373.00" text-anchor="middle">1010</text>
<text x="63.3" y="214.20" text-anchor="end"><tspan style="font-size:12.2px" dy="0.5">−</tspan><tspan dy="-0.5" dx="0.3">40</tspan></text>
<text x="63.3" y="243.30" text-anchor="end"><tspan style="font-size:12.2px" dy="0.5">−</tspan><tspan dy="-0.5" dx="0.3">45</tspan></text>
<text x="63.3" y="272.40" text-anchor="end"><tspan style="font-size:12.2px" dy="0.5">−</tspan><tspan dy="-0.5" dx="0.3">50</tspan></text>
<text x="63.3" y="301.50" text-anchor="end"><tspan style="font-size:12.2px" dy="0.5">−</tspan><tspan dy="-0.5" dx="0.3">55</tspan></text>
<text x="63.3" y="330.60" text-anchor="end"><tspan style="font-size:12.2px" dy="0.5">−</tspan><tspan dy="-0.5" dx="0.3">60</tspan></text>
<text x="63.3" y="359.70" text-anchor="end"><tspan style="font-size:12.2px" dy="0.5">−</tspan><tspan dy="-0.5" dx="0.3">65</tspan></text>
</g>
<rect x="447.6" y="217.80" width="65.9" height="112.20" fill="#fff" stroke="#000" stroke-width="2"/>
<line x1="455.8" y1="228.10" x2="476.8" y2="228.10" stroke="#0072BD" stroke-width="2"/>
<text x="479" y="234.80" class="lg">45℃</text>
<line x1="455.8" y1="242.85" x2="476.8" y2="242.85" stroke="#D95319" stroke-width="2"/>
<text x="479" y="249.55" class="lg">50℃</text>
<line x1="455.8" y1="257.60" x2="476.8" y2="257.60" stroke="#EDB120" stroke-width="2"/>
<text x="479" y="264.30" class="lg">55℃</text>
<line x1="455.8" y1="272.35" x2="476.8" y2="272.35" stroke="#7E2F8E" stroke-width="2"/>
<text x="479" y="279.05" class="lg">60℃</text>
<line x1="455.8" y1="287.10" x2="476.8" y2="287.10" stroke="#77AC30" stroke-width="2"/>
<text x="479" y="293.80" class="lg">65℃</text>
<line x1="455.8" y1="301.85" x2="476.8" y2="301.85" stroke="#4DBEEE" stroke-width="2"/>
<text x="479" y="308.55" class="lg">70℃</text>
<line x1="455.8" y1="316.60" x2="476.8" y2="316.60" stroke="#A2142F" stroke-width="2"/>
<text x="479" y="323.30" class="lg">75℃</text>
<text x="6.2" y="24.7" style="font-size:20.5px" textLength="24.2" lengthAdjust="spacingAndGlyphs">(a)</text>
<text x="6.6" y="216.6" style="font-size:20.5px" textLength="25.8" lengthAdjust="spacingAndGlyphs">(b)</text>
<text transform="translate(37.4 93.2) rotate(-90)" text-anchor="middle" style="font-size:17.5px;stroke-width:0" textLength="93.0" lengthAdjust="spacingAndGlyphs">Power/dBm</text>
<text transform="translate(37.4 277.6) rotate(-90)" text-anchor="middle" style="font-size:17.5px;stroke-width:0" textLength="93.4" lengthAdjust="spacingAndGlyphs">Power/dBm</text>
<text x="230.2" y="195.5" style="font-size:17px;stroke-width:0" textLength="132.4" lengthAdjust="spacingAndGlyphs">Frequency /MHz</text>
<text x="223.2" y="387.0" style="font-size:17px;stroke-width:0" textLength="133.0" lengthAdjust="spacingAndGlyphs">Frequency /MHz</text>
<text x="176.4" y="39.7" style="font-size:14.1px" textLength="146.6" lengthAdjust="spacingAndGlyphs">Move to low frequency</text>
<text x="263.3" y="229.5" style="font-size:14.1px" textLength="152.1" lengthAdjust="spacingAndGlyphs">Move to high frequency</text>
<text x="191.2" y="155.3" style="font-size:14px" textLength="30.2" lengthAdjust="spacingAndGlyphs">FSR1</text>
<text x="222.8" y="155.3" style="font-size:14px" textLength="7.6" lengthAdjust="spacingAndGlyphs">=</text>
<text x="231.2" y="155.3" style="font-size:14px" textLength="66.2" lengthAdjust="spacingAndGlyphs">4.002MHz</text>
<text x="194.3" y="341.8" style="font-size:14px" textLength="31.4" lengthAdjust="spacingAndGlyphs">FSR2</text>
<text x="226.0" y="341.8" style="font-size:14px" textLength="7.9" lengthAdjust="spacingAndGlyphs">=</text>
<text x="234.8" y="341.8" style="font-size:14px" textLength="66.4" lengthAdjust="spacingAndGlyphs">3.910MHz</text>
<g fill="none" stroke="#FF0000" stroke-width="2.2" stroke-linecap="butt"><line x1="332.3" y1="54.6" x2="239.0" y2="54.6"/><path d="M243.9 51.0 L237.9 54.6 L243.9 58.2" stroke-linejoin="miter"/></g>
<g fill="none" stroke="#0A9BE3" stroke-width="2.2" stroke-linecap="butt"><line x1="254.6" y1="239.6" x2="345.0" y2="239.6"/><path d="M340.5 236.0 L346.5 239.6 L340.5 243.2" stroke-linejoin="miter"/></g>
<line x1="199" y1="135.0" x2="280" y2="135.0" stroke="#000" stroke-width="2"/>
<path d="M194.60 135.00 L202.20 131.20 L200.80 135.00 L202.20 138.80 Z" fill="#000" stroke="none"/>
<path d="M284.90 135.00 L277.30 131.20 L278.70 135.00 L277.30 138.80 Z" fill="#000" stroke="none"/>
<line x1="208" y1="323.4" x2="290" y2="323.4" stroke="#000" stroke-width="2"/>
<path d="M203.40 323.40 L211.00 319.60 L209.60 323.40 L211.00 327.20 Z" fill="#000" stroke="none"/>
<path d="M295.00 323.40 L287.40 319.60 L288.80 323.40 L287.40 327.20 Z" fill="#000" stroke="none"/>
</svg>
</body></html>
